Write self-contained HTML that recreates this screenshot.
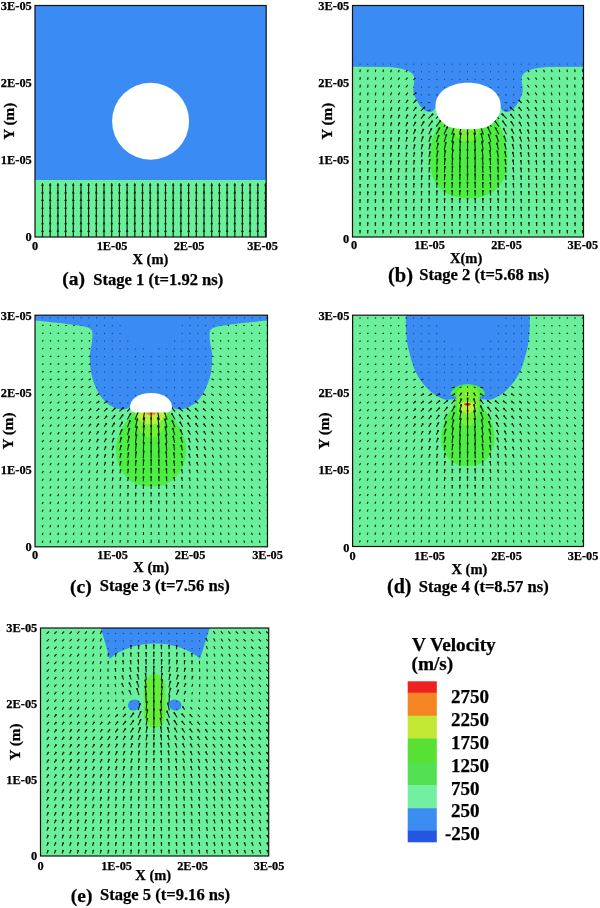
<!DOCTYPE html><html><head><meta charset="utf-8"><style>html,body{margin:0;padding:0;background:#fff}svg{display:block}</style></head><body><svg width="600" height="908" viewBox="0 0 600 908">
<rect width="600" height="908" fill="#fff"/>
<clipPath id="c1"><rect x="35" y="5.5" width="231.2" height="231.5"/></clipPath>
<g clip-path="url(#c1)">
<rect x="35" y="5.5" width="231.2" height="231.5" fill="#3a8cf4"/>
<rect x="35" y="180" width="231.2" height="60" fill="#6af09b"/>
<circle cx="150.6" cy="121.2" r="38.5" fill="#fff"/>
<path d="M42.5 183.5V237.0M50.2 183.5V237.0M57.9 183.5V237.0M65.6 183.5V237.0M73.3 183.5V237.0M81.0 183.5V237.0M88.6 183.5V237.0M96.3 183.5V237.0M104.0 183.5V237.0M111.7 183.5V237.0M119.4 183.5V237.0M127.1 183.5V237.0M134.8 183.5V237.0M142.5 183.5V237.0M150.2 183.5V237.0M157.9 183.5V237.0M165.5 183.5V237.0M173.2 183.5V237.0M180.9 183.5V237.0M188.6 183.5V237.0M196.3 183.5V237.0M204.0 183.5V237.0M211.7 183.5V237.0M219.4 183.5V237.0M227.1 183.5V237.0M234.8 183.5V237.0M242.4 183.5V237.0M250.1 183.5V237.0M257.8 183.5V237.0M265.5 183.5V237.0" stroke="#0c1c12" stroke-width="1.15" fill="none"/>
<path d="M41.1 185.7L42.5 182.9L43.9 185.7ZM41.1 193.4L42.5 190.6L43.9 193.4ZM41.1 201.1L42.5 198.3L43.9 201.1ZM41.1 208.8L42.5 206.0L43.9 208.8ZM41.1 216.5L42.5 213.7L43.9 216.5ZM41.1 224.2L42.5 221.4L43.9 224.2ZM41.1 231.9L42.5 229.1L43.9 231.9ZM41.1 239.6L42.5 236.8L43.9 239.6ZM48.8 185.7L50.2 182.9L51.6 185.7ZM48.8 193.4L50.2 190.6L51.6 193.4ZM48.8 201.1L50.2 198.3L51.6 201.1ZM48.8 208.8L50.2 206.0L51.6 208.8ZM48.8 216.5L50.2 213.7L51.6 216.5ZM48.8 224.2L50.2 221.4L51.6 224.2ZM48.8 231.9L50.2 229.1L51.6 231.9ZM48.8 239.6L50.2 236.8L51.6 239.6ZM56.5 185.7L57.9 182.9L59.3 185.7ZM56.5 193.4L57.9 190.6L59.3 193.4ZM56.5 201.1L57.9 198.3L59.3 201.1ZM56.5 208.8L57.9 206.0L59.3 208.8ZM56.5 216.5L57.9 213.7L59.3 216.5ZM56.5 224.2L57.9 221.4L59.3 224.2ZM56.5 231.9L57.9 229.1L59.3 231.9ZM56.5 239.6L57.9 236.8L59.3 239.6ZM64.2 185.7L65.6 182.9L67.0 185.7ZM64.2 193.4L65.6 190.6L67.0 193.4ZM64.2 201.1L65.6 198.3L67.0 201.1ZM64.2 208.8L65.6 206.0L67.0 208.8ZM64.2 216.5L65.6 213.7L67.0 216.5ZM64.2 224.2L65.6 221.4L67.0 224.2ZM64.2 231.9L65.6 229.1L67.0 231.9ZM64.2 239.6L65.6 236.8L67.0 239.6ZM71.9 185.7L73.3 182.9L74.7 185.7ZM71.9 193.4L73.3 190.6L74.7 193.4ZM71.9 201.1L73.3 198.3L74.7 201.1ZM71.9 208.8L73.3 206.0L74.7 208.8ZM71.9 216.5L73.3 213.7L74.7 216.5ZM71.9 224.2L73.3 221.4L74.7 224.2ZM71.9 231.9L73.3 229.1L74.7 231.9ZM71.9 239.6L73.3 236.8L74.7 239.6ZM79.5 185.7L81.0 182.9L82.4 185.7ZM79.5 193.4L81.0 190.6L82.4 193.4ZM79.5 201.1L81.0 198.3L82.4 201.1ZM79.5 208.8L81.0 206.0L82.4 208.8ZM79.5 216.5L81.0 213.7L82.4 216.5ZM79.5 224.2L81.0 221.4L82.4 224.2ZM79.5 231.9L81.0 229.1L82.4 231.9ZM79.5 239.6L81.0 236.8L82.4 239.6ZM87.2 185.7L88.6 182.9L90.0 185.7ZM87.2 193.4L88.6 190.6L90.0 193.4ZM87.2 201.1L88.6 198.3L90.0 201.1ZM87.2 208.8L88.6 206.0L90.0 208.8ZM87.2 216.5L88.6 213.7L90.0 216.5ZM87.2 224.2L88.6 221.4L90.0 224.2ZM87.2 231.9L88.6 229.1L90.0 231.9ZM87.2 239.6L88.6 236.8L90.0 239.6ZM94.9 185.7L96.3 182.9L97.7 185.7ZM94.9 193.4L96.3 190.6L97.7 193.4ZM94.9 201.1L96.3 198.3L97.7 201.1ZM94.9 208.8L96.3 206.0L97.7 208.8ZM94.9 216.5L96.3 213.7L97.7 216.5ZM94.9 224.2L96.3 221.4L97.7 224.2ZM94.9 231.9L96.3 229.1L97.7 231.9ZM94.9 239.6L96.3 236.8L97.7 239.6ZM102.6 185.7L104.0 182.9L105.4 185.7ZM102.6 193.4L104.0 190.6L105.4 193.4ZM102.6 201.1L104.0 198.3L105.4 201.1ZM102.6 208.8L104.0 206.0L105.4 208.8ZM102.6 216.5L104.0 213.7L105.4 216.5ZM102.6 224.2L104.0 221.4L105.4 224.2ZM102.6 231.9L104.0 229.1L105.4 231.9ZM102.6 239.6L104.0 236.8L105.4 239.6ZM110.3 185.7L111.7 182.9L113.1 185.7ZM110.3 193.4L111.7 190.6L113.1 193.4ZM110.3 201.1L111.7 198.3L113.1 201.1ZM110.3 208.8L111.7 206.0L113.1 208.8ZM110.3 216.5L111.7 213.7L113.1 216.5ZM110.3 224.2L111.7 221.4L113.1 224.2ZM110.3 231.9L111.7 229.1L113.1 231.9ZM110.3 239.6L111.7 236.8L113.1 239.6ZM118.0 185.7L119.4 182.9L120.8 185.7ZM118.0 193.4L119.4 190.6L120.8 193.4ZM118.0 201.1L119.4 198.3L120.8 201.1ZM118.0 208.8L119.4 206.0L120.8 208.8ZM118.0 216.5L119.4 213.7L120.8 216.5ZM118.0 224.2L119.4 221.4L120.8 224.2ZM118.0 231.9L119.4 229.1L120.8 231.9ZM118.0 239.6L119.4 236.8L120.8 239.6ZM125.7 185.7L127.1 182.9L128.5 185.7ZM125.7 193.4L127.1 190.6L128.5 193.4ZM125.7 201.1L127.1 198.3L128.5 201.1ZM125.7 208.8L127.1 206.0L128.5 208.8ZM125.7 216.5L127.1 213.7L128.5 216.5ZM125.7 224.2L127.1 221.4L128.5 224.2ZM125.7 231.9L127.1 229.1L128.5 231.9ZM125.7 239.6L127.1 236.8L128.5 239.6ZM133.4 185.7L134.8 182.9L136.2 185.7ZM133.4 193.4L134.8 190.6L136.2 193.4ZM133.4 201.1L134.8 198.3L136.2 201.1ZM133.4 208.8L134.8 206.0L136.2 208.8ZM133.4 216.5L134.8 213.7L136.2 216.5ZM133.4 224.2L134.8 221.4L136.2 224.2ZM133.4 231.9L134.8 229.1L136.2 231.9ZM133.4 239.6L134.8 236.8L136.2 239.6ZM141.1 185.7L142.5 182.9L143.9 185.7ZM141.1 193.4L142.5 190.6L143.9 193.4ZM141.1 201.1L142.5 198.3L143.9 201.1ZM141.1 208.8L142.5 206.0L143.9 208.8ZM141.1 216.5L142.5 213.7L143.9 216.5ZM141.1 224.2L142.5 221.4L143.9 224.2ZM141.1 231.9L142.5 229.1L143.9 231.9ZM141.1 239.6L142.5 236.8L143.9 239.6ZM148.8 185.7L150.2 182.9L151.6 185.7ZM148.8 193.4L150.2 190.6L151.6 193.4ZM148.8 201.1L150.2 198.3L151.6 201.1ZM148.8 208.8L150.2 206.0L151.6 208.8ZM148.8 216.5L150.2 213.7L151.6 216.5ZM148.8 224.2L150.2 221.4L151.6 224.2ZM148.8 231.9L150.2 229.1L151.6 231.9ZM148.8 239.6L150.2 236.8L151.6 239.6ZM156.5 185.7L157.9 182.9L159.3 185.7ZM156.5 193.4L157.9 190.6L159.3 193.4ZM156.5 201.1L157.9 198.3L159.3 201.1ZM156.5 208.8L157.9 206.0L159.3 208.8ZM156.5 216.5L157.9 213.7L159.3 216.5ZM156.5 224.2L157.9 221.4L159.3 224.2ZM156.5 231.9L157.9 229.1L159.3 231.9ZM156.5 239.6L157.9 236.8L159.3 239.6ZM164.1 185.7L165.5 182.9L166.9 185.7ZM164.1 193.4L165.5 190.6L166.9 193.4ZM164.1 201.1L165.5 198.3L166.9 201.1ZM164.1 208.8L165.5 206.0L166.9 208.8ZM164.1 216.5L165.5 213.7L166.9 216.5ZM164.1 224.2L165.5 221.4L166.9 224.2ZM164.1 231.9L165.5 229.1L166.9 231.9ZM164.1 239.6L165.5 236.8L166.9 239.6ZM171.8 185.7L173.2 182.9L174.6 185.7ZM171.8 193.4L173.2 190.6L174.6 193.4ZM171.8 201.1L173.2 198.3L174.6 201.1ZM171.8 208.8L173.2 206.0L174.6 208.8ZM171.8 216.5L173.2 213.7L174.6 216.5ZM171.8 224.2L173.2 221.4L174.6 224.2ZM171.8 231.9L173.2 229.1L174.6 231.9ZM171.8 239.6L173.2 236.8L174.6 239.6ZM179.5 185.7L180.9 182.9L182.3 185.7ZM179.5 193.4L180.9 190.6L182.3 193.4ZM179.5 201.1L180.9 198.3L182.3 201.1ZM179.5 208.8L180.9 206.0L182.3 208.8ZM179.5 216.5L180.9 213.7L182.3 216.5ZM179.5 224.2L180.9 221.4L182.3 224.2ZM179.5 231.9L180.9 229.1L182.3 231.9ZM179.5 239.6L180.9 236.8L182.3 239.6ZM187.2 185.7L188.6 182.9L190.0 185.7ZM187.2 193.4L188.6 190.6L190.0 193.4ZM187.2 201.1L188.6 198.3L190.0 201.1ZM187.2 208.8L188.6 206.0L190.0 208.8ZM187.2 216.5L188.6 213.7L190.0 216.5ZM187.2 224.2L188.6 221.4L190.0 224.2ZM187.2 231.9L188.6 229.1L190.0 231.9ZM187.2 239.6L188.6 236.8L190.0 239.6ZM194.9 185.7L196.3 182.9L197.7 185.7ZM194.9 193.4L196.3 190.6L197.7 193.4ZM194.9 201.1L196.3 198.3L197.7 201.1ZM194.9 208.8L196.3 206.0L197.7 208.8ZM194.9 216.5L196.3 213.7L197.7 216.5ZM194.9 224.2L196.3 221.4L197.7 224.2ZM194.9 231.9L196.3 229.1L197.7 231.9ZM194.9 239.6L196.3 236.8L197.7 239.6ZM202.6 185.7L204.0 182.9L205.4 185.7ZM202.6 193.4L204.0 190.6L205.4 193.4ZM202.6 201.1L204.0 198.3L205.4 201.1ZM202.6 208.8L204.0 206.0L205.4 208.8ZM202.6 216.5L204.0 213.7L205.4 216.5ZM202.6 224.2L204.0 221.4L205.4 224.2ZM202.6 231.9L204.0 229.1L205.4 231.9ZM202.6 239.6L204.0 236.8L205.4 239.6ZM210.3 185.7L211.7 182.9L213.1 185.7ZM210.3 193.4L211.7 190.6L213.1 193.4ZM210.3 201.1L211.7 198.3L213.1 201.1ZM210.3 208.8L211.7 206.0L213.1 208.8ZM210.3 216.5L211.7 213.7L213.1 216.5ZM210.3 224.2L211.7 221.4L213.1 224.2ZM210.3 231.9L211.7 229.1L213.1 231.9ZM210.3 239.6L211.7 236.8L213.1 239.6ZM218.0 185.7L219.4 182.9L220.8 185.7ZM218.0 193.4L219.4 190.6L220.8 193.4ZM218.0 201.1L219.4 198.3L220.8 201.1ZM218.0 208.8L219.4 206.0L220.8 208.8ZM218.0 216.5L219.4 213.7L220.8 216.5ZM218.0 224.2L219.4 221.4L220.8 224.2ZM218.0 231.9L219.4 229.1L220.8 231.9ZM218.0 239.6L219.4 236.8L220.8 239.6ZM225.7 185.7L227.1 182.9L228.5 185.7ZM225.7 193.4L227.1 190.6L228.5 193.4ZM225.7 201.1L227.1 198.3L228.5 201.1ZM225.7 208.8L227.1 206.0L228.5 208.8ZM225.7 216.5L227.1 213.7L228.5 216.5ZM225.7 224.2L227.1 221.4L228.5 224.2ZM225.7 231.9L227.1 229.1L228.5 231.9ZM225.7 239.6L227.1 236.8L228.5 239.6ZM233.3 185.7L234.8 182.9L236.2 185.7ZM233.3 193.4L234.8 190.6L236.2 193.4ZM233.3 201.1L234.8 198.3L236.2 201.1ZM233.3 208.8L234.8 206.0L236.2 208.8ZM233.3 216.5L234.8 213.7L236.2 216.5ZM233.3 224.2L234.8 221.4L236.2 224.2ZM233.3 231.9L234.8 229.1L236.2 231.9ZM233.3 239.6L234.8 236.8L236.2 239.6ZM241.0 185.7L242.4 182.9L243.8 185.7ZM241.0 193.4L242.4 190.6L243.8 193.4ZM241.0 201.1L242.4 198.3L243.8 201.1ZM241.0 208.8L242.4 206.0L243.8 208.8ZM241.0 216.5L242.4 213.7L243.8 216.5ZM241.0 224.2L242.4 221.4L243.8 224.2ZM241.0 231.9L242.4 229.1L243.8 231.9ZM241.0 239.6L242.4 236.8L243.8 239.6ZM248.7 185.7L250.1 182.9L251.5 185.7ZM248.7 193.4L250.1 190.6L251.5 193.4ZM248.7 201.1L250.1 198.3L251.5 201.1ZM248.7 208.8L250.1 206.0L251.5 208.8ZM248.7 216.5L250.1 213.7L251.5 216.5ZM248.7 224.2L250.1 221.4L251.5 224.2ZM248.7 231.9L250.1 229.1L251.5 231.9ZM248.7 239.6L250.1 236.8L251.5 239.6ZM256.4 185.7L257.8 182.9L259.2 185.7ZM256.4 193.4L257.8 190.6L259.2 193.4ZM256.4 201.1L257.8 198.3L259.2 201.1ZM256.4 208.8L257.8 206.0L259.2 208.8ZM256.4 216.5L257.8 213.7L259.2 216.5ZM256.4 224.2L257.8 221.4L259.2 224.2ZM256.4 231.9L257.8 229.1L259.2 231.9ZM256.4 239.6L257.8 236.8L259.2 239.6ZM264.1 185.7L265.5 182.9L266.9 185.7ZM264.1 193.4L265.5 190.6L266.9 193.4ZM264.1 201.1L265.5 198.3L266.9 201.1ZM264.1 208.8L265.5 206.0L266.9 208.8ZM264.1 216.5L265.5 213.7L266.9 216.5ZM264.1 224.2L265.5 221.4L266.9 224.2ZM264.1 231.9L265.5 229.1L266.9 231.9ZM264.1 239.6L265.5 236.8L266.9 239.6Z" fill="#0c1c12"/>
</g>
<rect x="35" y="5.5" width="231.2" height="231.5" fill="none" stroke="#111" stroke-width="1.2"/>
<text x="31.8" y="241.3" font-size="12.4" text-anchor="end" font-family="Liberation Serif, serif" font-weight="bold" stroke="#000" stroke-width="0.25">0</text>
<text x="31.8" y="164.1" font-size="12.4" text-anchor="end" font-family="Liberation Serif, serif" font-weight="bold" stroke="#000" stroke-width="0.25">1E-05</text>
<text x="31.8" y="87.0" font-size="12.4" text-anchor="end" font-family="Liberation Serif, serif" font-weight="bold" stroke="#000" stroke-width="0.25">2E-05</text>
<text x="31.8" y="9.8" font-size="12.4" text-anchor="end" font-family="Liberation Serif, serif" font-weight="bold" stroke="#000" stroke-width="0.25">3E-05</text>
<text x="35.0" y="249.5" font-size="12.3" text-anchor="middle" font-family="Liberation Serif, serif" font-weight="bold" stroke="#000" stroke-width="0.25">0</text>
<text x="112.1" y="249.5" font-size="12.3" text-anchor="middle" font-family="Liberation Serif, serif" font-weight="bold" stroke="#000" stroke-width="0.25">1E-05</text>
<text x="189.1" y="249.5" font-size="12.3" text-anchor="middle" font-family="Liberation Serif, serif" font-weight="bold" stroke="#000" stroke-width="0.25">2E-05</text>
<text x="262.5" y="249.5" font-size="12.3" text-anchor="middle" font-family="Liberation Serif, serif" font-weight="bold" stroke="#000" stroke-width="0.25">3E-05</text>
<text x="132.5" y="264.0" font-size="14.5" font-family="Liberation Serif, serif" font-weight="bold" stroke="#000" stroke-width="0.25">X (m)</text>
<text transform="translate(14.4,121.2) rotate(-90)" font-size="15.2" text-anchor="middle" textLength="37" lengthAdjust="spacingAndGlyphs" font-family="Liberation Serif, serif" font-weight="bold" stroke="#000" stroke-width="0.25">Y (m)</text>
<text x="62.3" y="285.3" font-size="19.5" font-family="Liberation Serif, serif" font-weight="bold" stroke="#000" stroke-width="0.25">(a)</text>
<text x="93.3" y="284.7" font-size="16.5" textLength="130" lengthAdjust="spacingAndGlyphs" font-family="Liberation Serif, serif" font-weight="bold" stroke="#000" stroke-width="0.25">Stage 1 (t=1.92 ns)</text>
<clipPath id="c2"><rect x="352.5" y="5.5" width="231" height="231.5"/></clipPath>
<g clip-path="url(#c2)">
<rect x="352.5" y="5.5" width="231" height="231.5" fill="#6af09b"/>
<path d="M352.5 0L352.5 66.7L388 66.9C389.7 67.1 394.8 67.4 398.0 68.0C401.2 68.6 404.5 69.4 407.0 70.5C409.5 71.6 411.8 72.9 413.0 74.5C414.2 76.1 414.2 77.4 414.3 80.0C414.4 82.6 413.2 87.2 413.3 90.0C413.4 92.8 414.1 94.8 415.0 97.0C415.9 99.2 417.2 101.5 418.5 103.5C419.8 105.5 421.3 107.6 423.0 109.0C424.7 110.4 426.8 111.7 428.5 112.0C430.2 112.3 431.8 111.6 433.0 110.8C434.2 110.0 435.5 107.6 436.0 107.0L500.0 107.0C500.5 107.6 501.8 110.0 503.0 110.8C504.2 111.6 505.8 112.3 507.5 112.0C509.2 111.7 511.3 110.4 513.0 109.0C514.7 107.6 516.2 105.5 517.5 103.5C518.8 101.5 520.1 99.2 521.0 97.0C521.9 94.8 522.6 92.8 522.7 90.0C522.8 87.2 521.7 82.6 521.7 80.0C521.8 77.4 521.8 76.1 523.0 74.5C524.2 72.9 526.5 71.6 529.0 70.5C531.5 69.4 534.8 68.6 538.0 68.0C541.2 67.4 546.3 67.1 548.0 66.9L584 66.7L584 0Z" fill="#3a8cf4"/>
<path d="M439.0 118.0C438.8 119.0 438.8 121.2 438.0 124.0C437.2 126.8 435.1 131.8 434.0 135.0C432.9 138.2 432.2 138.8 431.5 143.0C430.8 147.2 429.8 154.4 430.0 160.0C430.2 165.6 430.6 171.7 432.5 176.7C434.4 181.7 437.9 186.7 441.7 190.0C445.4 193.3 450.5 195.1 455.0 196.5C459.5 197.9 464.1 198.3 468.7 198.3C473.3 198.3 477.9 197.9 482.4 196.5C486.9 195.1 491.9 193.3 495.7 190.0C499.4 186.7 502.9 181.7 504.9 176.7C506.8 171.7 507.2 165.6 507.4 160.0C507.6 154.4 506.6 147.2 505.9 143.0C505.2 138.8 504.5 138.2 503.4 135.0C502.3 131.8 500.2 126.8 499.4 124.0C498.6 121.2 498.6 119.0 498.4 118.0Z" fill="#4cee42"/>
<path d="M453 125C453 136 459 141.7 466.5 141.7C474 141.7 480 136 480 125Z" fill="#72f232"/>
<path d="M360.0 233.6L360.1 230.2M360.0 225.9L360.1 222.5M360.0 218.3L360.1 214.8M360.0 210.6L360.1 207.1M360.0 202.9L360.1 199.4M360.0 195.2L360.1 191.7M360.0 187.6L360.2 184.0M360.0 179.9L360.2 176.3M360.0 172.2L360.2 168.7M360.0 164.5L360.2 161.0M360.0 156.8L360.3 153.3M360.0 149.1L360.3 145.7M359.9 141.5L360.3 138.0M359.9 133.8L360.3 130.4M359.9 126.1L360.4 122.8M359.9 118.4L360.4 115.1M359.9 110.7L360.4 107.5M359.9 103.0L360.4 99.9M359.9 95.3L360.4 92.3M359.9 87.6L360.4 84.7M359.9 79.9L360.3 77.1M359.9 72.2L360.3 69.4M367.7 233.6L367.7 230.1M367.7 225.9L367.8 222.4M367.7 218.3L367.8 214.7M367.7 210.6L367.8 207.0M367.7 202.9L367.8 199.3M367.7 195.2L367.8 191.6M367.7 187.6L367.8 184.0M367.6 179.9L367.9 176.3M367.6 172.2L367.9 168.6M367.6 164.5L367.9 160.9M367.6 156.8L368.0 153.3M367.6 149.2L368.0 145.6M367.6 141.5L368.0 138.0M367.6 133.8L368.1 130.3M367.6 126.1L368.1 122.7M367.6 118.4L368.1 115.1M367.6 110.7L368.1 107.5M367.6 103.0L368.2 99.9M367.6 95.3L368.1 92.3M367.6 87.6L368.1 84.7M367.6 79.9L368.1 77.1M367.6 72.2L368.1 69.5M375.3 233.6L375.4 230.1M375.3 226.0L375.4 222.4M375.3 218.3L375.5 214.7M375.3 210.6L375.5 207.0M375.3 202.9L375.5 199.3M375.3 195.2L375.5 191.6M375.3 187.6L375.5 183.9M375.3 179.9L375.6 176.2M375.3 172.2L375.6 168.5M375.3 164.5L375.7 160.8M375.3 156.9L375.7 153.2M375.3 149.2L375.8 145.5M375.3 141.5L375.8 137.9M375.3 133.8L375.9 130.3M375.3 126.1L375.9 122.7M375.3 118.4L375.9 115.1M375.3 110.7L376.0 107.5M375.3 103.0L376.0 99.9M375.3 95.3L375.9 92.4M375.3 87.6L375.9 84.8M375.3 79.9L375.9 77.2M375.3 72.2L375.8 69.6M383.0 233.6L383.1 230.1M383.0 226.0L383.1 222.4M383.0 218.3L383.1 214.6M383.0 210.6L383.2 206.9M383.0 202.9L383.2 199.2M383.0 195.3L383.2 191.5M383.0 187.6L383.2 183.8M383.0 179.9L383.3 176.1M383.0 172.2L383.3 168.4M383.0 164.6L383.4 160.7M383.0 156.9L383.5 153.1M383.0 149.2L383.5 145.4M382.9 141.5L383.6 137.8M382.9 133.8L383.7 130.2M382.9 126.1L383.7 122.6M382.9 118.4L383.8 115.0M382.9 110.7L383.8 107.5M382.9 103.0L383.8 99.9M382.9 95.3L383.8 92.4M382.9 87.6L383.7 84.8M382.9 79.9L383.7 77.3M382.9 72.2L383.6 69.7M390.7 233.6L390.8 230.0M390.7 226.0L390.8 222.3M390.7 218.3L390.8 214.6M390.7 210.6L390.8 206.9M390.7 202.9L390.9 199.2M390.7 195.3L390.9 191.5M390.7 187.6L390.9 183.7M390.7 179.9L391.0 176.0M390.7 172.2L391.1 168.3M390.6 164.6L391.1 160.6M390.6 156.9L391.2 152.9M390.6 149.2L391.3 145.3M390.6 141.5L391.4 137.7M390.6 133.8L391.5 130.1M390.6 126.1L391.6 122.5M390.6 118.4L391.7 115.0M390.5 110.7L391.7 107.4M390.5 103.0L391.7 99.9M390.5 95.3L391.7 92.4M390.6 87.6L391.6 84.9M390.6 79.9L391.6 77.4M390.6 72.2L391.5 69.8M398.4 233.6L398.5 230.0M398.4 226.0L398.5 222.3M398.4 218.3L398.5 214.6M398.4 210.6L398.5 206.8M398.4 203.0L398.6 199.1M398.4 195.3L398.6 191.4M398.4 187.6L398.6 183.6M398.3 179.9L398.7 175.9M398.3 172.3L398.8 168.2M398.3 164.6L398.9 160.5M398.3 156.9L399.0 152.8M398.3 149.2L399.1 145.1M398.3 141.5L399.2 137.5M398.2 133.9L399.4 129.9M398.2 126.1L399.5 122.4M398.2 118.4L399.6 114.9M398.2 110.7L399.7 107.4M398.2 103.0L399.7 100.0M398.2 95.3L399.7 92.5M398.2 87.6L399.6 85.0M398.2 79.9L399.5 77.5M398.2 72.2L399.3 69.9M406.1 233.7L406.2 230.0M406.1 226.0L406.2 222.2M406.1 218.3L406.2 214.5M406.1 210.6L406.2 206.8M406.1 203.0L406.2 199.0M406.0 195.3L406.3 191.3M406.0 187.6L406.3 183.5M406.0 180.0L406.4 175.8M406.0 172.3L406.5 168.0M406.0 164.6L406.6 160.3M406.0 157.0L406.8 152.6M405.9 149.3L406.9 144.9M405.9 141.6L407.1 137.2M405.9 133.9L407.4 129.7M405.8 126.2L407.6 122.2M405.8 118.5L407.8 114.7M405.8 110.7L407.9 107.3M405.8 103.0L407.9 100.0M405.8 95.3L407.8 92.6M405.8 87.5L407.7 85.2M405.8 79.8L407.5 77.7M405.9 72.1L407.3 70.2M413.7 233.7L413.8 229.9M413.7 226.0L413.8 222.2M413.7 218.3L413.9 214.4M413.7 210.7L413.9 206.7M413.7 203.0L413.9 198.9M413.7 195.3L414.0 191.1M413.7 187.7L414.0 183.3M413.7 180.0L414.1 175.6M413.7 172.3L414.2 167.8M413.7 164.7L414.4 160.0M413.6 157.0L414.5 152.3M413.6 149.3L414.8 144.5M413.5 141.7L415.1 136.9M413.5 134.0L415.4 129.3M413.4 126.2L415.7 121.9M413.4 118.5L416.0 114.5M413.3 110.8L416.2 107.2M413.3 103.0L416.3 100.0M413.3 95.2L416.2 92.7M413.4 79.8L415.6 77.9M421.4 233.7L421.5 229.9M421.4 226.0L421.5 222.1M421.4 218.3L421.5 214.4M421.4 210.7L421.6 206.6M421.4 203.0L421.6 198.8M421.4 195.4L421.6 191.0M421.4 187.7L421.7 183.1M421.4 180.1L421.8 175.3M421.4 172.4L421.9 167.5M421.3 164.7L422.1 159.7M421.3 157.1L422.3 151.9M421.2 149.4L422.6 144.1M421.2 141.7L423.0 136.4M421.1 134.0L423.5 128.9M421.0 126.3L424.1 121.4M420.9 118.6L424.5 114.2M420.8 110.8L424.9 107.0M429.1 233.7L429.2 229.8M429.1 226.0L429.2 222.1M429.1 218.4L429.2 214.3M429.1 210.7L429.2 206.5M429.1 203.0L429.3 198.6M429.1 195.4L429.3 190.8M429.1 187.7L429.4 182.9M429.1 180.1L429.5 175.0M429.0 172.5L429.6 167.1M429.0 164.8L429.8 159.2M428.9 157.2L430.1 151.3M428.9 149.5L430.5 143.5M428.8 141.8L431.0 135.8M428.7 134.2L431.7 128.2M428.5 126.4L432.5 120.8M428.4 118.6L433.2 113.7M436.8 233.7L436.8 229.8M436.8 226.0L436.9 222.0M436.8 218.4L436.9 214.2M436.8 210.7L436.9 206.3M436.8 203.1L436.9 198.4M436.8 195.4L437.0 190.5M436.8 187.8L437.0 182.6M436.7 180.2L437.1 174.6M436.7 172.5L437.3 166.7M436.7 164.9L437.5 158.7M436.6 157.3L437.8 150.7M436.5 149.6L438.3 142.8M436.4 142.0L438.9 135.0M436.3 134.3L439.8 127.4M436.1 126.6L440.8 120.1M435.9 118.7L441.7 113.1M444.5 233.7L444.5 229.7M444.5 226.0L444.5 221.9M444.5 218.4L444.5 214.1M444.5 210.7L444.6 206.2M444.5 203.1L444.6 198.3M444.5 195.5L444.6 190.3M444.4 187.9L444.7 182.3M444.4 180.2L444.8 174.3M444.4 172.6L444.9 166.2M444.4 165.0L445.1 158.1M444.3 157.4L445.4 150.1M444.2 149.8L445.9 142.1M444.1 142.1L446.6 134.2M443.9 134.5L447.6 126.5M443.8 126.7L448.6 119.2M452.2 233.7L452.2 229.7M452.2 226.0L452.2 221.9M452.2 218.4L452.2 214.0M452.1 210.8L452.2 206.1M452.1 203.1L452.2 198.1M452.1 195.5L452.3 190.1M452.1 187.9L452.3 182.0M452.1 180.3L452.4 173.9M452.1 172.7L452.5 165.8M452.1 165.1L452.6 157.6M452.0 157.5L452.9 149.5M452.0 149.9L453.3 141.4M451.8 142.3L454.0 133.4M451.7 134.6L454.8 125.6M459.8 233.7L459.9 229.7M459.8 226.1L459.9 221.8M459.8 218.4L459.9 213.9M459.8 210.8L459.9 206.0M459.8 203.2L459.9 198.0M459.8 195.5L459.9 189.9M459.8 187.9L459.9 181.8M459.8 180.3L460.0 173.7M459.8 172.8L460.0 165.5M459.8 165.2L460.1 157.3M459.8 157.6L460.3 149.1M459.7 150.0L460.5 140.9M459.7 142.4L460.9 132.8M459.6 134.7L461.4 125.0M467.5 233.7L467.5 229.7M467.5 226.1L467.5 221.8M467.5 218.4L467.5 213.9M467.5 210.8L467.5 206.0M467.5 203.2L467.5 197.9M467.5 195.6L467.5 189.9M467.5 188.0L467.5 181.7M467.5 180.4L467.5 173.6M467.5 172.8L467.5 165.4M467.5 165.2L467.5 157.1M467.5 157.6L467.5 148.9M467.5 150.0L467.6 140.7M467.5 142.4L467.6 132.5M467.5 134.8L467.6 124.7M475.2 233.7L475.2 229.7M475.2 226.1L475.2 221.8M475.2 218.4L475.2 213.9M475.2 210.8L475.2 206.0M475.2 203.2L475.2 198.0M475.2 195.5L475.1 189.9M475.2 187.9L475.1 181.8M475.2 180.3L475.1 173.6M475.2 172.8L475.0 165.5M475.2 165.2L475.0 157.3M475.3 157.6L474.8 149.0M475.3 150.0L474.6 140.8M475.4 142.4L474.3 132.7M475.4 134.7L473.8 124.9M482.9 233.7L482.9 229.7M482.9 226.0L482.8 221.9M482.9 218.4L482.8 214.0M482.9 210.8L482.8 206.1M482.9 203.1L482.8 198.1M482.9 195.5L482.8 190.1M482.9 187.9L482.7 182.0M482.9 180.3L482.7 173.9M482.9 172.7L482.6 165.7M483.0 165.1L482.4 157.6M483.0 157.5L482.2 149.4M483.1 149.9L481.8 141.3M483.2 142.3L481.2 133.3M483.3 134.6L480.4 125.5M490.6 233.7L490.5 229.7M490.6 226.0L490.5 221.9M490.6 218.4L490.5 214.1M490.6 210.7L490.5 206.2M490.6 203.1L490.5 198.2M490.6 195.5L490.4 190.3M490.6 187.9L490.4 182.3M490.6 180.2L490.3 174.2M490.6 172.6L490.2 166.2M490.7 165.0L490.0 158.1M490.7 157.4L489.6 150.0M490.8 149.8L489.2 142.0M490.9 142.2L488.4 134.1M491.1 134.5L487.5 126.4M491.3 126.7L486.5 119.1M498.2 233.7L498.2 229.8M498.3 226.0L498.2 222.0M498.3 218.4L498.2 214.2M498.3 210.7L498.1 206.3M498.3 203.1L498.1 198.4M498.3 195.4L498.1 190.5M498.3 187.8L498.0 182.6M498.3 180.2L497.9 174.6M498.3 172.6L497.8 166.6M498.4 164.9L497.6 158.6M498.4 157.3L497.2 150.7M498.5 149.7L496.8 142.7M498.6 142.0L496.1 134.9M498.8 134.3L495.2 127.3M499.0 126.6L494.2 120.0M499.1 118.8L493.3 113.0M505.9 233.7L505.9 229.8M505.9 226.0L505.8 222.0M505.9 218.4L505.8 214.3M505.9 210.7L505.8 206.4M505.9 203.0L505.8 198.6M506.0 195.4L505.7 190.7M506.0 187.8L505.7 182.9M506.0 180.1L505.6 175.0M506.0 172.5L505.4 167.1M506.0 164.8L505.2 159.2M506.1 157.2L504.9 151.3M506.2 149.5L504.5 143.4M506.3 141.9L504.0 135.7M506.4 134.2L503.3 128.1M506.5 126.4L502.5 120.7M506.7 118.7L501.7 113.6M513.6 233.7L513.5 229.9M513.6 226.0L513.5 222.1M513.6 218.3L513.5 214.3M513.6 210.7L513.5 206.6M513.6 203.0L513.4 198.8M513.6 195.4L513.4 190.9M513.6 187.7L513.3 183.1M513.7 180.1L513.2 175.3M513.7 172.4L513.1 167.4M513.7 164.8L512.9 159.6M513.8 157.1L512.7 151.8M513.8 149.4L512.4 144.0M513.9 141.8L512.0 136.3M514.0 134.1L511.4 128.8M514.1 126.3L510.9 121.4M514.2 118.6L510.4 114.1M514.2 110.8L510.0 107.0M521.3 233.7L521.2 229.9M521.3 226.0L521.2 222.2M521.3 218.3L521.2 214.4M521.3 210.7L521.1 206.7M521.3 203.0L521.1 198.9M521.3 195.3L521.1 191.1M521.3 187.7L521.0 183.3M521.3 180.0L520.9 175.5M521.4 172.4L520.8 167.7M521.4 164.7L520.7 160.0M521.4 157.0L520.5 152.2M521.5 149.3L520.2 144.5M521.5 141.7L519.9 136.8M521.6 134.0L519.6 129.3M521.6 126.2L519.2 121.8M521.7 118.5L518.9 114.5M521.7 110.8L518.7 107.2M521.7 103.0L518.7 100.0M529.0 233.7L528.9 229.9M529.0 226.0L528.9 222.2M529.0 218.3L528.9 214.5M529.0 210.6L528.8 206.7M529.0 203.0L528.8 199.0M529.0 195.3L528.8 191.2M529.0 187.6L528.7 183.5M529.0 180.0L528.6 175.7M529.0 172.3L528.5 168.0M529.1 164.6L528.4 160.2M529.1 157.0L528.3 152.5M529.1 149.3L528.1 144.8M529.2 141.6L527.9 137.2M529.2 133.9L527.6 129.6M529.2 126.2L527.4 122.1M529.3 118.5L527.2 114.7M529.3 110.7L527.1 107.3M529.3 103.0L527.1 100.0M529.3 95.3L527.1 92.6M529.3 87.5L527.3 85.2M529.2 79.8L527.5 77.7M529.2 72.1L527.8 70.2M536.7 233.6L536.6 230.0M536.7 226.0L536.6 222.3M536.7 218.3L536.5 214.5M536.7 210.6L536.5 206.8M536.7 203.0L536.5 199.1M536.7 195.3L536.4 191.4M536.7 187.6L536.4 183.6M536.7 179.9L536.3 175.9M536.7 172.3L536.3 168.2M536.7 164.6L536.2 160.4M536.7 156.9L536.1 152.8M536.8 149.2L535.9 145.1M536.8 141.6L535.8 137.5M536.8 133.9L535.6 129.9M536.8 126.2L535.5 122.3M536.9 118.4L535.3 114.8M536.9 110.7L535.3 107.4M536.9 103.0L535.3 100.0M536.9 95.3L535.3 92.5M536.9 87.6L535.4 85.0M536.8 79.8L535.5 77.5M536.8 72.1L535.7 70.0M544.3 233.6L544.2 230.0M544.3 226.0L544.2 222.3M544.3 218.3L544.2 214.6M544.3 210.6L544.2 206.9M544.3 202.9L544.2 199.2M544.4 195.3L544.1 191.4M544.4 187.6L544.1 183.7M544.4 179.9L544.0 176.0M544.4 172.3L544.0 168.3M544.4 164.6L543.9 160.6M544.4 156.9L543.8 152.9M544.4 149.2L543.7 145.3M544.4 141.5L543.6 137.6M544.5 133.8L543.5 130.0M544.5 126.1L543.4 122.5M544.5 118.4L543.3 115.0M544.5 110.7L543.3 107.4M544.5 103.0L543.3 99.9M544.5 95.3L543.3 92.4M544.5 87.6L543.4 84.9M544.5 79.9L543.5 77.4M544.5 72.2L543.6 69.8M552.0 233.6L551.9 230.1M552.0 226.0L551.9 222.4M552.0 218.3L551.9 214.6M552.0 210.6L551.9 206.9M552.0 202.9L551.9 199.2M552.0 195.3L551.8 191.5M552.0 187.6L551.8 183.8M552.0 179.9L551.7 176.1M552.1 172.2L551.7 168.4M552.1 164.6L551.6 160.7M552.1 156.9L551.6 153.1M552.1 149.2L551.5 145.4M552.1 141.5L551.4 137.8M552.1 133.8L551.4 130.2M552.1 126.1L551.3 122.6M552.1 118.4L551.2 115.0M552.1 110.7L551.2 107.5M552.1 103.0L551.2 99.9M552.1 95.3L551.2 92.4M552.1 87.6L551.3 84.8M552.1 79.9L551.3 77.3M552.1 72.2L551.4 69.7M559.7 233.6L559.6 230.1M559.7 226.0L559.6 222.4M559.7 218.3L559.6 214.7M559.7 210.6L559.6 207.0M559.7 202.9L559.5 199.3M559.7 195.3L559.5 191.6M559.7 187.6L559.5 183.9M559.7 179.9L559.5 176.2M559.7 172.2L559.4 168.5M559.7 164.5L559.4 160.8M559.7 156.9L559.3 153.2M559.8 149.2L559.3 145.5M559.8 141.5L559.2 137.9M559.8 133.8L559.2 130.3M559.8 126.1L559.1 122.7M559.8 118.4L559.1 115.1M559.8 110.7L559.1 107.5M559.8 103.0L559.1 99.9M559.8 95.3L559.1 92.4M559.8 87.6L559.1 84.8M559.8 79.9L559.1 77.2M559.8 72.2L559.2 69.6M567.4 233.6L567.3 230.1M567.4 225.9L567.3 222.4M567.4 218.3L567.3 214.7M567.4 210.6L567.3 207.0M567.4 202.9L567.2 199.3M567.4 195.2L567.2 191.6M567.4 187.6L567.2 184.0M567.4 179.9L567.2 176.3M567.4 172.2L567.1 168.6M567.4 164.5L567.1 160.9M567.4 156.8L567.1 153.3M567.4 149.2L567.0 145.6M567.4 141.5L567.0 138.0M567.4 133.8L566.9 130.3M567.4 126.1L566.9 122.7M567.4 118.4L566.9 115.1M567.4 110.7L566.9 107.5M567.4 103.0L566.9 99.9M567.4 95.3L566.9 92.3M567.4 87.6L566.9 84.7M567.4 79.9L566.9 77.1M567.4 72.2L567.0 69.5M575.1 233.6L575.0 230.1M575.1 225.9L575.0 222.5M575.1 218.3L575.0 214.8M575.1 210.6L574.9 207.1M575.1 202.9L574.9 199.4M575.1 195.2L574.9 191.7M575.1 187.6L574.9 184.0M575.1 179.9L574.9 176.3M575.1 172.2L574.8 168.6M575.1 164.5L574.8 161.0M575.1 156.8L574.8 153.3M575.1 149.1L574.8 145.7M575.1 141.5L574.7 138.0M575.1 133.8L574.7 130.4M575.1 126.1L574.7 122.8M575.1 118.4L574.7 115.1M575.1 110.7L574.7 107.5M575.1 103.0L574.6 99.9M575.1 95.3L574.7 92.3M575.1 87.6L574.7 84.7M575.1 79.9L574.7 77.1M575.1 72.2L574.7 69.4M582.7 233.6L582.7 230.2M582.7 225.9L582.6 222.5M582.7 218.3L582.6 214.8M582.7 210.6L582.6 207.1M582.7 202.9L582.6 199.4M582.7 195.2L582.6 191.7M582.7 187.5L582.6 184.1M582.7 179.9L582.6 176.4M582.8 172.2L582.5 168.7M582.8 164.5L582.5 161.0M582.8 156.8L582.5 153.4M582.8 149.1L582.5 145.7M582.8 141.4L582.5 138.1M582.8 133.8L582.4 130.4M582.8 126.1L582.4 122.8M582.8 118.4L582.4 115.2M582.8 110.7L582.4 107.5M582.8 103.0L582.4 99.9M582.8 95.3L582.4 92.3M582.8 87.6L582.4 84.7M582.8 79.9L582.4 77.0M582.8 72.2L582.4 69.4" stroke="#0c1c12" stroke-width="1.1" fill="none"/>
<path d="M360.0 231.4L360.1 230.2M360.0 223.7L360.1 222.5M360.1 216.0L360.1 214.8M360.1 208.3L360.1 207.1M360.1 200.6L360.1 199.4M360.1 192.9L360.1 191.7M360.1 185.2L360.2 184.0M360.1 177.6L360.2 176.3M360.1 169.9L360.2 168.7M360.1 162.2L360.2 161.0M360.1 154.5L360.3 153.3M360.2 146.9L360.3 145.7M360.2 139.2L360.3 138.0M367.7 231.3L367.7 230.1M367.7 223.7L367.8 222.4M367.7 216.0L367.8 214.7M367.7 208.3L367.8 207.0M367.8 200.6L367.8 199.3M367.8 192.9L367.8 191.6M367.8 185.2L367.8 184.0M367.8 177.5L367.9 176.3M367.8 169.9L367.9 168.6M367.8 162.2L367.9 160.9M367.9 154.5L368.0 153.3M367.9 146.8L368.0 145.6M367.9 139.2L368.0 138.0M367.9 131.5L368.1 130.3M375.4 231.3L375.4 230.1M375.4 223.6L375.4 222.4M375.4 215.9L375.5 214.7M375.4 208.3L375.5 207.0M375.4 200.6L375.5 199.3M375.5 192.9L375.5 191.6M375.5 185.2L375.5 183.9M375.5 177.5L375.6 176.2M375.5 169.8L375.6 168.5M375.5 162.1L375.7 160.8M375.6 154.5L375.7 153.2M375.6 146.8L375.8 145.5M375.6 139.1L375.8 137.9M375.7 131.5L375.9 130.3M375.7 123.9L375.9 122.7M383.1 231.3L383.1 230.1M383.1 223.6L383.1 222.4M383.1 215.9L383.1 214.6M383.1 208.2L383.2 206.9M383.1 200.5L383.2 199.2M383.1 192.8L383.2 191.5M383.2 185.1L383.2 183.8M383.2 177.4L383.3 176.1M383.2 169.8L383.3 168.4M383.2 162.1L383.4 160.7M383.3 154.4L383.5 153.1M383.3 146.7L383.5 145.4M383.4 139.1L383.6 137.8M383.4 131.5L383.7 130.2M383.4 123.8L383.7 122.6M383.5 116.2L383.8 115.0M390.8 231.3L390.8 230.0M390.8 223.6L390.8 222.3M390.8 215.9L390.8 214.6M390.8 208.2L390.8 206.9M390.8 200.5L390.9 199.2M390.8 192.8L390.9 191.5M390.9 185.1L390.9 183.7M390.9 177.4L391.0 176.0M390.9 169.7L391.1 168.3M391.0 162.0L391.1 160.6M391.0 154.3L391.2 152.9M391.1 146.7L391.3 145.3M391.1 139.0L391.4 137.7M391.2 131.4L391.5 130.1M391.2 123.8L391.6 122.5M391.3 116.2L391.7 115.0M391.3 108.6L391.7 107.4M398.4 231.3L398.5 230.0M398.5 223.6L398.5 222.3M398.5 215.9L398.5 214.6M398.5 208.2L398.5 206.8M398.5 200.4L398.6 199.1M398.5 192.7L398.6 191.4M398.5 185.0L398.6 183.6M398.6 177.3L398.7 175.9M398.6 169.6L398.8 168.2M398.7 161.9L398.9 160.5M398.7 154.2L399.0 152.8M398.8 146.6L399.1 145.1M398.9 138.9L399.2 137.5M399.0 131.3L399.4 129.9M399.1 123.7L399.5 122.4M399.1 116.1L399.6 114.9M399.2 108.6L399.7 107.4M399.2 101.0L399.7 100.0M406.1 231.2L406.2 230.0M406.1 223.5L406.2 222.2M406.1 215.8L406.2 214.5M406.2 208.1L406.2 206.8M406.2 200.4L406.2 199.0M406.2 192.7L406.3 191.3M406.2 185.0L406.3 183.5M406.3 177.2L406.4 175.8M406.3 169.5L406.5 168.0M406.4 161.8L406.6 160.3M406.5 154.1L406.8 152.6M406.6 146.4L406.9 144.9M406.7 138.8L407.1 137.2M406.8 131.1L407.4 129.7M407.0 123.6L407.6 122.2M407.1 116.0L407.8 114.7M407.1 108.5L407.9 107.3M407.2 101.0L407.9 100.0M413.8 231.2L413.8 229.9M413.8 223.5L413.8 222.2M413.8 215.8L413.9 214.4M413.8 208.1L413.9 206.7M413.9 200.3L413.9 198.9M413.9 192.6L414.0 191.1M413.9 184.9L414.0 183.3M414.0 177.1L414.1 175.6M414.0 169.4L414.2 167.8M414.1 161.6L414.4 160.0M414.2 153.9L414.5 152.3M414.4 146.2L414.8 144.5M414.5 138.6L415.1 136.9M414.7 130.9L415.4 129.3M414.9 123.4L415.7 121.9M415.1 115.9L416.0 114.5M415.2 108.5L416.2 107.2M415.2 101.0L416.3 100.0M415.2 93.6L416.2 92.7M421.5 231.2L421.5 229.9M421.5 223.5L421.5 222.1M421.5 215.7L421.5 214.4M421.5 208.0L421.6 206.6M421.5 200.3L421.6 198.8M421.6 192.5L421.6 191.0M421.6 184.7L421.7 183.1M421.7 177.0L421.8 175.3M421.7 169.2L421.9 167.5M421.8 161.4L422.1 159.7M422.0 153.7L422.3 151.9M422.1 146.0L422.6 144.1M422.4 138.3L423.0 136.4M422.7 130.7L423.5 128.9M423.0 123.1L424.1 121.4M423.3 115.7L424.5 114.2M423.4 108.4L424.9 107.0M429.2 231.2L429.2 229.8M429.2 223.4L429.2 222.1M429.2 215.7L429.2 214.3M429.2 207.9L429.2 206.5M429.2 200.2L429.3 198.6M429.2 192.4L429.3 190.8M429.3 184.6L429.4 182.9M429.3 176.8L429.5 175.0M429.4 169.0L429.6 167.1M429.5 161.2L429.8 159.2M429.7 153.3L430.1 151.3M430.0 145.5L430.5 143.5M430.3 137.7L431.0 135.8M430.8 130.0L431.7 128.2M431.3 122.5L432.5 120.8M431.8 115.1L433.2 113.7M436.8 231.1L436.8 229.8M436.8 223.4L436.9 222.0M436.8 215.6L436.9 214.2M436.9 207.9L436.9 206.3M436.9 200.1L436.9 198.4M436.9 192.3L437.0 190.5M436.9 184.4L437.0 182.6M437.0 176.6L437.1 174.6M437.1 168.7L437.3 166.7M437.2 160.7L437.5 158.7M437.4 152.7L437.8 150.7M437.8 144.8L438.3 142.8M438.3 136.9L438.9 135.0M438.9 129.2L439.8 127.4M439.6 121.7L440.8 120.1M440.3 114.5L441.7 113.1M444.5 231.1L444.5 229.7M444.5 223.4L444.5 221.9M444.5 215.6L444.5 214.1M444.5 207.8L444.6 206.2M444.5 200.0L444.6 198.3M444.6 192.1L444.6 190.3M444.6 184.2L444.7 182.3M444.7 176.3L444.8 174.3M444.7 168.2L444.9 166.2M444.9 160.1L445.1 158.1M445.1 152.1L445.4 150.1M445.5 144.0L445.9 142.1M446.0 136.1L446.6 134.2M446.7 128.3L447.6 126.5M447.5 120.9L448.6 119.2M452.2 231.1L452.2 229.7M452.2 223.3L452.2 221.9M452.2 215.5L452.2 214.0M452.2 207.7L452.2 206.1M452.2 199.9L452.2 198.1M452.2 192.0L452.3 190.1M452.2 184.0L452.3 182.0M452.3 175.9L452.4 173.9M452.4 167.8L452.5 165.8M452.5 159.6L452.6 157.6M452.7 151.5L452.9 149.5M453.0 143.4L453.3 141.4M453.5 135.3L454.0 133.4M454.1 127.5L454.8 125.6M459.8 231.1L459.9 229.7M459.9 223.3L459.9 221.8M459.9 215.5L459.9 213.9M459.9 207.7L459.9 206.0M459.9 199.8L459.9 198.0M459.9 191.9L459.9 189.9M459.9 183.8L459.9 181.8M459.9 175.7L460.0 173.7M460.0 167.5L460.0 165.5M460.0 159.3L460.1 157.3M460.1 151.1L460.3 149.1M460.3 142.9L460.5 140.9M460.6 134.8L460.9 132.8M461.0 126.9L461.4 125.0M467.5 231.1L467.5 229.7M467.5 223.3L467.5 221.8M467.5 215.5L467.5 213.9M467.5 207.6L467.5 206.0M467.5 199.8L467.5 197.9M467.5 191.9L467.5 189.9M467.5 183.7L467.5 181.7M467.5 175.6L467.5 173.6M467.5 167.4L467.5 165.4M467.5 159.1L467.5 157.1M467.5 150.9L467.5 148.9M467.6 142.7L467.6 140.7M467.6 134.5L467.6 132.5M467.6 126.7L467.6 124.7M475.2 231.1L475.2 229.7M475.2 223.3L475.2 221.8M475.2 215.5L475.2 213.9M475.2 207.7L475.2 206.0M475.2 199.8L475.2 198.0M475.2 191.9L475.1 189.9M475.2 183.8L475.1 181.8M475.1 175.6L475.1 173.6M475.1 167.5L475.0 165.5M475.0 159.3L475.0 157.3M474.9 151.0L474.8 149.0M474.8 142.8L474.6 140.8M474.5 134.7L474.3 132.7M474.2 126.9L473.8 124.9M482.9 231.1L482.9 229.7M482.9 223.3L482.8 221.9M482.9 215.5L482.8 214.0M482.8 207.7L482.8 206.1M482.8 199.9L482.8 198.1M482.8 192.0L482.8 190.1M482.8 184.0L482.7 182.0M482.8 175.9L482.7 173.9M482.7 167.7L482.6 165.7M482.6 159.6L482.4 157.6M482.4 151.4L482.2 149.4M482.1 143.3L481.8 141.3M481.6 135.2L481.2 133.3M481.0 127.4L480.4 125.5M490.5 231.1L490.5 229.7M490.5 223.4L490.5 221.9M490.5 215.6L490.5 214.1M490.5 207.8L490.5 206.2M490.5 199.9L490.5 198.2M490.5 192.1L490.4 190.3M490.4 184.2L490.4 182.3M490.4 176.2L490.3 174.2M490.3 168.1L490.2 166.2M490.2 160.1L490.0 158.1M489.9 152.0L489.6 150.0M489.6 143.9L489.2 142.0M489.0 136.0L488.4 134.1M488.3 128.2L487.5 126.4M487.5 120.8L486.5 119.1M498.2 231.1L498.2 229.8M498.2 223.4L498.2 222.0M498.2 215.6L498.2 214.2M498.2 207.9L498.1 206.3M498.2 200.1L498.1 198.4M498.1 192.2L498.1 190.5M498.1 184.4L498.0 182.6M498.0 176.5L497.9 174.6M498.0 168.6L497.8 166.6M497.8 160.6L497.6 158.6M497.6 152.6L497.2 150.7M497.3 144.7L496.8 142.7M496.8 136.8L496.1 134.9M496.1 129.1L495.2 127.3M495.4 121.6L494.2 120.0M494.7 114.4L493.3 113.0M505.9 231.2L505.9 229.8M505.9 223.4L505.8 222.0M505.9 215.7L505.8 214.3M505.9 207.9L505.8 206.4M505.8 200.2L505.8 198.6M505.8 192.4L505.7 190.7M505.8 184.6L505.7 182.9M505.7 176.8L505.6 175.0M505.6 168.9L505.4 167.1M505.5 161.1L505.2 159.2M505.3 153.2L504.9 151.3M505.1 145.4L504.5 143.4M504.7 137.6L504.0 135.7M504.2 129.9L503.3 128.1M503.6 122.4L502.5 120.7M503.1 115.1L501.7 113.6M513.6 231.2L513.5 229.9M513.6 223.5L513.5 222.1M513.5 215.7L513.5 214.3M513.5 208.0L513.5 206.6M513.5 200.3L513.4 198.8M513.5 192.5L513.4 190.9M513.4 184.7L513.3 183.1M513.4 176.9L513.2 175.3M513.3 169.2L513.1 167.4M513.2 161.4L512.9 159.6M513.1 153.6L512.7 151.8M512.9 145.9L512.4 144.0M512.6 138.2L512.0 136.3M512.3 130.6L511.4 128.8M512.0 123.0L510.9 121.4M511.7 115.6L510.4 114.1M511.5 108.3L510.0 107.0M521.2 231.2L521.2 229.9M521.2 223.5L521.2 222.2M521.2 215.8L521.2 214.4M521.2 208.1L521.1 206.7M521.2 200.3L521.1 198.9M521.2 192.6L521.1 191.1M521.1 184.8L521.0 183.3M521.1 177.1L520.9 175.5M521.0 169.4L520.8 167.7M520.9 161.6L520.7 160.0M520.8 153.9L520.5 152.2M520.7 146.2L520.2 144.5M520.5 138.5L519.9 136.8M520.3 130.9L519.6 129.3M520.1 123.4L519.2 121.8M519.9 115.9L518.9 114.5M519.8 108.4L518.7 107.2M519.7 101.0L518.7 100.0M528.9 231.2L528.9 229.9M528.9 223.5L528.9 222.2M528.9 215.8L528.9 214.5M528.9 208.1L528.8 206.7M528.9 200.4L528.8 199.0M528.8 192.7L528.8 191.2M528.8 184.9L528.7 183.5M528.8 177.2L528.6 175.7M528.7 169.5L528.5 168.0M528.6 161.8L528.4 160.2M528.6 154.1L528.3 152.5M528.4 146.4L528.1 144.8M528.3 138.7L527.9 137.2M528.2 131.1L527.6 129.6M528.1 123.5L527.4 122.1M527.9 116.0L527.2 114.7M527.9 108.5L527.1 107.3M527.8 101.0L527.1 100.0M527.9 93.5L527.1 92.6M536.6 231.3L536.6 230.0M536.6 223.6L536.6 222.3M536.6 215.9L536.5 214.5M536.6 208.2L536.5 206.8M536.5 200.4L536.5 199.1M536.5 192.7L536.4 191.4M536.5 185.0L536.4 183.6M536.5 177.3L536.3 175.9M536.4 169.6L536.3 168.2M536.4 161.9L536.2 160.4M536.3 154.2L536.1 152.8M536.2 146.5L535.9 145.1M536.1 138.9L535.8 137.5M536.0 131.3L535.6 129.9M536.0 123.7L535.5 122.3M535.9 116.1L535.3 114.8M535.8 108.6L535.3 107.4M535.8 101.0L535.3 100.0M544.3 231.3L544.2 230.0M544.3 223.6L544.2 222.3M544.3 215.9L544.2 214.6M544.2 208.2L544.2 206.9M544.2 200.5L544.2 199.2M544.2 192.8L544.1 191.4M544.2 185.1L544.1 183.7M544.2 177.4L544.0 176.0M544.1 169.7L544.0 168.3M544.1 162.0L543.9 160.6M544.0 154.3L543.8 152.9M544.0 146.7L543.7 145.3M543.9 139.0L543.6 137.6M543.8 131.4L543.5 130.0M543.8 123.8L543.4 122.5M543.7 116.2L543.3 115.0M543.7 108.6L543.3 107.4M552.0 231.3L551.9 230.1M551.9 223.6L551.9 222.4M551.9 215.9L551.9 214.6M551.9 208.2L551.9 206.9M551.9 200.5L551.9 199.2M551.9 192.8L551.8 191.5M551.9 185.1L551.8 183.8M551.9 177.4L551.7 176.1M551.8 169.8L551.7 168.4M551.8 162.1L551.6 160.7M551.8 154.4L551.6 153.1M551.7 146.7L551.5 145.4M551.7 139.1L551.4 137.8M551.6 131.4L551.4 130.2M551.6 123.8L551.3 122.6M551.6 116.2L551.2 115.0M559.6 231.3L559.6 230.1M559.6 223.6L559.6 222.4M559.6 215.9L559.6 214.7M559.6 208.3L559.6 207.0M559.6 200.6L559.5 199.3M559.6 192.9L559.5 191.6M559.6 185.2L559.5 183.9M559.5 177.5L559.5 176.2M559.5 169.8L559.4 168.5M559.5 162.1L559.4 160.8M559.5 154.5L559.3 153.2M559.4 146.8L559.3 145.5M559.4 139.1L559.2 137.9M559.4 131.5L559.2 130.3M559.4 123.9L559.1 122.7M567.3 231.3L567.3 230.1M567.3 223.7L567.3 222.4M567.3 216.0L567.3 214.7M567.3 208.3L567.3 207.0M567.3 200.6L567.2 199.3M567.3 192.9L567.2 191.6M567.3 185.2L567.2 184.0M567.2 177.5L567.2 176.3M567.2 169.9L567.1 168.6M567.2 162.2L567.1 160.9M567.2 154.5L567.1 153.3M567.2 146.8L567.0 145.6M567.1 139.2L567.0 138.0M567.1 131.5L566.9 130.3M567.1 123.9L566.9 122.7M575.0 231.4L575.0 230.1M575.0 223.7L575.0 222.5M575.0 216.0L575.0 214.8M575.0 208.3L574.9 207.1M575.0 200.6L574.9 199.4M575.0 192.9L574.9 191.7M574.9 185.2L574.9 184.0M574.9 177.6L574.9 176.3M574.9 169.9L574.8 168.6M574.9 162.2L574.8 161.0M574.9 154.5L574.8 153.3M574.9 146.9L574.8 145.7M574.9 139.2L574.7 138.0M574.8 131.6L574.7 130.4M582.7 231.4L582.7 230.2M582.7 223.7L582.6 222.5M582.7 216.0L582.6 214.8M582.7 208.3L582.6 207.1M582.7 200.6L582.6 199.4M582.6 193.0L582.6 191.7M582.6 185.3L582.6 184.1M582.6 177.6L582.6 176.4M582.6 169.9L582.5 168.7M582.6 162.2L582.5 161.0M582.6 154.6L582.5 153.4M582.6 146.9L582.5 145.7" stroke="#0c1c12" stroke-width="1.55" fill="none"/>
<path d="M359.8 64.6L360.2 63.7M367.5 64.6L367.9 63.7M375.1 64.6L375.6 63.7M382.8 64.6L383.3 63.7M390.5 64.6L390.9 63.7M398.2 64.6L398.6 63.7M405.9 64.6L406.3 63.7M413.3 87.4L414.2 87.0M413.4 72.2L414.1 71.4M413.5 64.6L414.0 63.7M420.5 102.7L422.3 102.4M420.8 95.0L422.0 94.7M421.0 87.3L421.9 87.1M421.0 79.7L421.9 79.3M421.0 72.1L421.9 71.5M421.2 64.6L421.7 63.7M427.6 110.4L430.7 110.0M427.9 102.7L430.3 102.4M428.3 95.0L429.9 94.8M428.6 87.2L429.6 87.1M428.6 79.6L429.6 79.4M428.6 72.0L429.6 71.7M428.9 64.6L429.3 63.7M435.8 94.9L437.8 94.8M436.3 87.2L437.3 87.1M436.3 79.5L437.3 79.5M436.3 71.8L437.3 71.8M436.6 64.6L437.0 63.7M443.9 87.2L445.0 87.2M444.0 79.4L445.0 79.6M444.0 71.7L445.0 72.0M444.3 64.6L444.7 63.7M451.7 79.3L452.6 79.7M451.8 71.5L452.6 72.1M451.9 64.6L452.4 63.7M459.5 79.2L460.2 79.8M459.6 71.4L460.1 72.3M459.6 64.6L460.1 63.7M467.5 79.0L467.6 80.0M467.5 71.3L467.5 72.3M467.3 64.6L467.7 63.7M475.6 79.2L474.8 79.8M475.4 71.4L475.0 72.3M475.0 64.6L475.4 63.7M483.3 79.3L482.4 79.7M483.3 71.5L482.5 72.1M482.7 64.6L483.1 63.7M491.1 87.2L490.0 87.2M491.1 79.4L490.1 79.6M491.0 71.6L490.1 72.0M490.3 64.6L490.8 63.7M499.2 94.9L497.3 94.8M498.8 87.2L497.7 87.2M498.7 79.5L497.7 79.5M498.7 71.8L497.7 71.9M498.0 64.6L498.5 63.7M507.5 110.4L504.3 110.0M507.2 102.7L504.7 102.4M506.7 95.0L505.1 94.8M506.4 87.2L505.4 87.1M506.4 79.6L505.4 79.4M506.4 71.9L505.4 71.7M505.7 64.6L506.1 63.7M514.5 102.7L512.7 102.4M514.2 95.0L513.0 94.7M514.1 87.3L513.1 87.1M514.1 79.7L513.1 79.3M514.0 72.1L513.2 71.6M513.4 64.6L513.8 63.7M521.8 95.0L520.8 94.7M521.7 87.4L520.8 87.0M521.7 79.8L520.9 79.2M521.6 72.2L520.9 71.5M521.1 64.6L521.5 63.7M528.7 64.6L529.2 63.7M536.4 64.6L536.9 63.7M544.1 64.6L544.5 63.7M551.8 64.6L552.2 63.7M559.5 64.6L559.9 63.7M567.1 64.6L567.6 63.7M574.8 64.6L575.3 63.7M582.5 64.6L582.9 63.7" stroke="#0a1840" stroke-width="1.05" stroke-opacity="0.72" fill="none"/>
<path d="M435.5 106C435.5 91 451 82.7 468 82.7C485 82.7 500.7 91 500.7 106C500.7 116 494 123 488 126.5C482 129 474 129.3 468 129.3C462 129.3 454 129 448 126.5C442 123 435.5 116 435.5 106Z" fill="#fff"/>
</g>
<rect x="352.5" y="5.5" width="231" height="231.5" fill="none" stroke="#111" stroke-width="1.2"/>
<text x="349.3" y="243.3" font-size="12.4" text-anchor="end" font-family="Liberation Serif, serif" font-weight="bold" stroke="#000" stroke-width="0.25">0</text>
<text x="349.3" y="164.1" font-size="12.4" text-anchor="end" font-family="Liberation Serif, serif" font-weight="bold" stroke="#000" stroke-width="0.25">1E-05</text>
<text x="349.3" y="87.0" font-size="12.4" text-anchor="end" font-family="Liberation Serif, serif" font-weight="bold" stroke="#000" stroke-width="0.25">2E-05</text>
<text x="349.3" y="9.8" font-size="12.4" text-anchor="end" font-family="Liberation Serif, serif" font-weight="bold" stroke="#000" stroke-width="0.25">3E-05</text>
<text x="354.0" y="248.5" font-size="12.3" text-anchor="middle" font-family="Liberation Serif, serif" font-weight="bold" stroke="#000" stroke-width="0.25">0</text>
<text x="429.5" y="248.5" font-size="12.3" text-anchor="middle" font-family="Liberation Serif, serif" font-weight="bold" stroke="#000" stroke-width="0.25">1E-05</text>
<text x="506.5" y="248.5" font-size="12.3" text-anchor="middle" font-family="Liberation Serif, serif" font-weight="bold" stroke="#000" stroke-width="0.25">2E-05</text>
<text x="582.8" y="248.5" font-size="12.3" text-anchor="middle" font-family="Liberation Serif, serif" font-weight="bold" stroke="#000" stroke-width="0.25">3E-05</text>
<text x="450.0" y="262.5" font-size="14.5" font-family="Liberation Serif, serif" font-weight="bold" stroke="#000" stroke-width="0.25">X(m)</text>
<text transform="translate(331.7,121.2) rotate(-90)" font-size="15.2" text-anchor="middle" textLength="37" lengthAdjust="spacingAndGlyphs" font-family="Liberation Serif, serif" font-weight="bold" stroke="#000" stroke-width="0.25">Y (m)</text>
<text x="388" y="282" font-size="20.5" font-family="Liberation Serif, serif" font-weight="bold" stroke="#000" stroke-width="0.25">(b)</text>
<text x="419.2" y="280" font-size="16.5" textLength="130" lengthAdjust="spacingAndGlyphs" font-family="Liberation Serif, serif" font-weight="bold" stroke="#000" stroke-width="0.25">Stage 2 (t=5.68 ns)</text>
<clipPath id="c3"><rect x="35" y="315.2" width="232.5" height="231.6"/></clipPath>
<g clip-path="url(#c3)">
<rect x="35" y="315.2" width="232.5" height="231.6" fill="#6af09b"/>
<path d="M35 300L35 320.6C40.1 321.1 57.1 322.8 65.3 323.8C73.5 324.8 79.7 325.6 84.0 326.5C88.3 327.4 89.6 328.1 91.0 329.5C92.4 330.9 92.3 332.4 92.4 335.0C92.5 337.6 91.9 341.5 91.5 345.0C91.1 348.5 89.8 351.2 89.8 356.0C89.8 360.8 90.1 368.0 91.3 373.7C92.5 379.4 94.7 385.3 97.0 390.0C99.3 394.7 102.2 398.8 105.4 401.8C108.6 404.9 112.8 407.1 116.2 408.3C119.6 409.5 123.6 409.4 126.0 409.0C128.3 408.6 129.6 406.5 130.3 406.0L171.7 406.0C172.4 406.5 173.7 408.6 176.0 409.0C178.3 409.4 182.4 409.5 185.8 408.3C189.2 407.1 193.4 404.9 196.6 401.8C199.8 398.8 202.7 394.7 205.0 390.0C207.3 385.3 209.5 379.4 210.7 373.7C211.9 368.0 212.2 360.8 212.2 356.0C212.2 351.2 210.9 348.5 210.5 345.0C210.1 341.5 209.5 337.6 209.6 335.0C209.7 332.4 209.6 330.9 211.0 329.5C212.4 328.1 213.7 327.4 218.0 326.5C222.3 325.6 228.5 324.8 236.7 323.8C244.9 322.8 261.9 321.1 267.0 320.6L267 300Z" fill="#3a8cf4"/>
<path d="M134.0 408.0C133.5 409.3 132.7 413.2 131.0 416.0C129.3 418.8 126.2 421.5 124.0 425.0C121.8 428.5 119.3 432.7 118.0 437.0C116.7 441.3 115.8 446.2 116.0 451.0C116.2 455.8 117.0 461.3 119.0 466.0C121.0 470.7 124.7 475.8 128.0 479.0C131.3 482.2 135.2 483.8 139.0 485.0C142.8 486.2 147.0 486.5 151.0 486.5C155.0 486.5 159.2 486.2 163.0 485.0C166.8 483.8 170.7 482.2 174.0 479.0C177.3 475.8 181.0 470.7 183.0 466.0C185.0 461.3 185.8 455.8 186.0 451.0C186.2 446.2 185.3 441.3 184.0 437.0C182.7 432.7 180.2 428.5 178.0 425.0C175.8 421.5 172.7 418.8 171.0 416.0C169.3 413.2 168.5 409.3 168.0 408.0Z" fill="#4cee42"/>
<path d="M134.5 410C134.5 424 141 438 151 438C161 438 167.5 424 167.5 410Z" fill="#72f232"/>
<path d="M136 411C136.5 419 143 424.5 151 424.5C159 424.5 165.5 419 166 411Z" fill="#bdf03a"/>
<path d="M144.5 411C146 414.5 149 415.3 151 415.3C153 415.3 156 414.5 157.5 411Z" fill="#f58a20"/>
<path d="M147.5 411.5C149 413.3 153 413.3 154.5 411.5Z" fill="#ee2a1a"/>
<path d="M42.2 542.7L43.0 540.6M42.2 535.0L43.1 532.9M42.2 527.2L43.1 525.1M42.2 519.5L43.1 517.4M42.2 511.8L43.1 509.6M42.1 504.0L43.2 501.9M42.1 496.3L43.2 494.1M42.1 488.5L43.3 486.4M42.1 480.8L43.3 478.7M42.1 473.1L43.4 471.0M42.1 465.3L43.4 463.2M42.1 457.6L43.5 455.5M42.1 449.8L43.5 447.8M42.1 442.1L43.6 440.1M42.1 434.3L43.6 432.4M42.1 426.6L43.7 424.7M42.0 418.8L43.7 417.0M42.0 411.1L43.8 409.3M42.0 403.3L43.8 401.7M42.0 395.6L43.8 394.1M42.0 387.8L43.7 386.5M42.1 380.0L43.7 378.8M42.1 372.3L43.7 371.2M42.1 364.5L43.6 363.6M42.1 356.8L43.5 356.0M42.1 349.0L43.5 348.3M42.1 341.3L43.4 340.6M42.1 333.5L43.5 332.9M42.1 325.8L43.5 325.1M50.0 542.7L50.8 540.5M49.9 535.0L50.8 532.8M49.9 527.3L50.8 525.0M49.9 519.5L50.9 517.3M49.9 511.8L50.9 509.6M49.9 504.0L50.9 501.8M49.9 496.3L51.0 494.1M49.9 488.6L51.0 486.3M49.9 480.8L51.1 478.6M49.9 473.1L51.1 470.9M49.9 465.3L51.2 463.1M49.9 457.6L51.2 455.4M49.9 449.8L51.3 447.7M49.8 442.1L51.4 440.0M49.8 434.4L51.4 432.3M49.8 426.6L51.5 424.6M49.8 418.9L51.6 416.9M49.8 411.1L51.6 409.2M49.8 403.3L51.6 401.6M49.8 395.6L51.6 394.0M49.8 387.8L51.6 386.4M49.8 380.0L51.5 378.8M49.8 372.3L51.5 371.2M49.8 364.5L51.4 363.6M49.8 356.8L51.4 356.0M49.9 349.0L51.3 348.3M49.9 341.3L51.2 340.6M49.9 333.5L51.2 332.9M49.9 325.8L51.2 325.1M57.7 542.7L58.5 540.5M57.7 535.0L58.5 532.7M57.7 527.3L58.6 525.0M57.7 519.5L58.6 517.2M57.7 511.8L58.6 509.5M57.7 504.0L58.7 501.7M57.7 496.3L58.7 494.0M57.7 488.6L58.8 486.2M57.7 480.8L58.8 478.5M57.7 473.1L58.9 470.8M57.7 465.3L59.0 463.0M57.6 457.6L59.0 455.3M57.6 449.9L59.1 447.6M57.6 442.1L59.2 439.9M57.6 434.4L59.3 432.2M57.6 426.6L59.3 424.5M57.6 418.9L59.4 416.8M57.6 411.1L59.4 409.1M57.6 403.3L59.4 401.6M57.6 395.6L59.4 394.0M57.6 387.8L59.4 386.4M57.6 380.0L59.4 378.8M57.6 372.3L59.3 371.2M57.6 364.5L59.2 363.6M57.6 356.8L59.2 355.9M57.6 349.0L59.1 348.3M57.6 341.3L59.0 340.6M57.6 333.5L59.0 332.9M57.6 325.8L59.0 325.2M65.5 542.8L66.3 540.4M65.5 535.0L66.3 532.7M65.5 527.3L66.3 524.9M65.5 519.5L66.4 517.2M65.5 511.8L66.4 509.4M65.5 504.1L66.4 501.7M65.5 496.3L66.5 493.9M65.5 488.6L66.5 486.2M65.5 480.8L66.6 478.4M65.4 473.1L66.7 470.7M65.4 465.4L66.7 462.9M65.4 457.6L66.8 455.2M65.4 449.9L66.9 447.5M65.4 442.1L67.0 439.8M65.4 434.4L67.1 432.1M65.4 426.6L67.2 424.4M65.3 418.9L67.2 416.7M65.3 411.1L67.3 409.1M65.3 403.4L67.3 401.5M65.3 395.6L67.3 393.9M65.3 387.8L67.3 386.3M65.3 380.1L67.2 378.8M65.4 372.3L67.1 371.2M65.4 364.5L67.1 363.6M65.4 356.8L67.0 356.0M65.4 349.0L66.9 348.3M65.4 341.3L66.8 340.6M65.4 333.5L66.8 332.9M65.4 325.8L66.8 325.2M73.3 542.8L74.0 540.3M73.3 535.0L74.0 532.6M73.3 527.3L74.1 524.8M73.3 519.6L74.1 517.1M73.3 511.8L74.1 509.3M73.3 504.1L74.2 501.6M73.3 496.3L74.2 493.8M73.2 488.6L74.3 486.1M73.2 480.9L74.3 478.3M73.2 473.1L74.4 470.6M73.2 465.4L74.5 462.8M73.2 457.6L74.6 455.1M73.2 449.9L74.7 447.3M73.2 442.2L74.8 439.6M73.1 434.4L74.9 431.9M73.1 426.7L75.0 424.3M73.1 418.9L75.1 416.6M73.1 411.1L75.2 409.0M73.1 403.4L75.2 401.4M73.1 395.6L75.2 393.9M73.1 387.8L75.1 386.3M73.1 380.1L75.1 378.8M73.1 372.3L75.0 371.2M73.1 364.5L74.9 363.6M73.2 356.8L74.8 356.0M73.2 349.0L74.7 348.3M73.2 341.3L74.6 340.6M73.2 333.5L74.6 332.9M73.2 325.8L74.6 325.2M81.1 542.8L81.7 540.3M81.1 535.0L81.8 532.5M81.1 527.3L81.8 524.8M81.1 519.6L81.8 517.0M81.1 511.8L81.9 509.2M81.0 504.1L81.9 501.5M81.0 496.4L82.0 493.7M81.0 488.6L82.0 486.0M81.0 480.9L82.1 478.2M81.0 473.1L82.2 470.4M81.0 465.4L82.3 462.7M81.0 457.7L82.4 454.9M80.9 449.9L82.5 447.2M80.9 442.2L82.6 439.5M80.9 434.4L82.7 431.8M80.9 426.7L82.9 424.1M80.9 418.9L83.0 416.5M80.8 411.2L83.1 408.9M80.8 403.4L83.1 401.3M80.8 395.6L83.1 393.8M80.8 387.8L83.1 386.3M80.9 380.1L83.0 378.8M80.9 372.3L82.9 371.2M80.9 364.5L82.8 363.6M80.9 356.8L82.6 356.0M80.9 349.0L82.5 348.3M81.0 341.3L82.4 340.6M81.0 333.5L82.3 332.9M88.9 542.8L89.5 540.2M88.9 535.0L89.5 532.5M88.9 527.3L89.5 524.7M88.8 519.6L89.6 516.9M88.8 511.8L89.6 509.2M88.8 504.1L89.6 501.4M88.8 496.4L89.7 493.6M88.8 488.6L89.7 485.9M88.8 480.9L89.8 478.1M88.8 473.2L89.9 470.3M88.8 465.4L90.0 462.5M88.7 457.7L90.1 454.8M88.7 450.0L90.3 447.0M88.7 442.2L90.4 439.3M88.7 434.5L90.6 431.6M88.6 426.7L90.8 423.9M88.6 419.0L90.9 416.3M88.6 411.2L91.1 408.7M88.6 403.4L91.1 401.3M88.6 395.6L91.1 393.8M88.6 387.8L91.0 386.3M88.6 380.0L90.9 378.8M88.6 372.3L90.8 371.3M88.7 364.5L90.6 363.7M88.7 356.8L90.5 356.0M88.7 349.0L90.3 348.3M88.7 341.3L90.2 340.6M88.7 333.5L90.1 332.9M96.6 542.8L97.2 540.2M96.6 535.1L97.2 532.4M96.6 527.3L97.2 524.6M96.6 519.6L97.3 516.9M96.6 511.9L97.3 509.1M96.6 504.1L97.4 501.3M96.6 496.4L97.4 493.5M96.6 488.7L97.5 485.7M96.6 480.9L97.5 477.9M96.6 473.2L97.6 470.1M96.5 465.5L97.8 462.3M96.5 457.7L97.9 454.5M96.5 450.0L98.1 446.8M96.5 442.3L98.3 439.0M96.4 434.5L98.5 431.3M96.4 426.8L98.7 423.7M96.3 419.0L98.9 416.1M96.3 411.2L99.1 408.6M96.3 403.4L99.2 401.2M96.3 395.6L99.2 393.8M104.4 542.8L104.9 540.1M104.4 535.1L104.9 532.3M104.4 527.3L105.0 524.6M104.4 519.6L105.0 516.8M104.4 511.9L105.0 509.0M104.4 504.1L105.1 501.2M104.4 496.4L105.1 493.4M104.4 488.7L105.2 485.6M104.4 481.0L105.3 477.8M104.3 473.2L105.4 469.9M104.3 465.5L105.5 462.1M104.3 457.8L105.6 454.2M104.3 450.1L105.8 446.4M104.2 442.3L106.1 438.6M104.2 434.6L106.3 430.9M104.1 426.8L106.6 423.3M104.1 419.0L107.0 415.8M104.0 411.3L107.2 408.3M104.0 403.4L107.3 401.1M112.2 542.8L112.6 540.0M112.2 535.1L112.6 532.3M112.2 527.3L112.7 524.5M112.2 519.6L112.7 516.7M112.2 511.9L112.7 508.9M112.2 504.2L112.8 501.1M112.2 496.4L112.8 493.3M112.2 488.7L112.9 485.4M112.2 481.0L112.9 477.6M112.1 473.3L113.0 469.7M112.1 465.6L113.2 461.7M112.1 457.9L113.3 453.8M112.0 450.2L113.6 445.8M112.0 442.5L113.8 438.0M111.9 434.7L114.2 430.3M111.9 426.9L114.6 422.8M111.8 419.1L115.0 415.3M111.7 411.3L115.4 408.0M120.0 542.8L120.3 540.0M120.0 535.1L120.4 532.2M120.0 527.4L120.4 524.4M120.0 519.6L120.4 516.6M120.0 511.9L120.4 508.8M120.0 504.2L120.5 501.0M120.0 496.5L120.5 493.1M120.0 488.7L120.6 485.2M119.9 481.0L120.6 477.3M119.9 473.3L120.7 469.3M119.9 465.7L120.8 461.2M119.9 458.0L121.0 453.2M119.8 450.3L121.2 445.1M119.8 442.6L121.6 437.0M119.7 434.9L122.0 429.3M119.6 427.1L122.5 421.8M119.5 419.3L123.1 414.5M119.4 411.4L123.6 407.5M127.8 542.8L128.0 539.9M127.8 535.1L128.1 532.2M127.8 527.4L128.1 524.4M127.8 519.6L128.1 516.6M127.8 511.9L128.1 508.7M127.8 504.2L128.1 500.9M127.8 496.5L128.2 493.0M127.8 488.8L128.2 485.0M127.7 481.1L128.3 477.0M127.7 473.4L128.4 468.8M127.7 465.8L128.5 460.6M127.7 458.1L128.6 452.3M127.6 450.5L128.8 444.1M127.6 442.8L129.2 435.8M127.5 435.1L129.6 428.0M127.4 427.3L130.2 420.4M127.3 419.5L130.8 413.3M127.2 411.6L131.4 406.6M135.6 542.8L135.7 539.9M135.6 535.1L135.8 532.1M135.6 527.4L135.8 524.3M135.6 519.7L135.8 516.5M135.6 511.9L135.8 508.7M135.6 504.2L135.8 500.8M135.6 496.5L135.8 492.8M135.6 488.8L135.9 484.8M135.5 481.2L135.9 476.6M135.5 473.5L136.0 468.3M135.5 465.9L136.1 460.0M135.5 458.3L136.2 451.5M135.5 450.7L136.4 443.0M135.4 443.1L136.6 434.5M135.4 435.4L137.0 426.4M135.3 427.7L137.5 418.6M135.1 419.8L138.2 411.5M143.4 542.9L143.5 539.8M143.4 535.1L143.5 532.1M143.4 527.4L143.5 524.3M143.4 519.7L143.5 516.4M143.4 511.9L143.5 508.6M143.4 504.2L143.5 500.7M143.4 496.5L143.5 492.7M143.3 488.9L143.5 484.6M143.3 481.2L143.5 476.3M143.3 473.6L143.6 468.0M143.3 466.0L143.6 459.4M143.3 458.4L143.7 450.8M143.3 450.8L143.8 442.1M143.3 443.2L143.9 433.5M143.2 435.6L144.2 425.2M143.2 427.9L144.5 417.4M143.1 420.1L144.9 409.8M151.1 542.9L151.2 539.8M151.1 535.1L151.2 532.0M151.1 527.4L151.2 524.2M151.1 519.7L151.2 516.4M151.1 512.0L151.2 508.5M151.1 504.2L151.2 500.6M151.1 496.6L151.2 492.6M151.1 488.9L151.2 484.5M151.1 481.2L151.2 476.2M151.1 473.6L151.2 467.8M151.1 466.0L151.2 459.2M151.1 458.5L151.2 450.5M151.1 450.9L151.2 441.7M151.1 443.3L151.2 433.0M151.1 435.6L151.2 425.1M151.1 427.9L151.2 417.4M151.1 420.1L151.2 409.6M158.9 542.9L158.9 539.8M158.9 535.1L158.8 532.1M158.9 527.4L158.8 524.3M158.9 519.7L158.8 516.4M158.9 511.9L158.8 508.6M158.9 504.2L158.8 500.7M158.9 496.5L158.8 492.7M158.9 488.9L158.8 484.6M159.0 481.2L158.8 476.3M159.0 473.6L158.7 467.9M159.0 466.0L158.7 459.4M159.0 458.4L158.6 450.8M159.0 450.8L158.5 442.1M159.0 443.3L158.4 433.4M159.1 435.6L158.2 425.1M159.1 427.9L157.9 417.4M159.2 420.1L157.5 409.8M166.7 542.8L166.6 539.9M166.7 535.1L166.5 532.1M166.7 527.4L166.5 524.3M166.7 519.7L166.5 516.5M166.7 511.9L166.5 508.7M166.7 504.2L166.5 500.8M166.7 496.5L166.5 492.8M166.7 488.8L166.4 484.8M166.8 481.2L166.4 476.6M166.8 473.5L166.3 468.3M166.8 465.9L166.2 459.9M166.8 458.3L166.1 451.5M166.8 450.7L165.9 442.9M166.9 443.1L165.7 434.5M166.9 435.4L165.3 426.3M167.0 427.7L164.8 418.6M167.1 419.8L164.2 411.4M174.5 542.8L174.3 539.9M174.5 535.1L174.2 532.2M174.5 527.4L174.2 524.4M174.5 519.6L174.2 516.6M174.5 511.9L174.2 508.7M174.5 504.2L174.2 500.9M174.5 496.5L174.1 493.0M174.5 488.8L174.1 485.0M174.6 481.1L174.0 477.0M174.6 473.4L173.9 468.8M174.6 465.8L173.8 460.6M174.6 458.1L173.7 452.3M174.7 450.5L173.5 444.0M174.7 442.8L173.1 435.8M174.8 435.1L172.7 427.9M174.9 427.3L172.1 420.4M175.0 419.5L171.5 413.2M175.1 411.6L170.9 406.5M182.3 542.8L182.0 540.0M182.3 535.1L181.9 532.2M182.3 527.4L181.9 524.4M182.3 519.6L181.9 516.6M182.3 511.9L181.9 508.8M182.3 504.2L181.8 501.0M182.3 496.5L181.8 493.1M182.3 488.7L181.7 485.2M182.4 481.0L181.7 477.3M182.4 473.4L181.6 469.3M182.4 465.7L181.5 461.2M182.4 458.0L181.3 453.1M182.5 450.3L181.1 445.0M182.5 442.6L180.8 437.0M182.6 434.9L180.3 429.3M182.7 427.1L179.8 421.8M182.8 419.3L179.2 414.5M182.9 411.4L178.7 407.5M190.1 542.8L189.7 540.0M190.1 535.1L189.7 532.3M190.1 527.3L189.6 524.5M190.1 519.6L189.6 516.7M190.1 511.9L189.6 508.9M190.1 504.2L189.5 501.1M190.1 496.4L189.5 493.3M190.1 488.7L189.4 485.4M190.1 481.0L189.4 477.6M190.2 473.3L189.3 469.7M190.2 465.6L189.1 461.7M190.2 457.9L189.0 453.8M190.3 450.2L188.7 445.8M190.3 442.5L188.5 437.9M190.4 434.7L188.1 430.3M190.4 426.9L187.7 422.7M190.5 419.1L187.3 415.3M190.6 411.3L186.9 408.0M197.9 542.8L197.4 540.1M197.9 535.1L197.4 532.3M197.9 527.3L197.3 524.6M197.9 519.6L197.3 516.8M197.9 511.9L197.3 509.0M197.9 504.1L197.2 501.2M197.9 496.4L197.2 493.4M197.9 488.7L197.1 485.6M197.9 481.0L197.0 477.8M198.0 473.2L196.9 469.9M198.0 465.5L196.8 462.1M198.0 457.8L196.7 454.2M198.0 450.1L196.5 446.4M198.1 442.3L196.2 438.6M198.1 434.6L196.0 430.9M198.2 426.8L195.6 423.3M198.2 419.1L195.3 415.8M198.3 411.3L195.1 408.3M198.3 403.4L195.0 401.0M205.7 542.8L205.1 540.2M205.7 535.1L205.1 532.4M205.7 527.3L205.1 524.6M205.7 519.6L205.0 516.9M205.7 511.9L205.0 509.1M205.7 504.1L204.9 501.3M205.7 496.4L204.9 493.5M205.7 488.7L204.8 485.7M205.7 480.9L204.8 477.9M205.7 473.2L204.7 470.1M205.8 465.5L204.5 462.3M205.8 457.7L204.4 454.5M205.8 450.0L204.2 446.7M205.8 442.3L204.0 439.0M205.9 434.5L203.8 431.3M205.9 426.8L203.6 423.7M206.0 419.0L203.4 416.1M206.0 411.2L203.2 408.6M206.0 403.4L203.1 401.2M206.0 395.6L203.1 393.8M213.4 542.8L212.8 540.2M213.4 535.0L212.8 532.5M213.4 527.3L212.8 524.7M213.5 519.6L212.8 516.9M213.5 511.8L212.7 509.2M213.5 504.1L212.7 501.4M213.5 496.4L212.6 493.6M213.5 488.6L212.6 485.9M213.5 480.9L212.5 478.1M213.5 473.2L212.4 470.3M213.5 465.4L212.3 462.5M213.6 457.7L212.2 454.8M213.6 450.0L212.0 447.0M213.6 442.2L211.9 439.3M213.6 434.5L211.7 431.6M213.7 426.7L211.5 423.9M213.7 419.0L211.4 416.3M213.7 411.2L211.2 408.7M213.7 403.4L211.2 401.3M213.7 395.6L211.2 393.8M213.7 387.8L211.3 386.3M213.7 380.0L211.4 378.8M213.7 372.3L211.5 371.3M213.6 364.5L211.7 363.7M213.6 356.8L211.8 356.0M213.6 349.0L212.0 348.3M213.6 341.3L212.1 340.6M213.6 333.5L212.2 332.9M221.2 542.8L220.6 540.3M221.2 535.0L220.5 532.5M221.2 527.3L220.5 524.8M221.2 519.6L220.5 517.0M221.2 511.8L220.4 509.2M221.3 504.1L220.4 501.5M221.3 496.4L220.3 493.7M221.3 488.6L220.3 486.0M221.3 480.9L220.2 478.2M221.3 473.1L220.1 470.4M221.3 465.4L220.0 462.7M221.3 457.7L219.9 454.9M221.4 449.9L219.8 447.2M221.4 442.2L219.7 439.5M221.4 434.4L219.6 431.8M221.4 426.7L219.4 424.1M221.4 418.9L219.3 416.5M221.5 411.2L219.2 408.9M221.5 403.4L219.2 401.3M221.5 395.6L219.2 393.8M221.5 387.8L219.2 386.3M221.4 380.1L219.3 378.8M221.4 372.3L219.4 371.2M221.4 364.5L219.5 363.6M221.4 356.8L219.7 356.0M221.4 349.0L219.8 348.3M221.3 341.3L219.9 340.6M221.3 333.5L220.0 332.9M229.0 542.8L228.3 540.3M229.0 535.0L228.3 532.6M229.0 527.3L228.2 524.8M229.0 519.6L228.2 517.1M229.0 511.8L228.2 509.3M229.0 504.1L228.1 501.6M229.0 496.3L228.1 493.8M229.1 488.6L228.0 486.1M229.1 480.9L228.0 478.3M229.1 473.1L227.9 470.6M229.1 465.4L227.8 462.8M229.1 457.6L227.7 455.1M229.1 449.9L227.6 447.3M229.1 442.2L227.5 439.6M229.2 434.4L227.4 431.9M229.2 426.7L227.3 424.3M229.2 418.9L227.2 416.6M229.2 411.1L227.1 409.0M229.2 403.4L227.1 401.4M229.2 395.6L227.1 393.9M229.2 387.8L227.2 386.3M229.2 380.1L227.2 378.8M229.2 372.3L227.3 371.2M229.2 364.5L227.4 363.6M229.1 356.8L227.5 356.0M229.1 349.0L227.6 348.3M229.1 341.3L227.7 340.6M229.1 333.5L227.7 332.9M229.1 325.8L227.7 325.2M236.8 542.8L236.0 540.4M236.8 535.0L236.0 532.7M236.8 527.3L236.0 524.9M236.8 519.5L235.9 517.2M236.8 511.8L235.9 509.4M236.8 504.1L235.9 501.7M236.8 496.3L235.8 493.9M236.8 488.6L235.8 486.2M236.8 480.8L235.7 478.4M236.9 473.1L235.6 470.7M236.9 465.4L235.6 462.9M236.9 457.6L235.5 455.2M236.9 449.9L235.4 447.5M236.9 442.1L235.3 439.8M236.9 434.4L235.2 432.1M236.9 426.6L235.1 424.4M237.0 418.9L235.1 416.7M237.0 411.1L235.0 409.1M237.0 403.4L235.0 401.5M237.0 395.6L235.0 393.9M237.0 387.8L235.0 386.3M237.0 380.1L235.1 378.8M236.9 372.3L235.2 371.2M236.9 364.5L235.2 363.6M236.9 356.8L235.3 356.0M236.9 349.0L235.4 348.3M236.9 341.3L235.5 340.6M236.9 333.5L235.5 332.9M236.9 325.8L235.5 325.2M244.6 542.7L243.8 540.5M244.6 535.0L243.8 532.7M244.6 527.3L243.7 525.0M244.6 519.5L243.7 517.2M244.6 511.8L243.7 509.5M244.6 504.0L243.6 501.7M244.6 496.3L243.6 494.0M244.6 488.6L243.5 486.2M244.6 480.8L243.5 478.5M244.6 473.1L243.4 470.8M244.6 465.3L243.3 463.0M244.7 457.6L243.3 455.3M244.7 449.9L243.2 447.6M244.7 442.1L243.1 439.9M244.7 434.4L243.0 432.2M244.7 426.6L243.0 424.5M244.7 418.9L242.9 416.8M244.7 411.1L242.9 409.1M244.7 403.3L242.9 401.6M244.7 395.6L242.9 394.0M244.7 387.8L242.9 386.4M244.7 380.0L242.9 378.8M244.7 372.3L243.0 371.2M244.7 364.5L243.1 363.6M244.7 356.8L243.1 355.9M244.7 349.0L243.2 348.3M244.7 341.3L243.3 340.6M244.7 333.5L243.3 332.9M244.7 325.8L243.3 325.2M252.3 542.7L251.5 540.5M252.4 535.0L251.5 532.8M252.4 527.3L251.5 525.0M252.4 519.5L251.4 517.3M252.4 511.8L251.4 509.6M252.4 504.0L251.4 501.8M252.4 496.3L251.3 494.1M252.4 488.6L251.3 486.3M252.4 480.8L251.2 478.6M252.4 473.1L251.2 470.9M252.4 465.3L251.1 463.1M252.4 457.6L251.0 455.4M252.4 449.8L251.0 447.7M252.5 442.1L250.9 440.0M252.5 434.4L250.9 432.3M252.5 426.6L250.8 424.6M252.5 418.9L250.7 416.9M252.5 411.1L250.7 409.2M252.5 403.3L250.7 401.6M252.5 395.6L250.7 394.0M252.5 387.8L250.7 386.4M252.5 380.0L250.8 378.8M252.5 372.3L250.8 371.2M252.5 364.5L250.9 363.6M252.5 356.8L250.9 356.0M252.4 349.0L251.0 348.3M252.4 341.3L251.1 340.6M252.4 333.5L251.1 332.9M252.4 325.8L251.1 325.1M260.1 542.7L259.3 540.6M260.1 535.0L259.3 532.8M260.1 527.2L259.2 525.1M260.1 519.5L259.2 517.4M260.1 511.8L259.2 509.6M260.2 504.0L259.1 501.9M260.2 496.3L259.1 494.1M260.2 488.5L259.0 486.4M260.2 480.8L259.0 478.7M260.2 473.1L258.9 470.9M260.2 465.3L258.9 463.2M260.2 457.6L258.8 455.5M260.2 449.8L258.8 447.8M260.2 442.1L258.7 440.1M260.2 434.3L258.7 432.4M260.2 426.6L258.6 424.7M260.3 418.8L258.6 417.0M260.3 411.1L258.5 409.3M260.3 403.3L258.5 401.7M260.3 395.6L258.5 394.1M260.3 387.8L258.6 386.5M260.2 380.0L258.6 378.8M260.2 372.3L258.6 371.2M260.2 364.5L258.7 363.6M260.2 356.8L258.8 356.0M260.2 349.0L258.8 348.3M260.2 341.3L258.9 340.6M260.2 333.5L258.8 332.9M260.2 325.8L258.8 325.1M267.9 542.7L267.0 540.7M267.9 535.0L267.0 532.9M267.9 527.2L267.0 525.2M267.9 519.5L266.9 517.4M267.9 511.7L266.9 509.7M267.9 504.0L266.9 502.0M267.9 496.3L266.8 494.2M267.9 488.5L266.8 486.5M268.0 480.8L266.8 478.8M268.0 473.0L266.7 471.0M268.0 465.3L266.7 463.3M268.0 457.6L266.6 455.6M268.0 449.8L266.6 447.9M268.0 442.1L266.5 440.2M268.0 434.3L266.5 432.5M268.0 426.6L266.4 424.8M268.0 418.8L266.4 417.1M268.0 411.1L266.3 409.4M268.0 403.3L266.3 401.8M268.0 395.6L266.4 394.1M268.0 387.8L266.4 386.5M268.0 380.0L266.4 378.9M268.0 372.3L266.5 371.3M268.0 364.5L266.5 363.6M268.0 356.8L266.6 356.0M268.0 349.0L266.7 348.3M268.0 341.3L266.6 340.6M268.0 333.5L266.6 332.9M268.0 325.8L266.6 325.1M268.0 318.0L266.6 317.4" stroke="#0c1c12" stroke-width="1.1" fill="none"/>
<path d="M89.8 440.3L90.4 439.3M89.9 432.6L90.6 431.6M90.0 424.9L90.8 423.9M90.1 417.2L90.9 416.3M90.2 409.6L91.1 408.7M97.4 455.7L97.9 454.5M97.5 447.9L98.1 446.8M97.6 440.1L98.3 439.0M97.8 432.4L98.5 431.3M97.9 424.8L98.7 423.7M98.0 417.1L98.9 416.1M98.1 409.5L99.1 408.6M98.2 402.0L99.2 401.2M98.2 394.4L99.2 393.8M105.0 471.1L105.4 469.9M105.1 463.3L105.5 462.1M105.2 455.5L105.6 454.2M105.3 447.7L105.8 446.4M105.4 439.9L106.1 438.6M105.6 432.2L106.3 430.9M105.8 424.5L106.6 423.3M105.9 416.9L107.0 415.8M106.1 409.4L107.2 408.3M106.2 401.9L107.3 401.1M112.7 478.8L112.9 477.6M112.7 470.9L113.0 469.7M112.8 463.1L113.2 461.7M112.9 455.2L113.3 453.8M113.0 447.4L113.6 445.8M113.2 439.5L113.8 438.0M113.4 431.8L114.2 430.3M113.6 424.2L114.6 422.8M113.9 416.7L115.0 415.3M114.1 409.2L115.4 408.0M120.3 486.5L120.6 485.2M120.4 478.6L120.6 477.3M120.4 470.7L120.7 469.3M120.5 462.8L120.8 461.2M120.6 454.8L121.0 453.2M120.7 446.9L121.2 445.1M120.9 438.9L121.6 437.0M121.2 431.2L122.0 429.3M121.5 423.6L122.5 421.8M121.9 416.1L123.1 414.5M122.1 408.9L123.6 407.5M128.0 494.2L128.2 493.0M128.1 486.3L128.2 485.0M128.1 478.4L128.3 477.0M128.1 470.4L128.4 468.8M128.2 462.4L128.5 460.6M128.3 454.3L128.6 452.3M128.5 446.0L128.8 444.1M128.7 437.8L129.2 435.8M129.0 429.9L129.6 428.0M129.4 422.3L130.2 420.4M129.9 415.0L130.8 413.3M130.1 408.1L131.4 406.6M135.7 502.0L135.8 500.8M135.7 494.1L135.8 492.8M135.8 486.2L135.9 484.8M135.8 478.2L135.9 476.6M135.8 470.2L136.0 468.3M135.9 461.9L136.1 460.0M136.0 453.5L136.2 451.5M136.1 445.0L136.4 443.0M136.3 436.5L136.6 434.5M136.7 428.3L137.0 426.4M137.1 420.6L137.5 418.6M137.5 413.4L138.2 411.5M143.4 501.9L143.5 500.7M143.4 494.0L143.5 492.7M143.5 486.1L143.5 484.6M143.5 478.0L143.5 476.3M143.5 469.9L143.6 468.0M143.5 461.4L143.6 459.4M143.6 452.8L143.7 450.8M143.7 444.1L143.8 442.1M143.8 435.5L143.9 433.5M144.0 427.1L144.2 425.2M144.2 419.4L144.5 417.4M144.5 411.8L144.9 409.8M151.2 509.7L151.2 508.5M151.2 501.9L151.2 500.6M151.2 494.0L151.2 492.6M151.2 486.0L151.2 484.5M151.2 478.0L151.2 476.2M151.2 469.8L151.2 467.8M151.2 461.2L151.2 459.2M151.2 452.5L151.2 450.5M151.2 443.7L151.2 441.7M151.2 435.0L151.2 433.0M151.2 427.1L151.2 425.1M151.2 419.4L151.2 417.4M151.2 411.6L151.2 409.6M158.9 501.9L158.8 500.7M158.9 494.0L158.8 492.7M158.8 486.1L158.8 484.6M158.8 478.0L158.8 476.3M158.8 469.9L158.7 467.9M158.8 461.4L158.7 459.4M158.7 452.8L158.6 450.8M158.6 444.1L158.5 442.1M158.5 435.4L158.4 433.4M158.3 427.1L158.2 425.1M158.1 419.4L157.9 417.4M157.8 411.7L157.5 409.8M166.6 502.0L166.5 500.8M166.6 494.1L166.5 492.8M166.5 486.2L166.4 484.8M166.5 478.2L166.4 476.6M166.5 470.1L166.3 468.3M166.4 461.9L166.2 459.9M166.3 453.5L166.1 451.5M166.2 444.9L165.9 442.9M166.0 436.5L165.7 434.5M165.7 428.3L165.3 426.3M165.3 420.5L164.8 418.6M164.8 413.3L164.2 411.4M174.3 494.2L174.1 493.0M174.2 486.3L174.1 485.0M174.2 478.4L174.0 477.0M174.2 470.4L173.9 468.8M174.1 462.4L173.8 460.6M174.0 454.3L173.7 452.3M173.8 446.0L173.5 444.0M173.6 437.7L173.1 435.8M173.3 429.9L172.7 427.9M172.9 422.2L172.1 420.4M172.4 415.0L171.5 413.2M172.2 408.1L170.9 406.5M182.0 486.5L181.7 485.2M181.9 478.6L181.7 477.3M181.9 470.7L181.6 469.3M181.8 462.8L181.5 461.2M181.7 454.8L181.3 453.1M181.6 446.9L181.1 445.0M181.3 438.9L180.8 437.0M181.1 431.2L180.3 429.3M180.8 423.6L179.8 421.8M180.4 416.1L179.2 414.5M180.2 408.9L178.7 407.5M189.6 478.8L189.4 477.6M189.6 470.9L189.3 469.7M189.5 463.1L189.1 461.7M189.4 455.2L189.0 453.8M189.3 447.3L188.7 445.8M189.1 439.5L188.5 437.9M188.9 431.8L188.1 430.3M188.7 424.2L187.7 422.7M188.4 416.6L187.3 415.3M188.2 409.2L186.9 408.0M197.3 471.1L196.9 469.9M197.2 463.3L196.8 462.1M197.1 455.5L196.7 454.2M197.0 447.7L196.5 446.4M196.9 439.9L196.2 438.6M196.7 432.2L196.0 430.9M196.5 424.5L195.6 423.3M196.4 416.9L195.3 415.8M196.2 409.4L195.1 408.3M196.1 401.9L195.0 401.0M204.9 455.7L204.4 454.5M204.8 447.9L204.2 446.7M204.7 440.1L204.0 439.0M204.5 432.4L203.8 431.3M204.4 424.8L203.6 423.7M204.3 417.1L203.4 416.1M204.2 409.5L203.2 408.6M204.1 401.9L203.1 401.2M204.1 394.4L203.1 393.8M212.5 440.3L211.9 439.3M212.4 432.6L211.7 431.6M212.3 424.9L211.5 423.9M212.2 417.2L211.4 416.3M212.1 409.6L211.2 408.7" stroke="#0c1c12" stroke-width="1.55" fill="none"/>
<path d="M41.9 318.2L42.7 317.7M49.6 318.2L50.5 317.7M57.4 318.1L58.3 317.7M65.2 318.1L66.1 317.8M72.9 318.1L73.9 317.8M80.7 325.8L81.6 325.5M80.7 318.1L81.7 317.8M88.5 325.8L89.4 325.5M88.5 318.1L89.4 317.8M96.3 387.8L97.2 387.4M96.3 380.1L97.2 379.6M96.3 372.3L97.2 371.9M96.3 364.6L97.2 364.2M96.3 356.8L97.2 356.5M96.3 349.1L97.2 348.7M96.3 341.3L97.2 341.0M96.3 333.6L97.2 333.3M96.2 325.8L97.2 325.5M96.2 318.1L97.2 317.8M104.0 395.5L105.0 395.2M104.0 387.7L105.0 387.5M104.0 380.0L105.0 379.7M104.0 372.3L105.0 372.0M104.0 364.5L105.0 364.2M104.0 356.8L105.0 356.5M104.0 349.0L105.0 348.8M104.0 341.3L105.0 341.0M104.0 333.6L105.0 333.3M104.0 325.8L105.0 325.5M104.0 318.1L105.0 317.8M111.7 403.2L112.9 403.0M111.8 395.4L112.8 395.2M111.8 387.7L112.8 387.5M111.8 380.0L112.8 379.8M111.8 372.2L112.8 372.0M111.8 364.4L112.8 364.3M111.8 356.7L112.8 356.6M111.8 349.0L112.8 348.8M111.8 341.2L112.8 341.1M111.8 333.5L112.8 333.3M111.8 325.8L112.8 325.6M111.8 318.1L112.8 317.8M119.3 403.2L120.8 403.0M119.6 395.4L120.5 395.3M119.6 387.7L120.5 387.5M119.6 379.9L120.5 379.8M119.6 372.1L120.5 372.2M119.6 364.3L120.5 364.5M119.6 356.6L120.5 356.7M119.6 348.9L120.5 348.9M119.6 341.2L120.5 341.1M119.6 333.5L120.5 333.4M119.6 325.8L120.5 325.6M127.1 403.2L128.6 402.9M127.3 395.4L128.3 395.3M127.3 387.6L128.3 387.6M127.3 379.8L128.3 379.9M127.4 371.9L128.3 372.3M127.4 364.2L128.3 364.6M127.4 356.4L128.3 356.8M127.3 348.7L128.3 349.1M127.3 341.1L128.3 341.2M135.1 395.4L136.1 395.2M135.1 387.6L136.1 387.6M135.1 379.7L136.1 380.0M135.2 371.8L136.0 372.4M135.2 364.0L136.0 364.7M135.2 356.3L136.0 357.0M135.2 348.6L136.0 349.2M142.9 387.7L143.9 387.5M143.0 379.6L143.8 380.1M143.1 371.7L143.6 372.5M143.1 363.9L143.6 364.8M143.1 356.2L143.6 357.1M143.1 348.5L143.6 349.3M151.1 388.1L151.2 387.1M151.1 379.4L151.2 380.4M151.1 371.6L151.2 372.6M151.1 363.9L151.2 364.9M151.1 356.1L151.2 357.1M159.4 387.7L158.4 387.5M159.3 379.6L158.5 380.1M159.2 371.7L158.7 372.5M159.2 363.9L158.7 364.8M159.2 356.2L158.7 357.1M159.2 348.5L158.7 349.3M167.2 395.5L166.2 395.2M167.2 387.6L166.2 387.6M167.2 379.7L166.2 380.0M167.1 371.8L166.3 372.4M167.1 364.0L166.3 364.7M167.1 356.3L166.3 357.0M167.1 348.6L166.3 349.2M175.2 403.2L173.7 402.9M175.0 395.4L174.0 395.3M175.0 387.6L174.0 387.6M175.0 379.8L174.0 379.9M174.9 371.9L174.0 372.3M174.9 364.2L174.0 364.6M174.9 356.4L174.0 356.8M174.9 348.7L174.0 349.1M175.0 341.1L174.0 341.2M183.0 403.2L181.5 403.0M182.7 395.4L181.8 395.3M182.7 387.7L181.8 387.5M182.7 379.9L181.8 379.8M182.7 372.1L181.8 372.2M182.7 364.3L181.8 364.5M182.7 356.6L181.8 356.7M182.7 348.9L181.8 348.9M182.7 341.2L181.8 341.2M182.7 333.5L181.8 333.4M182.7 325.8L181.8 325.6M190.6 403.2L189.4 403.0M190.5 395.4L189.5 395.2M190.5 387.7L189.5 387.5M190.5 380.0L189.5 379.8M190.5 372.2L189.5 372.1M190.5 364.4L189.5 364.3M190.5 356.7L189.5 356.6M190.5 349.0L189.5 348.8M190.5 341.2L189.5 341.1M190.5 333.5L189.5 333.3M190.5 325.8L189.5 325.6M190.5 318.1L189.5 317.8M198.3 395.4L197.3 395.2M198.3 387.7L197.3 387.5M198.3 380.0L197.3 379.7M198.3 372.3L197.3 372.0M198.3 364.5L197.3 364.2M198.3 356.8L197.3 356.5M198.3 349.0L197.3 348.8M198.3 341.3L197.3 341.0M198.3 333.6L197.3 333.3M198.3 325.8L197.3 325.5M198.3 318.1L197.3 317.8M206.0 387.8L205.1 387.4M206.0 380.1L205.1 379.6M206.0 372.3L205.1 371.9M206.0 364.6L205.1 364.2M206.0 356.8L205.1 356.5M206.0 349.1L205.1 348.7M206.0 341.3L205.1 341.0M206.0 333.6L205.1 333.3M206.1 325.8L205.1 325.5M206.1 318.1L205.1 317.8M213.8 325.8L212.9 325.5M213.8 318.1L212.9 317.8M221.6 325.8L220.7 325.5M221.6 318.1L220.6 317.8M229.4 318.1L228.4 317.8M237.1 318.1L236.2 317.8M244.9 318.1L244.0 317.7M252.7 318.2L251.8 317.7M260.4 318.2L259.6 317.7" stroke="#0a1840" stroke-width="1.05" stroke-opacity="0.72" fill="none"/>
<path d="M130 407C130 399 139 393 151 393C163 393 172 399 172 407C172 410 170 412.5 166 412.5L136 412.5C132 412.5 130 410 130 407Z" fill="#fff"/>
</g>
<rect x="35" y="315.2" width="232.5" height="231.6" fill="none" stroke="#111" stroke-width="1.2"/>
<text x="31.8" y="551.1" font-size="12.4" text-anchor="end" font-family="Liberation Serif, serif" font-weight="bold" stroke="#000" stroke-width="0.25">0</text>
<text x="31.8" y="473.9" font-size="12.4" text-anchor="end" font-family="Liberation Serif, serif" font-weight="bold" stroke="#000" stroke-width="0.25">1E-05</text>
<text x="31.8" y="396.7" font-size="12.4" text-anchor="end" font-family="Liberation Serif, serif" font-weight="bold" stroke="#000" stroke-width="0.25">2E-05</text>
<text x="31.8" y="319.5" font-size="12.4" text-anchor="end" font-family="Liberation Serif, serif" font-weight="bold" stroke="#000" stroke-width="0.25">3E-05</text>
<text x="35.0" y="559.3" font-size="12.3" text-anchor="middle" font-family="Liberation Serif, serif" font-weight="bold" stroke="#000" stroke-width="0.25">0</text>
<text x="112.5" y="559.3" font-size="12.3" text-anchor="middle" font-family="Liberation Serif, serif" font-weight="bold" stroke="#000" stroke-width="0.25">1E-05</text>
<text x="190.0" y="559.3" font-size="12.3" text-anchor="middle" font-family="Liberation Serif, serif" font-weight="bold" stroke="#000" stroke-width="0.25">2E-05</text>
<text x="267.5" y="559.3" font-size="12.3" text-anchor="middle" font-family="Liberation Serif, serif" font-weight="bold" stroke="#000" stroke-width="0.25">3E-05</text>
<text x="133.3" y="572.0" font-size="14.5" font-family="Liberation Serif, serif" font-weight="bold" stroke="#000" stroke-width="0.25">X (m)</text>
<text transform="translate(12.6,431.0) rotate(-90)" font-size="15.2" text-anchor="middle" textLength="37" lengthAdjust="spacingAndGlyphs" font-family="Liberation Serif, serif" font-weight="bold" stroke="#000" stroke-width="0.25">Y (m)</text>
<text x="70" y="592.5" font-size="19.5" font-family="Liberation Serif, serif" font-weight="bold" stroke="#000" stroke-width="0.25">(c)</text>
<text x="99.7" y="591.3" font-size="16.5" textLength="130" lengthAdjust="spacingAndGlyphs" font-family="Liberation Serif, serif" font-weight="bold" stroke="#000" stroke-width="0.25">Stage 3 (t=7.56 ns)</text>
<clipPath id="c4"><rect x="352.6" y="315.2" width="230.9" height="231.3"/></clipPath>
<g clip-path="url(#c4)">
<rect x="352.6" y="315.2" width="230.9" height="231.3" fill="#6af09b"/>
<path d="M406.0 300.0C406.0 305.0 405.6 321.7 406.0 330.0C406.4 338.3 406.9 342.7 408.7 350.0C410.5 357.3 413.1 367.2 416.7 374.0C420.2 380.8 425.6 386.8 430.0 391.0C434.4 395.2 439.7 397.6 443.0 399.0C446.3 400.4 447.7 399.7 450.0 399.6C452.3 399.5 455.8 398.7 457.0 398.5L478.6 398.5C479.8 398.7 483.3 399.5 485.6 399.6C487.9 399.7 489.3 400.4 492.6 399.0C495.9 397.6 501.2 395.2 505.6 391.0C510.0 386.8 515.4 380.8 518.9 374.0C522.5 367.2 525.1 357.3 526.9 350.0C528.7 342.7 529.2 338.3 529.6 330.0C530.0 321.7 529.6 305.0 529.6 300.0Z" fill="#3a8cf4"/>
<path d="M450.5 394.2C450.9 393.4 451.6 390.9 453.0 389.5C454.4 388.1 456.5 386.5 459.0 385.6C461.5 384.7 466.3 384.3 467.8 384.0C469.3 384.3 474.1 384.7 476.6 385.6C479.1 386.5 481.2 388.1 482.6 389.5C484.0 390.9 484.7 393.4 485.1 394.2L479.3 397.0C479.4 397.7 479.2 399.3 479.8 401.0C480.4 402.7 481.3 404.8 482.6 407.0C483.9 409.2 486.0 411.2 487.6 414.0C489.2 416.8 490.9 420.3 492.1 424.0C493.3 427.7 494.4 432.0 494.6 436.0C494.8 440.0 494.3 444.3 493.1 448.0C491.9 451.7 490.0 455.2 487.6 458.0C485.2 460.8 481.9 463.1 478.6 464.5C475.3 465.9 469.6 466.0 467.8 466.3C466.0 466.0 460.3 465.9 457.0 464.5C453.7 463.1 450.4 460.8 448.0 458.0C445.6 455.2 443.7 451.7 442.5 448.0C441.3 444.3 440.8 440.0 441.0 436.0C441.2 432.0 442.3 427.7 443.5 424.0C444.7 420.3 446.4 416.8 448.0 414.0C449.6 411.2 451.7 409.2 453.0 407.0C454.3 404.8 455.2 402.7 455.8 401.0C456.4 399.3 456.2 397.7 456.3 397.0Z" fill="#4cee42"/>
<path d="M457 400C455 392 460 385.5 467.5 385.5C475 385.5 481 392 479 400C479 412 476 426 468 426C460 426 457 412 457 400Z" fill="#72f232"/>
<path d="M459.6 403.3C459.6 409.5 463 413 467.6 413C472.2 413 475.6 409.5 475.6 403.3C472 401.6 463 401.6 459.6 403.3Z" fill="#bdf03a"/>
<ellipse cx="467.5" cy="393.5" rx="2.5" ry="1.8" fill="#bdf03a"/>
<ellipse cx="467.5" cy="404.3" rx="3.3" ry="1.3" fill="#ee2a1a"/>
<path d="M359.5 542.4L360.3 540.4M359.5 534.7L360.3 532.7M359.5 527.0L360.3 524.9M359.5 519.2L360.4 517.2M359.5 511.5L360.4 509.5M359.5 503.8L360.4 501.8M359.4 496.1L360.5 494.1M359.4 488.4L360.5 486.3M359.4 480.6L360.5 478.6M359.4 472.9L360.6 470.9M359.4 465.2L360.6 463.2M359.4 457.5L360.7 455.5M359.4 449.8L360.7 447.8M359.4 442.0L360.8 440.1M359.4 434.3L360.8 432.4M359.4 426.6L360.9 424.7M359.4 418.8L360.9 417.1M359.4 411.1L361.0 409.4M359.4 403.4L361.0 401.8M359.4 395.6L361.0 394.2M359.4 387.9L360.9 386.6M359.4 380.2L360.9 379.0M359.4 372.4L360.9 371.4M359.4 364.7L360.8 363.8M359.4 356.9L360.8 356.2M359.4 349.2L360.7 348.5M359.4 341.5L360.7 340.8M359.4 333.8L360.7 333.1M359.4 326.0L360.7 325.4M359.4 318.3L360.7 317.7M367.2 542.4L368.0 540.3M367.2 534.7L368.0 532.6M367.2 527.0L368.0 524.9M367.2 519.3L368.1 517.1M367.2 511.5L368.1 509.4M367.2 503.8L368.1 501.7M367.2 496.1L368.2 494.0M367.2 488.4L368.2 486.3M367.1 480.7L368.2 478.5M367.1 472.9L368.3 470.8M367.1 465.2L368.3 463.1M367.1 457.5L368.4 455.4M367.1 449.8L368.5 447.7M367.1 442.0L368.5 440.0M367.1 434.3L368.6 432.3M367.1 426.6L368.6 424.7M367.1 418.9L368.7 417.0M367.1 411.1L368.7 409.3M367.1 403.4L368.7 401.7M367.1 395.6L368.7 394.1M367.1 387.9L368.7 386.5M367.1 380.2L368.7 379.0M367.1 372.4L368.6 371.4M367.1 364.7L368.6 363.7M367.1 356.9L368.5 356.1M367.1 349.2L368.5 348.5M367.1 341.5L368.5 340.8M367.1 333.8L368.5 333.1M367.1 326.0L368.5 325.4M367.1 318.3L368.5 317.7M374.9 542.4L375.7 540.3M374.9 534.7L375.7 532.5M374.9 527.0L375.7 524.8M374.9 519.3L375.7 517.1M374.9 511.5L375.8 509.4M374.9 503.8L375.8 501.6M374.9 496.1L375.8 493.9M374.9 488.4L375.9 486.2M374.9 480.7L375.9 478.5M374.8 473.0L376.0 470.7M374.8 465.2L376.0 463.0M374.8 457.5L376.1 455.3M374.8 449.8L376.2 447.6M374.8 442.1L376.2 439.9M374.8 434.3L376.3 432.2M374.8 426.6L376.4 424.6M374.8 418.9L376.4 416.9M374.8 411.1L376.5 409.2M374.8 403.4L376.5 401.7M374.8 395.7L376.5 394.1M374.8 387.9L376.5 386.5M374.8 380.2L376.4 378.9M374.8 372.4L376.4 371.3M374.8 364.7L376.3 363.7M374.8 356.9L376.3 356.1M374.8 349.2L376.2 348.5M374.8 341.5L376.2 340.8M374.8 333.8L376.2 333.1M374.8 326.0L376.2 325.4M374.8 318.3L376.2 317.7M382.6 542.4L383.3 540.2M382.6 534.7L383.4 532.5M382.6 527.0L383.4 524.7M382.6 519.3L383.4 517.0M382.6 511.6L383.4 509.3M382.6 503.8L383.5 501.6M382.6 496.1L383.5 493.8M382.6 488.4L383.6 486.1M382.6 480.7L383.6 478.4M382.6 473.0L383.7 470.7M382.6 465.2L383.7 462.9M382.5 457.5L383.8 455.2M382.5 449.8L383.9 447.5M382.5 442.1L384.0 439.8M382.5 434.4L384.1 432.1M382.5 426.6L384.1 424.5M382.5 418.9L384.2 416.8M382.5 411.2L384.3 409.2M382.5 403.4L384.3 401.6M382.5 395.7L384.3 394.0M382.5 387.9L384.2 386.5M382.5 380.2L384.2 378.9M382.5 372.4L384.1 371.3M382.5 364.7L384.1 363.7M382.5 356.9L384.0 356.1M382.5 349.2L383.9 348.5M382.5 341.5L383.9 340.8M382.5 333.8L383.9 333.1M382.5 326.0L383.9 325.4M382.5 318.3L383.9 317.7M390.3 542.4L391.0 540.1M390.3 534.7L391.0 532.4M390.3 527.0L391.1 524.7M390.3 519.3L391.1 516.9M390.3 511.6L391.1 509.2M390.3 503.9L391.2 501.5M390.3 496.1L391.2 493.7M390.3 488.4L391.3 486.0M390.3 480.7L391.3 478.3M390.3 473.0L391.4 470.6M390.3 465.3L391.4 462.8M390.2 457.5L391.5 455.1M390.2 449.8L391.6 447.4M390.2 442.1L391.7 439.7M390.2 434.4L391.8 432.0M390.2 426.6L391.9 424.3M390.2 418.9L392.0 416.7M390.2 411.2L392.1 409.1M390.2 403.4L392.1 401.5M390.2 395.7L392.1 394.0M390.2 387.9L392.0 386.4M390.2 380.2L392.0 378.9M390.2 372.4L391.9 371.3M390.2 364.7L391.8 363.7M390.2 356.9L391.8 356.1M390.2 349.2L391.7 348.5M390.2 341.5L391.6 340.8M390.2 333.8L391.6 333.1M390.2 326.0L391.6 325.4M390.2 318.3L391.6 317.7M398.1 542.5L398.7 540.1M398.1 534.7L398.7 532.3M398.0 527.0L398.7 524.6M398.0 519.3L398.8 516.9M398.0 511.6L398.8 509.1M398.0 503.9L398.8 501.4M398.0 496.2L398.9 493.7M398.0 488.4L398.9 485.9M398.0 480.7L399.0 478.2M398.0 473.0L399.1 470.5M398.0 465.3L399.1 462.7M398.0 457.6L399.2 455.0M397.9 449.8L399.3 447.3M397.9 442.1L399.4 439.6M397.9 434.4L399.6 431.9M397.9 426.7L399.7 424.2M397.9 418.9L399.8 416.6M397.8 411.2L399.9 409.0M397.8 403.4L399.9 401.4M397.8 395.7L399.9 393.9M397.8 387.9L399.9 386.4M397.9 380.2L399.8 378.9M397.9 372.4L399.7 371.3M397.9 364.7L399.6 363.8M397.9 356.9L399.5 356.2M397.9 349.2L399.4 348.5M397.9 341.5L399.3 340.8M397.9 333.8L399.3 333.1M397.9 326.0L399.3 325.4M397.9 318.3L399.3 317.7M405.8 542.5L406.3 540.0M405.8 534.7L406.4 532.3M405.8 527.0L406.4 524.6M405.8 519.3L406.4 516.8M405.8 511.6L406.5 509.1M405.7 503.9L406.5 501.3M405.7 496.2L406.5 493.6M405.7 488.5L406.6 485.8M405.7 480.7L406.7 478.1M405.7 473.0L406.7 470.3M405.7 465.3L406.8 462.6M405.7 457.6L406.9 454.8M405.7 449.9L407.0 447.1M405.6 442.2L407.2 439.4M405.6 434.4L407.3 431.7M405.6 426.7L407.5 424.0M405.5 419.0L407.6 416.4M405.5 411.2L407.7 408.8M405.5 403.5L407.8 401.3M405.5 395.7L407.8 393.9M405.5 387.9L407.8 386.4M405.5 380.2L407.7 378.9M405.6 372.4L407.5 371.4M405.6 364.7L407.4 363.8M405.6 356.9L407.3 356.2M405.6 349.2L407.1 348.5M405.7 341.5L407.0 340.8M405.7 333.8L407.0 333.1M405.7 326.0L407.0 325.4M405.7 318.3L407.0 317.7M413.5 542.5L414.0 540.0M413.5 534.8L414.0 532.2M413.5 527.0L414.1 524.5M413.5 519.3L414.1 516.7M413.5 511.6L414.1 509.0M413.5 503.9L414.2 501.2M413.5 496.2L414.2 493.5M413.4 488.5L414.3 485.7M413.4 480.8L414.3 478.0M413.4 473.0L414.4 470.2M413.4 465.3L414.5 462.4M413.4 457.6L414.6 454.7M413.4 449.9L414.7 446.9M413.3 442.2L414.9 439.2M413.3 434.5L415.1 431.5M413.3 426.7L415.3 423.8M413.2 419.0L415.5 416.2M413.2 411.2L415.7 408.7M413.2 403.5L415.8 401.2M413.2 395.7L415.8 393.8M413.2 387.9L415.7 386.4M413.2 380.2L415.6 379.0M413.2 372.4L415.4 371.5M421.2 542.5L421.7 539.9M421.2 534.8L421.7 532.2M421.2 527.1L421.7 524.4M421.2 519.3L421.7 516.7M421.2 511.6L421.8 508.9M421.2 503.9L421.8 501.2M421.2 496.2L421.8 493.4M421.2 488.5L421.9 485.6M421.2 480.8L422.0 477.9M421.1 473.1L422.0 470.1M421.1 465.4L422.2 462.3M421.1 457.7L422.3 454.5M421.1 449.9L422.4 446.7M421.0 442.2L422.6 438.9M421.0 434.5L422.9 431.2M421.0 426.8L423.1 423.5M420.9 419.0L423.4 416.0M420.9 411.3L423.7 408.5M420.8 403.5L423.8 401.1M420.8 395.7L423.8 393.8M420.9 387.9L423.7 386.5M420.9 380.1L423.5 379.1M428.9 542.5L429.3 539.9M428.9 534.8L429.3 532.1M428.9 527.1L429.4 524.4M428.9 519.4L429.4 516.6M428.9 511.6L429.4 508.9M428.9 503.9L429.4 501.1M428.9 496.2L429.5 493.3M428.9 488.5L429.5 485.5M428.9 480.8L429.6 477.7M428.9 473.1L429.7 469.9M428.8 465.4L429.8 462.1M428.8 457.7L429.9 454.2M428.8 450.0L430.1 446.3M428.8 442.3L430.3 438.5M428.7 434.6L430.6 430.8M428.6 426.9L431.0 423.1M428.6 419.1L431.3 415.6M428.5 411.3L431.7 408.2M428.5 403.5L431.9 401.0M428.5 395.7L431.9 393.8M436.7 542.5L437.0 539.8M436.6 534.8L437.0 532.1M436.6 527.1L437.0 524.3M436.6 519.4L437.0 516.6M436.6 511.6L437.0 508.8M436.6 503.9L437.1 501.0M436.6 496.2L437.1 493.2M436.6 488.5L437.2 485.4M436.6 480.8L437.2 477.5M436.6 473.1L437.3 469.7M436.6 465.5L437.4 461.7M436.6 457.8L437.5 453.8M436.5 450.1L437.7 445.8M436.5 442.4L438.0 437.8M436.4 434.7L438.3 430.1M436.3 427.0L438.7 422.5M436.3 419.2L439.2 415.0M436.2 411.4L439.7 407.7M436.1 403.6L440.0 400.7M436.1 395.7L440.1 393.8M444.4 542.5L444.6 539.8M444.4 534.8L444.6 532.0M444.4 527.1L444.6 524.3M444.4 519.4L444.7 516.5M444.4 511.7L444.7 508.7M444.4 504.0L444.7 500.9M444.4 496.3L444.7 493.1M444.3 488.6L444.8 485.2M444.3 480.9L444.8 477.3M444.3 473.2L444.9 469.3M444.3 465.5L445.0 461.2M444.3 457.9L445.1 453.1M444.3 450.3L445.3 445.0M444.2 442.6L445.5 436.8M444.1 434.9L445.9 428.9M444.1 427.2L446.4 421.3M444.0 419.4L446.9 414.0M443.9 411.5L447.5 407.0M443.8 403.6L447.9 400.4M452.1 542.5L452.3 539.7M452.1 534.8L452.3 532.0M452.1 527.1L452.3 524.2M452.1 519.4L452.3 516.4M452.1 511.7L452.3 508.6M452.1 504.0L452.3 500.8M452.1 496.3L452.3 493.0M452.1 488.6L452.4 485.0M452.1 480.9L452.4 477.0M452.1 473.3L452.5 468.9M452.0 465.6L452.5 460.7M452.0 458.0L452.6 452.3M452.0 450.4L452.8 443.9M452.0 442.8L453.0 435.6M451.9 435.2L453.3 427.5M451.8 427.5L453.7 419.7M451.7 419.7L454.3 412.4M451.7 411.8L454.8 405.8M451.6 403.7L455.1 399.7M451.6 395.7L455.1 393.7M451.6 387.8L454.9 387.4M459.8 542.5L459.9 539.7M459.8 534.8L459.9 531.9M459.8 527.1L459.9 524.2M459.8 519.4L459.9 516.4M459.8 511.7L459.9 508.6M459.8 504.0L459.9 500.8M459.8 496.3L459.9 492.9M459.8 488.6L460.0 484.9M459.8 481.0L460.0 476.8M459.8 473.3L460.0 468.5M459.8 465.7L460.0 460.1M459.8 458.2L460.1 451.6M459.8 450.6L460.2 443.0M459.7 443.0L460.3 434.4M459.7 435.4L460.5 426.1M459.7 427.8L460.8 418.1M459.6 420.0L461.1 410.7M459.6 412.0L461.4 404.3M459.5 403.9L461.5 398.6M459.5 395.9L461.6 392.9M459.5 387.8L461.5 387.1M467.5 542.5L467.5 539.6M467.5 534.8L467.5 531.9M467.5 527.1L467.5 524.1M467.5 519.4L467.5 516.3M467.5 511.7L467.5 508.5M467.5 504.0L467.5 500.7M467.5 496.3L467.5 492.8M467.5 488.6L467.5 484.8M467.5 481.0L467.5 476.6M467.5 473.4L467.6 468.3M467.5 465.8L467.6 459.8M467.5 458.2L467.6 451.2M467.5 450.7L467.6 442.5M467.5 443.1L467.6 433.9M467.5 435.5L467.6 425.4M467.5 427.9L467.6 417.4M467.5 420.1L467.6 409.8M467.5 412.2L467.6 403.4M467.5 404.1L467.6 397.8M467.5 396.0L467.6 392.3M467.5 387.9L467.7 386.4M475.3 542.5L475.2 539.7M475.3 534.8L475.2 531.9M475.3 527.1L475.2 524.1M475.3 519.4L475.2 516.4M475.3 511.7L475.2 508.6M475.3 504.0L475.2 500.7M475.3 496.3L475.1 492.8M475.3 488.6L475.1 484.9M475.3 481.0L475.1 476.7M475.3 473.4L475.1 468.5M475.3 465.8L475.1 460.1M475.3 458.2L475.0 451.5M475.3 450.6L474.9 442.9M475.3 443.1L474.8 434.3M475.4 435.4L474.6 425.9M475.4 427.8L474.4 417.9M475.5 420.0L474.1 410.5M475.5 412.1L473.8 404.1M475.5 404.0L473.7 398.4M475.5 395.9L473.7 392.8M475.5 387.8L473.8 387.0M483.0 542.5L482.8 539.7M483.0 534.8L482.8 532.0M483.0 527.1L482.8 524.2M483.0 519.4L482.8 516.4M483.0 511.7L482.8 508.6M483.0 504.0L482.8 500.8M483.0 496.3L482.7 493.0M483.0 488.6L482.7 485.0M483.0 480.9L482.7 477.0M483.0 473.3L482.6 468.8M483.0 465.7L482.6 460.6M483.0 458.1L482.5 452.2M483.1 450.5L482.3 443.8M483.1 442.9L482.1 435.4M483.2 435.2L481.8 427.3M483.2 427.5L481.4 419.5M483.3 419.7L480.9 412.2M483.4 411.8L480.4 405.6M483.5 403.8L480.1 399.6M483.5 395.7L480.1 393.6M483.4 387.8L480.3 387.3M490.7 542.5L490.5 539.7M490.7 534.8L490.5 532.0M490.7 527.1L490.4 524.2M490.7 519.4L490.4 516.5M490.7 511.7L490.4 508.7M490.7 504.0L490.4 500.9M490.7 496.3L490.4 493.1M490.7 488.6L490.3 485.2M490.7 480.9L490.3 477.3M490.8 473.2L490.2 469.3M490.8 465.6L490.1 461.2M490.8 457.9L490.0 453.0M490.8 450.3L489.8 444.8M490.9 442.6L489.6 436.7M490.9 434.9L489.2 428.8M491.0 427.2L488.7 421.1M491.1 419.4L488.2 413.8M491.2 411.6L487.6 406.9M491.3 403.6L487.2 400.3M498.4 542.5L498.1 539.8M498.4 534.8L498.1 532.1M498.4 527.1L498.1 524.3M498.4 519.4L498.1 516.5M498.4 511.7L498.0 508.8M498.4 503.9L498.0 501.0M498.5 496.2L498.0 493.2M498.5 488.5L497.9 485.4M498.5 480.8L497.9 477.5M498.5 473.2L497.8 469.6M498.5 465.5L497.7 461.7M498.5 457.8L497.6 453.7M498.6 450.1L497.4 445.7M498.6 442.4L497.1 437.7M498.7 434.7L496.8 429.9M498.7 427.0L496.3 422.3M498.8 419.2L495.8 414.9M498.9 411.4L495.3 407.7M499.0 403.6L495.0 400.7M506.1 542.5L505.8 539.8M506.1 534.8L505.8 532.1M506.2 527.1L505.7 524.4M506.2 519.4L505.7 516.6M506.2 511.6L505.7 508.8M506.2 503.9L505.6 501.1M506.2 496.2L505.6 493.3M506.2 488.5L505.6 485.5M506.2 480.8L505.5 477.7M506.2 473.1L505.4 469.9M506.2 465.4L505.3 462.0M506.3 457.7L505.2 454.2M506.3 450.0L505.0 446.3M506.3 442.3L504.8 438.4M506.4 434.6L504.5 430.7M506.4 426.9L504.1 423.1M506.5 419.1L503.7 415.5M506.6 411.3L503.3 408.1M506.6 403.5L503.1 400.9M506.6 395.7L503.1 393.8M513.9 542.5L513.4 539.9M513.9 534.8L513.4 532.2M513.9 527.1L513.4 524.4M513.9 519.3L513.4 516.7M513.9 511.6L513.3 508.9M513.9 503.9L513.3 501.2M513.9 496.2L513.2 493.4M513.9 488.5L513.2 485.6M513.9 480.8L513.1 477.8M513.9 473.1L513.0 470.1M514.0 465.4L512.9 462.3M514.0 457.7L512.8 454.5M514.0 450.0L512.6 446.7M514.0 442.2L512.4 438.9M514.1 434.5L512.2 431.2M514.1 426.8L511.9 423.5M514.2 419.1L511.6 415.9M514.2 411.3L511.4 408.4M514.3 403.5L511.2 401.1M514.3 395.7L511.2 393.8M514.2 387.9L511.3 386.5M521.6 542.5L521.1 540.0M521.6 534.8L521.1 532.2M521.6 527.0L521.0 524.5M521.6 519.3L521.0 516.7M521.6 511.6L521.0 509.0M521.6 503.9L520.9 501.2M521.6 496.2L520.9 493.5M521.6 488.5L520.8 485.7M521.6 480.8L520.8 478.0M521.7 473.0L520.7 470.2M521.7 465.3L520.6 462.4M521.7 457.6L520.5 454.7M521.7 449.9L520.3 446.9M521.7 442.2L520.2 439.2M521.8 434.5L520.0 431.5M521.8 426.7L519.8 423.8M521.9 419.0L519.6 416.2M521.9 411.3L519.4 408.6M521.9 403.5L519.3 401.2M521.9 395.7L519.3 393.8M521.9 387.9L519.3 386.4M521.9 380.2L519.5 379.0M521.8 372.4L519.7 371.5M529.3 542.5L528.7 540.0M529.3 534.8L528.7 532.3M529.3 527.0L528.7 524.5M529.3 519.3L528.7 516.8M529.3 511.6L528.6 509.1M529.3 503.9L528.6 501.3M529.3 496.2L528.5 493.6M529.3 488.5L528.5 485.8M529.4 480.7L528.4 478.1M529.4 473.0L528.4 470.3M529.4 465.3L528.3 462.6M529.4 457.6L528.2 454.8M529.4 449.9L528.0 447.1M529.5 442.2L527.9 439.4M529.5 434.4L527.7 431.7M529.5 426.7L527.6 424.0M529.5 419.0L527.4 416.4M529.6 411.2L527.3 408.8M529.6 403.5L527.2 401.3M529.6 395.7L527.2 393.9M529.6 387.9L527.3 386.4M529.5 380.2L527.4 378.9M529.5 372.4L527.5 371.4M529.5 364.7L527.7 363.8M529.5 356.9L527.8 356.2M529.4 349.2L527.9 348.5M529.4 341.5L528.1 340.8M529.4 333.8L528.1 333.1M537.0 542.5L536.4 540.1M537.0 534.7L536.4 532.3M537.0 527.0L536.4 524.6M537.0 519.3L536.3 516.9M537.0 511.6L536.3 509.1M537.0 503.9L536.3 501.4M537.1 496.2L536.2 493.7M537.1 488.4L536.2 485.9M537.1 480.7L536.1 478.2M537.1 473.0L536.0 470.4M537.1 465.3L535.9 462.7M537.1 457.6L535.9 455.0M537.1 449.9L535.8 447.2M537.2 442.1L535.6 439.5M537.2 434.4L535.5 431.9M537.2 426.7L535.4 424.2M537.2 418.9L535.3 416.5M537.2 411.2L535.2 408.9M537.2 403.4L535.1 401.4M537.2 395.7L535.1 393.9M537.2 387.9L535.2 386.4M537.2 380.2L535.3 378.9M537.2 372.4L535.3 371.3M537.2 364.7L535.5 363.8M537.2 356.9L535.6 356.2M537.2 349.2L535.7 348.5M537.1 341.5L535.8 340.8M537.1 333.8L535.8 333.1M537.1 326.0L535.8 325.4M537.1 318.3L535.8 317.7M544.7 542.4L544.1 540.1M544.7 534.7L544.1 532.4M544.7 527.0L544.0 524.7M544.8 519.3L544.0 516.9M544.8 511.6L544.0 509.2M544.8 503.9L543.9 501.5M544.8 496.1L543.9 493.7M544.8 488.4L543.8 486.0M544.8 480.7L543.8 478.3M544.8 473.0L543.7 470.5M544.8 465.3L543.6 462.8M544.8 457.5L543.6 455.1M544.8 449.8L543.5 447.4M544.9 442.1L543.4 439.7M544.9 434.4L543.3 432.0M544.9 426.6L543.2 424.3M544.9 418.9L543.1 416.7M544.9 411.2L543.0 409.1M544.9 403.4L543.0 401.5M544.9 395.7L543.0 394.0M544.9 387.9L543.0 386.4M544.9 380.2L543.1 378.9M544.9 372.4L543.1 371.3M544.9 364.7L543.2 363.7M544.9 356.9L543.3 356.1M544.9 349.2L543.4 348.5M544.8 341.5L543.5 340.8M544.8 333.8L543.5 333.1M544.8 326.0L543.5 325.4M544.8 318.3L543.5 317.7M552.5 542.4L551.8 540.2M552.5 534.7L551.7 532.5M552.5 527.0L551.7 524.7M552.5 519.3L551.7 517.0M552.5 511.6L551.6 509.3M552.5 503.8L551.6 501.5M552.5 496.1L551.6 493.8M552.5 488.4L551.5 486.1M552.5 480.7L551.5 478.4M552.5 473.0L551.4 470.6M552.5 465.2L551.3 462.9M552.5 457.5L551.3 455.2M552.6 449.8L551.2 447.5M552.6 442.1L551.1 439.8M552.6 434.4L551.0 432.1M552.6 426.6L550.9 424.4M552.6 418.9L550.9 416.8M552.6 411.2L550.8 409.1M552.6 403.4L550.8 401.6M552.6 395.7L550.8 394.0M552.6 387.9L550.8 386.5M552.6 380.2L550.9 378.9M552.6 372.4L550.9 371.3M552.6 364.7L551.0 363.7M552.6 356.9L551.1 356.1M552.6 349.2L551.1 348.5M552.6 341.5L551.2 340.8M552.6 333.8L551.2 333.1M552.6 326.0L551.2 325.4M552.6 318.3L551.2 317.7M560.2 542.4L559.4 540.3M560.2 534.7L559.4 532.5M560.2 527.0L559.4 524.8M560.2 519.3L559.3 517.1M560.2 511.6L559.3 509.3M560.2 503.8L559.3 501.6M560.2 496.1L559.2 493.9M560.2 488.4L559.2 486.2M560.2 480.7L559.1 478.5M560.2 473.0L559.1 470.7M560.2 465.2L559.0 463.0M560.3 457.5L559.0 455.3M560.3 449.8L558.9 447.6M560.3 442.1L558.8 439.9M560.3 434.3L558.8 432.2M560.3 426.6L558.7 424.6M560.3 418.9L558.6 416.9M560.3 411.1L558.6 409.2M560.3 403.4L558.6 401.7M560.3 395.7L558.6 394.1M560.3 387.9L558.6 386.5M560.3 380.2L558.6 378.9M560.3 372.4L558.7 371.3M560.3 364.7L558.8 363.7M560.3 356.9L558.8 356.1M560.3 349.2L558.9 348.5M560.3 341.5L558.9 340.8M560.3 333.8L558.9 333.1M560.3 326.0L558.9 325.4M560.3 318.3L558.9 317.7M567.9 542.4L567.1 540.3M567.9 534.7L567.1 532.6M567.9 527.0L567.1 524.9M567.9 519.3L567.0 517.1M567.9 511.5L567.0 509.4M567.9 503.8L567.0 501.7M567.9 496.1L566.9 494.0M567.9 488.4L566.9 486.3M567.9 480.7L566.8 478.5M567.9 472.9L566.8 470.8M568.0 465.2L566.7 463.1M568.0 457.5L566.7 455.4M568.0 449.8L566.6 447.7M568.0 442.0L566.6 440.0M568.0 434.3L566.5 432.3M568.0 426.6L566.4 424.6M568.0 418.9L566.4 417.0M568.0 411.1L566.3 409.3M568.0 403.4L566.3 401.7M568.0 395.6L566.4 394.1M568.0 387.9L566.4 386.5M568.0 380.2L566.4 378.9M568.0 372.4L566.5 371.3M568.0 364.7L566.5 363.7M568.0 356.9L566.6 356.1M568.0 349.2L566.6 348.5M568.0 341.5L566.6 340.8M568.0 333.8L566.6 333.1M568.0 326.0L566.6 325.4M568.0 318.3L566.6 317.7M575.6 542.4L574.8 540.4M575.6 534.7L574.8 532.6M575.6 527.0L574.7 524.9M575.6 519.2L574.7 517.2M575.6 511.5L574.7 509.5M575.6 503.8L574.7 501.8M575.6 496.1L574.6 494.0M575.6 488.4L574.6 486.3M575.6 480.6L574.5 478.6M575.7 472.9L574.5 470.9M575.7 465.2L574.4 463.2M575.7 457.5L574.4 455.5M575.7 449.8L574.3 447.8M575.7 442.0L574.3 440.1M575.7 434.3L574.2 432.4M575.7 426.6L574.2 424.7M575.7 418.8L574.1 417.1M575.7 411.1L574.1 409.4M575.7 403.4L574.1 401.8M575.7 395.6L574.1 394.2M575.7 387.9L574.1 386.6M575.7 380.2L574.2 379.0M575.7 372.4L574.2 371.4M575.7 364.7L574.3 363.8M575.7 356.9L574.3 356.2M575.7 349.2L574.4 348.5M575.7 341.5L574.3 340.8M575.7 333.8L574.3 333.1M575.7 326.0L574.3 325.4M575.7 318.3L574.3 317.7M583.3 542.4L582.5 540.4M583.3 534.7L582.5 532.7M583.3 527.0L582.4 525.0M583.3 519.2L582.4 517.3M583.3 511.5L582.4 509.6M583.3 503.8L582.3 501.8M583.3 496.1L582.3 494.1M583.4 488.4L582.3 486.4M583.4 480.6L582.2 478.7M583.4 472.9L582.2 471.0M583.4 465.2L582.1 463.3M583.4 457.5L582.1 455.6M583.4 449.7L582.1 447.9M583.4 442.0L582.0 440.2M583.4 434.3L582.0 432.5M583.4 426.6L581.9 424.8M583.4 418.8L581.9 417.1M583.4 411.1L581.8 409.5M583.4 403.4L581.8 401.9M583.4 395.6L581.9 394.2M583.4 387.9L581.9 386.6M583.4 380.1L581.9 379.0M583.4 372.4L582.0 371.4M583.4 364.7L582.0 363.8M583.4 356.9L582.1 356.2M583.4 349.2L582.1 348.5M583.4 341.5L582.1 340.8M583.4 333.8L582.1 333.1M583.4 326.0L582.0 325.4M583.4 318.3L582.0 317.7" stroke="#0c1c12" stroke-width="1.1" fill="none"/>
<path d="M414.5 432.5L415.1 431.5M414.6 424.8L415.3 423.8M414.7 417.2L415.5 416.2M414.8 409.6L415.7 408.7M414.9 402.0L415.8 401.2M422.0 447.8L422.4 446.7M422.1 440.1L422.6 438.9M422.2 432.4L422.9 431.2M422.4 424.7L423.1 423.5M422.5 417.0L423.4 416.0M422.7 409.4L423.7 408.5M422.8 401.9L423.8 401.1M422.8 394.5L423.8 393.8M429.5 463.2L429.8 462.1M429.5 455.4L429.9 454.2M429.6 447.6L430.1 446.3M429.8 439.8L430.3 438.5M430.0 432.1L430.6 430.8M430.2 424.4L431.0 423.1M430.4 416.8L431.3 415.6M430.6 409.3L431.7 408.2M430.7 401.9L431.9 401.0M430.7 394.5L431.9 393.8M437.1 470.9L437.3 469.7M437.1 463.0L437.4 461.7M437.2 455.2L437.5 453.8M437.3 447.3L437.7 445.8M437.5 439.4L438.0 437.8M437.7 431.7L438.3 430.1M437.9 424.0L438.7 422.5M438.2 416.5L439.2 415.0M438.5 409.0L439.7 407.7M438.6 401.7L440.0 400.7M438.7 394.5L440.1 393.8M444.7 478.6L444.8 477.3M444.7 470.7L444.9 469.3M444.7 462.8L445.0 461.2M444.8 454.8L445.1 453.1M444.9 446.8L445.3 445.0M445.1 438.8L445.5 436.8M445.3 430.9L445.9 428.9M445.6 423.2L446.4 421.3M446.0 415.7L446.9 414.0M446.3 408.6L447.5 407.0M446.4 401.5L447.9 400.4M452.3 486.3L452.4 485.0M452.3 478.4L452.4 477.0M452.3 470.4L452.5 468.9M452.4 462.4L452.5 460.7M452.4 454.3L452.6 452.3M452.5 445.9L452.8 443.9M452.7 437.6L453.0 435.6M452.9 429.4L453.3 427.5M453.3 421.7L453.7 419.7M453.6 414.3L454.3 412.4M453.9 407.6L454.8 405.8M453.9 401.1L455.1 399.7M453.9 394.4L455.1 393.7M459.9 494.1L459.9 492.9M459.9 486.2L460.0 484.9M459.9 478.2L460.0 476.8M459.9 470.2L460.0 468.5M460.0 462.1L460.0 460.1M460.0 453.6L460.1 451.6M460.1 445.0L460.2 443.0M460.2 436.4L460.3 434.4M460.3 428.1L460.5 426.1M460.6 420.1L460.8 418.1M460.8 412.7L461.1 410.7M460.9 406.2L461.4 404.3M460.8 400.4L461.5 398.6M460.8 394.0L461.6 392.9M467.5 494.0L467.5 492.8M467.5 486.1L467.5 484.8M467.5 478.2L467.5 476.6M467.5 470.1L467.6 468.3M467.5 461.8L467.6 459.8M467.6 453.2L467.6 451.2M467.6 444.5L467.6 442.5M467.6 435.9L467.6 433.9M467.6 427.4L467.6 425.4M467.6 419.4L467.6 417.4M467.6 411.8L467.6 409.8M467.6 405.4L467.6 403.4M467.6 399.8L467.6 397.8M467.6 393.6L467.6 392.3M475.2 494.1L475.1 492.8M475.2 486.2L475.1 484.9M475.2 478.2L475.1 476.7M475.2 470.2L475.1 468.5M475.1 462.0L475.1 460.1M475.1 453.5L475.0 451.5M475.0 444.9L474.9 442.9M474.9 436.3L474.8 434.3M474.8 427.9L474.6 425.9M474.6 419.9L474.4 417.9M474.4 412.5L474.1 410.5M474.3 406.0L473.8 404.1M474.3 400.3L473.7 398.4M474.4 393.9L473.7 392.8M482.8 486.3L482.7 485.0M482.8 478.4L482.7 477.0M482.8 470.4L482.6 468.8M482.7 462.4L482.6 460.6M482.7 454.2L482.5 452.2M482.6 445.8L482.3 443.8M482.4 437.4L482.1 435.4M482.2 429.2L481.8 427.3M481.9 421.4L481.4 419.5M481.5 414.1L480.9 412.2M481.3 407.4L480.4 405.6M481.3 401.1L480.1 399.6M481.3 394.3L480.1 393.6M490.4 478.5L490.3 477.3M490.4 470.6L490.2 469.3M490.3 462.7L490.1 461.2M490.3 454.7L490.0 453.0M490.2 446.7L489.8 444.8M490.0 438.6L489.6 436.7M489.7 430.7L489.2 428.8M489.4 423.0L488.7 421.1M489.1 415.6L488.2 413.8M488.8 408.5L487.6 406.9M488.7 401.5L487.2 400.3M498.0 470.9L497.8 469.6M498.0 463.0L497.7 461.7M497.9 455.1L497.6 453.7M497.8 447.2L497.4 445.7M497.6 439.4L497.1 437.7M497.4 431.6L496.8 429.9M497.2 424.0L496.3 422.3M496.9 416.4L495.8 414.9M496.6 409.0L495.3 407.7M496.4 401.7L495.0 400.7M505.6 463.2L505.3 462.0M505.5 455.4L505.2 454.2M505.4 447.6L505.0 446.3M505.3 439.8L504.8 438.4M505.1 432.1L504.5 430.7M504.9 424.4L504.1 423.1M504.7 416.8L503.7 415.5M504.5 409.2L503.3 408.1M504.3 401.8L503.1 400.9M504.3 394.5L503.1 393.8M513.2 455.6L512.8 454.5M513.1 447.8L512.6 446.7M513.0 440.1L512.4 438.9M512.9 432.3L512.2 431.2M512.7 424.7L511.9 423.5M512.5 417.0L511.6 415.9M512.4 409.4L511.4 408.4M512.3 401.9L511.2 401.1M512.3 394.5L511.2 393.8M520.7 440.2L520.2 439.2M520.6 432.5L520.0 431.5M520.5 424.8L519.8 423.8M520.4 417.2L519.6 416.2M520.3 409.6L519.4 408.6M520.2 402.0L519.3 401.2" stroke="#0c1c12" stroke-width="1.55" fill="none"/>
<path d="M413.1 364.8L414.0 364.3M413.1 357.0L414.0 356.6M413.1 349.3L414.0 348.9M413.1 341.6L414.0 341.2M413.1 333.8L414.0 333.5M413.1 326.1L414.0 325.8M413.1 318.4L414.0 318.1M420.8 372.4L421.8 372.1M420.8 364.7L421.7 364.4M420.8 357.0L421.8 356.7M420.8 349.3L421.8 348.9M420.8 341.5L421.8 341.2M420.8 333.8L421.8 333.5M420.8 326.1L421.8 325.8M420.8 318.4L421.8 318.1M428.5 387.8L429.5 387.6M428.5 380.1L429.5 379.9M428.5 372.4L429.5 372.2M428.5 364.6L429.5 364.5M428.5 356.9L429.5 356.7M428.5 349.2L429.5 349.0M428.5 341.5L429.5 341.3M428.5 333.8L429.5 333.5M428.5 326.1L429.5 325.8M428.5 318.4L429.5 318.1M436.2 387.7L437.2 387.7M436.2 380.0L437.2 379.9M436.2 372.3L437.2 372.3M436.2 364.5L437.2 364.6M436.2 356.8L437.2 356.8M436.2 349.1L437.2 349.1M436.2 341.4L437.2 341.3M436.2 333.8L437.2 333.6M436.2 326.1L437.2 325.8M443.7 395.5L445.2 395.3M443.9 387.7L444.9 387.7M443.9 380.0L444.9 380.0M443.9 372.2L444.9 372.4M443.9 364.4L444.9 364.7M443.9 356.7L444.9 357.0M443.9 349.0L444.9 349.2M443.9 341.3L444.9 341.4M451.6 379.9L452.6 380.1M451.7 372.0L452.6 372.5M451.7 364.2L452.5 364.9M451.7 356.5L452.5 357.1M451.7 348.8L452.5 349.4M459.3 379.8L460.3 380.1M459.5 371.9L460.2 372.6M459.6 364.1L460.1 365.0M459.6 356.4L460.1 357.3M459.5 348.7L460.1 349.5M467.4 379.5L467.7 380.5M467.5 371.8L467.6 372.8M467.5 364.0L467.6 365.0M467.5 356.3L467.6 357.3M475.7 379.8L474.8 380.1M475.6 371.9L474.9 372.6M475.5 364.1L475.0 365.0M475.5 356.4L475.0 357.3M483.5 379.9L482.5 380.1M483.4 372.0L482.5 372.5M483.3 364.2L482.6 364.9M483.3 356.5L482.6 357.1M483.4 348.8L482.5 349.4M491.4 395.5L489.9 395.3M491.2 387.7L490.2 387.7M491.2 380.0L490.2 380.0M491.2 372.1L490.2 372.4M491.1 364.3L490.2 364.7M491.1 356.6L490.2 357.0M491.2 349.0L490.2 349.2M491.2 341.3L490.2 341.4M499.1 395.5L497.7 395.3M498.9 387.7L497.9 387.7M498.9 380.0L497.9 380.0M498.9 372.2L497.9 372.3M498.9 364.5L497.9 364.6M498.9 356.8L497.9 356.9M498.9 349.1L497.9 349.1M498.9 341.4L497.9 341.3M498.9 333.8L497.9 333.6M498.9 326.1L497.9 325.8M506.6 387.8L505.6 387.6M506.6 380.1L505.6 379.9M506.6 372.3L505.6 372.2M506.6 364.6L505.6 364.5M506.6 356.9L505.6 356.7M506.6 349.2L505.6 349.0M506.6 341.5L505.6 341.3M506.6 333.8L505.6 333.5M506.6 326.1L505.6 325.8M506.6 318.4L505.6 318.1M514.3 380.1L513.3 379.9M514.3 372.4L513.3 372.1M514.3 364.7L513.3 364.4M514.3 357.0L513.3 356.7M514.3 349.3L513.3 348.9M514.3 341.5L513.3 341.2M514.3 333.8L513.3 333.5M514.3 326.1L513.3 325.8M514.3 318.4L513.3 318.1M522.0 364.8L521.1 364.3M522.0 357.0L521.1 356.6M522.0 349.3L521.1 348.9M522.0 341.6L521.0 341.2M522.0 333.8L521.0 333.5M522.0 326.1L521.0 325.8M522.0 318.4L521.0 318.1M529.7 326.1L528.8 325.8M529.7 318.4L528.7 318.1" stroke="#0a1840" stroke-width="1.05" stroke-opacity="0.72" fill="none"/>
</g>
<rect x="352.6" y="315.2" width="230.9" height="231.3" fill="none" stroke="#111" stroke-width="1.2"/>
<text x="349.4" y="552.3" font-size="12.4" text-anchor="end" font-family="Liberation Serif, serif" font-weight="bold" stroke="#000" stroke-width="0.25">0</text>
<text x="349.4" y="473.7" font-size="12.4" text-anchor="end" font-family="Liberation Serif, serif" font-weight="bold" stroke="#000" stroke-width="0.25">1E-05</text>
<text x="349.4" y="396.6" font-size="12.4" text-anchor="end" font-family="Liberation Serif, serif" font-weight="bold" stroke="#000" stroke-width="0.25">2E-05</text>
<text x="349.4" y="319.5" font-size="12.4" text-anchor="end" font-family="Liberation Serif, serif" font-weight="bold" stroke="#000" stroke-width="0.25">3E-05</text>
<text x="352.6" y="560.1" font-size="12.3" text-anchor="middle" font-family="Liberation Serif, serif" font-weight="bold" stroke="#000" stroke-width="0.25">0</text>
<text x="429.6" y="560.1" font-size="12.3" text-anchor="middle" font-family="Liberation Serif, serif" font-weight="bold" stroke="#000" stroke-width="0.25">1E-05</text>
<text x="506.5" y="560.1" font-size="12.3" text-anchor="middle" font-family="Liberation Serif, serif" font-weight="bold" stroke="#000" stroke-width="0.25">2E-05</text>
<text x="583.0" y="560.1" font-size="12.3" text-anchor="middle" font-family="Liberation Serif, serif" font-weight="bold" stroke="#000" stroke-width="0.25">3E-05</text>
<text x="451.5" y="573.5" font-size="14.5" font-family="Liberation Serif, serif" font-weight="bold" stroke="#000" stroke-width="0.25">X (m)</text>
<text transform="translate(329.1,430.9) rotate(-90)" font-size="15.2" text-anchor="middle" textLength="37" lengthAdjust="spacingAndGlyphs" font-family="Liberation Serif, serif" font-weight="bold" stroke="#000" stroke-width="0.25">Y (m)</text>
<text x="387" y="592.5" font-size="20" font-family="Liberation Serif, serif" font-weight="bold" stroke="#000" stroke-width="0.25">(d)</text>
<text x="418.7" y="591.7" font-size="16.5" textLength="130" lengthAdjust="spacingAndGlyphs" font-family="Liberation Serif, serif" font-weight="bold" stroke="#000" stroke-width="0.25">Stage 4 (t=8.57 ns)</text>
<clipPath id="c5"><rect x="40.5" y="628" width="228.2" height="228"/></clipPath>
<g clip-path="url(#c5)">
<rect x="40.5" y="628" width="228.2" height="228" fill="#6af09b"/>
<path d="M98.5 620L109.7 658.7C122 648 140 643.5 155 643.5C170 643.5 188 648 200 658.7L212.3 620Z" fill="#3a8cf4"/>
<rect x="143.7" y="674" width="22" height="54" rx="11" ry="15" fill="#64ee3a"/>
<ellipse cx="134.3" cy="705" rx="6.4" ry="5.5" fill="#3a8cf4" transform="rotate(-15 134.3 705)"/>
<ellipse cx="175.2" cy="705" rx="6.4" ry="5.5" fill="#3a8cf4" transform="rotate(15 175.2 705)"/>
<path d="M46.8 853.5L48.2 850.1M46.8 845.9L48.2 842.5M46.8 838.4L48.2 835.0M46.8 830.8L48.3 827.4M46.8 823.2L48.3 819.9M46.8 815.6L48.4 812.3M46.8 808.1L48.4 804.8M46.7 800.5L48.5 797.2M46.7 792.9L48.5 789.7M46.7 785.4L48.6 782.1M46.7 777.8L48.6 774.6M46.7 770.2L48.6 767.1M46.7 762.6L48.7 759.6M46.7 755.0L48.7 752.0M46.7 747.5L48.8 744.5M46.7 739.9L48.8 737.0M46.7 732.3L48.8 729.5M46.7 724.7L48.8 722.0M46.7 717.1L48.8 714.5M46.7 709.6L48.8 706.9M46.7 702.0L48.8 699.4M46.7 694.4L48.8 691.9M46.7 686.8L48.9 684.4M46.7 679.3L48.9 676.8M46.7 671.7L48.9 669.3M46.7 664.1L49.0 661.8M46.6 656.5L49.0 654.3M46.6 649.0L49.0 646.7M46.6 641.4L49.0 639.1M46.6 633.8L49.0 631.5M54.4 853.5L55.7 850.1M54.4 845.9L55.8 842.5M54.4 838.4L55.8 834.9M54.4 830.8L55.9 827.4M54.4 823.2L55.9 819.8M54.4 815.7L55.9 812.3M54.4 808.1L56.0 804.7M54.4 800.5L56.0 797.2M54.4 792.9L56.1 789.6M54.4 785.4L56.1 782.1M54.4 777.8L56.2 774.6M54.3 770.2L56.2 767.0M54.3 762.6L56.3 759.5M54.3 755.0L56.3 752.0M54.3 747.5L56.3 744.5M54.3 739.9L56.4 737.0M54.3 732.3L56.4 729.5M54.3 724.7L56.4 722.0M54.3 717.1L56.4 714.4M54.3 709.6L56.4 706.9M54.3 702.0L56.4 699.4M54.3 694.4L56.4 691.9M54.3 686.8L56.4 684.3M54.3 679.3L56.4 676.8M54.3 671.7L56.4 669.2M54.3 664.1L56.5 661.7M54.3 656.5L56.5 654.2M54.3 649.0L56.6 646.7M54.3 641.4L56.6 639.1M54.3 633.8L56.6 631.5M62.1 853.5L63.3 850.0M62.1 846.0L63.3 842.5M62.1 838.4L63.4 834.9M62.1 830.8L63.4 827.4M62.0 823.2L63.5 819.8M62.0 815.7L63.5 812.2M62.0 808.1L63.6 804.7M62.0 800.5L63.6 797.1M62.0 792.9L63.7 789.6M62.0 785.4L63.7 782.1M62.0 777.8L63.8 774.5M62.0 770.2L63.8 767.0M62.0 762.6L63.9 759.5M62.0 755.1L63.9 752.0M62.0 747.5L63.9 744.4M62.0 739.9L64.0 736.9M62.0 732.3L64.0 729.4M62.0 724.7L64.0 721.9M62.0 717.1L63.9 714.4M62.0 709.6L63.9 706.9M62.0 702.0L63.9 699.4M62.0 694.4L63.9 691.8M62.0 686.8L63.9 684.3M62.0 679.3L63.9 676.7M62.0 671.7L63.9 669.2M62.0 664.1L64.0 661.6M61.9 656.5L64.0 654.1M61.9 649.0L64.1 646.6M61.9 641.4L64.2 639.1M61.9 633.8L64.2 631.5M69.7 853.5L70.9 850.0M69.7 846.0L70.9 842.4M69.7 838.4L70.9 834.9M69.7 830.8L71.0 827.3M69.7 823.2L71.0 819.8M69.7 815.7L71.1 812.2M69.7 808.1L71.1 804.6M69.7 800.5L71.2 797.1M69.7 793.0L71.2 789.5M69.6 785.4L71.3 782.0M69.6 777.8L71.3 774.5M69.6 770.2L71.4 766.9M69.6 762.6L71.5 759.4M69.6 755.1L71.5 751.9M69.6 747.5L71.5 744.4M69.6 739.9L71.6 736.9M69.6 732.3L71.6 729.4M69.6 724.7L71.6 721.9M69.6 717.1L71.5 714.4M69.6 709.6L71.5 706.9M69.6 702.0L71.4 699.4M69.6 694.4L71.4 691.8M69.6 686.8L71.3 684.3M69.6 679.3L71.3 676.7M69.6 671.7L71.4 669.1M69.6 664.1L71.4 661.6M69.6 656.6L71.5 654.0M69.6 649.0L71.6 646.5M69.6 641.4L71.7 639.0M69.5 633.8L71.8 631.5M77.4 853.5L78.4 850.0M77.4 846.0L78.5 842.4M77.3 838.4L78.5 834.8M77.3 830.8L78.5 827.3M77.3 823.2L78.6 819.7M77.3 815.7L78.6 812.2M77.3 808.1L78.7 804.6M77.3 800.5L78.7 797.0M77.3 793.0L78.8 789.5M77.3 785.4L78.9 782.0M77.3 777.8L78.9 774.4M77.3 770.2L79.0 766.9M77.2 762.7L79.1 759.4M77.2 755.1L79.1 751.9M77.2 747.5L79.2 744.4M77.2 739.9L79.2 736.9M77.2 732.3L79.2 729.4M77.2 724.7L79.2 721.9M77.2 717.1L79.1 714.4M77.3 709.6L79.0 706.9M77.3 702.0L78.9 699.4M77.3 694.4L78.8 691.8M77.3 686.9L78.8 684.2M77.3 679.3L78.8 676.6M77.3 671.7L78.8 669.1M77.3 664.2L78.9 661.5M77.3 656.6L79.0 653.9M77.2 649.0L79.1 646.4M77.2 641.4L79.2 638.9M77.2 633.8L79.3 631.4M85.0 853.5L86.0 849.9M85.0 846.0L86.0 842.4M85.0 838.4L86.0 834.8M85.0 830.8L86.1 827.2M85.0 823.3L86.1 819.7M85.0 815.7L86.2 812.1M85.0 808.1L86.2 804.6M84.9 800.5L86.3 797.0M84.9 793.0L86.3 789.4M84.9 785.4L86.4 781.9M84.9 777.8L86.5 774.4M84.9 770.2L86.6 766.8M84.9 762.7L86.6 759.3M84.9 755.1L86.7 751.8M84.9 747.5L86.8 744.3M84.9 739.9L86.8 736.8M84.9 732.3L86.8 729.4M84.9 724.7L86.8 721.9M84.9 717.1L86.7 714.4M84.9 709.6L86.6 707.0M84.9 702.0L86.4 699.4M85.0 694.4L86.3 691.8M85.0 686.9L86.2 684.2M85.0 679.3L86.2 676.6M85.0 671.7L86.2 669.0M85.0 664.2L86.3 661.4M84.9 656.6L86.4 653.8M84.9 649.0L86.5 646.2M84.9 641.5L86.7 638.7M84.9 633.9L86.8 631.2M92.6 853.5L93.5 849.9M92.6 846.0L93.6 842.4M92.6 838.4L93.6 834.8M92.6 830.8L93.6 827.2M92.6 823.3L93.7 819.6M92.6 815.7L93.7 812.1M92.6 808.1L93.8 804.5M92.6 800.6L93.8 796.9M92.6 793.0L93.9 789.4M92.6 785.4L94.0 781.8M92.6 777.8L94.1 774.3M92.5 770.3L94.2 766.7M92.5 762.7L94.2 759.2M92.5 755.1L94.3 751.7M92.5 747.5L94.4 744.2M92.5 739.9L94.5 736.8M92.5 732.3L94.5 729.3M92.5 724.7L94.5 721.9M92.5 717.1L94.3 714.5M92.5 709.6L94.1 707.0M92.6 702.0L93.9 699.5M92.6 694.4L93.7 691.9M92.6 686.9L93.5 684.2M92.7 679.3L93.5 676.5M92.6 671.7L93.5 668.9M92.6 664.2L93.6 661.3M92.6 656.6L93.8 653.7M92.6 649.1L93.9 646.1M92.5 641.5L94.1 638.6M92.5 633.9L94.3 631.1M100.3 853.5L101.1 849.9M100.3 846.0L101.1 842.3M100.3 838.4L101.1 834.8M100.3 830.8L101.2 827.2M100.3 823.3L101.2 819.6M100.3 815.7L101.3 812.0M100.3 808.1L101.3 804.5M100.2 800.6L101.4 796.9M100.2 793.0L101.4 789.3M100.2 785.4L101.5 781.8M100.2 777.8L101.6 774.2M100.2 770.3L101.7 766.7M100.2 762.7L101.8 759.1M100.1 755.1L102.0 751.6M100.1 747.5L102.1 744.1M100.1 739.9L102.2 736.7M100.1 732.3L102.2 729.3M100.1 724.7L102.2 721.9M100.1 717.1L102.0 714.5M100.2 709.5L101.7 707.1M100.2 702.0L101.3 699.6M100.3 694.4L101.0 691.9M100.3 686.9L100.8 684.2M100.3 679.3L100.8 676.5M100.3 671.8L100.8 668.8M100.3 664.2L101.0 661.1M100.3 656.7L101.1 653.5M100.2 649.1L101.3 645.9M100.2 641.5L101.5 638.4M100.2 633.9L101.7 630.9M107.9 853.6L108.6 849.9M107.9 846.0L108.6 842.3M107.9 838.4L108.7 834.7M107.9 830.8L108.7 827.1M107.9 823.3L108.7 819.6M107.9 815.7L108.8 812.0M107.9 808.1L108.8 804.4M107.9 800.6L108.9 796.8M107.9 793.0L109.0 789.3M107.9 785.4L109.1 781.7M107.8 777.9L109.2 774.1M107.8 770.3L109.3 766.6M107.8 762.7L109.4 759.0M107.8 755.1L109.6 751.5M107.7 747.6L109.7 744.0M107.7 740.0L109.9 736.5M107.7 732.4L110.0 729.2M107.7 724.7L110.0 721.8M107.7 717.1L109.8 714.5M107.8 709.5L109.4 707.2M107.9 701.9L108.7 699.7M108.0 694.4L108.2 691.9M108.1 686.9L108.0 684.1M108.1 679.3L107.9 676.3M108.0 671.8L108.1 668.6M108.0 664.2L108.3 660.9M108.0 656.7L108.5 653.3M115.6 853.6L116.2 849.9M115.6 846.0L116.2 842.3M115.6 838.4L116.2 834.7M115.6 830.8L116.2 827.1M115.6 823.3L116.3 819.5M115.6 815.7L116.3 812.0M115.5 808.1L116.4 804.4M115.5 800.6L116.4 796.8M115.5 793.0L116.5 789.2M115.5 785.4L116.6 781.6M115.5 777.9L116.7 774.0M115.5 770.3L116.8 766.5M115.4 762.7L117.0 758.9M115.4 755.2L117.1 751.3M115.4 747.6L117.4 743.8M115.3 740.0L117.6 736.3M115.3 732.4L117.9 728.9M115.3 724.8L118.0 721.6M115.3 717.1L117.8 714.4M115.4 709.5L117.1 707.2M115.6 701.9L116.1 699.7M115.7 694.4L115.3 691.8M115.8 686.9L115.0 683.9M115.8 679.4L115.1 676.1M115.7 671.8L115.3 668.3M115.7 664.3L115.6 660.7M115.6 656.7L115.9 653.1M123.2 853.6L123.7 849.8M123.2 846.0L123.7 842.3M123.2 838.4L123.7 834.7M123.2 830.9L123.8 827.1M123.2 823.3L123.8 819.5M123.2 815.7L123.8 811.9M123.2 808.2L123.9 804.3M123.2 800.6L123.9 796.7M123.2 793.0L124.0 789.1M123.2 785.5L124.1 781.5M123.1 777.9L124.2 773.9M123.1 770.3L124.3 766.3M123.1 762.8L124.5 758.7M123.1 755.2L124.7 751.1M123.0 747.6L124.9 743.6M123.0 740.1L125.3 736.0M122.9 732.5L125.6 728.5M122.8 724.9L125.9 721.2M122.8 717.2L125.9 713.9M123.0 709.6L124.9 706.8M123.3 702.0L123.3 699.3M123.5 694.5L122.2 691.4M123.5 687.0L121.9 683.4M123.5 679.5L122.2 675.6M123.4 671.9L122.6 668.0M123.4 664.3L123.0 660.4M123.3 656.8L123.3 652.8M130.9 853.6L131.2 849.8M130.9 846.0L131.2 842.2M130.9 838.4L131.3 834.7M130.9 830.9L131.3 827.1M130.9 823.3L131.3 819.5M130.9 815.7L131.3 811.9M130.9 808.2L131.4 804.3M130.8 800.6L131.4 796.7M130.8 793.0L131.5 789.1M130.8 785.5L131.5 781.5M130.8 777.9L131.6 773.9M130.8 770.3L131.7 766.2M130.8 762.8L131.9 758.6M130.7 755.2L132.1 750.9M130.7 747.7L132.4 743.3M130.6 740.1L132.7 735.6M130.5 732.6L133.2 727.9M130.4 725.0L133.7 720.3M130.4 717.4L133.8 712.8M131.2 694.7L129.2 690.1M131.2 687.2L129.1 682.5M131.2 679.6L129.6 675.0M131.1 672.0L130.1 667.5M131.0 664.4L130.5 660.0M131.0 656.8L130.8 652.6M130.9 649.2L131.1 645.1M138.5 853.6L138.8 849.8M138.5 846.0L138.8 842.2M138.5 838.4L138.8 834.6M138.5 830.9L138.8 827.1M138.5 823.3L138.8 819.5M138.5 815.7L138.8 811.9M138.5 808.2L138.9 804.3M138.5 800.6L138.9 796.7M138.5 793.0L138.9 789.1M138.5 785.5L139.0 781.4M138.5 777.9L139.1 773.8M138.5 770.4L139.1 766.1M138.4 762.8L139.3 758.5M138.4 755.3L139.4 750.7M138.4 747.7L139.7 743.0M138.3 740.2L140.0 735.1M138.2 732.7L140.4 727.2M138.2 725.2L140.9 719.2M138.1 717.7L141.0 711.1M138.3 710.2L140.1 703.1M138.9 695.1L136.9 688.2M138.9 687.4L136.9 681.2M138.8 679.7L137.3 674.1M138.7 672.1L137.8 666.9M138.6 664.5L138.1 659.6M138.6 656.9L138.4 652.3M138.6 649.3L138.6 644.9M146.2 853.6L146.3 849.8M146.2 846.0L146.3 842.2M146.2 838.4L146.3 834.6M146.2 830.9L146.3 827.0M146.2 823.3L146.3 819.5M146.2 815.7L146.3 811.9M146.2 808.2L146.4 804.3M146.2 800.6L146.4 796.6M146.2 793.0L146.4 789.0M146.1 785.5L146.4 781.4M146.1 777.9L146.5 773.7M146.1 770.4L146.5 766.1M146.1 762.8L146.6 758.3M146.1 755.3L146.7 750.6M146.1 747.8L146.8 742.7M146.0 740.3L147.0 734.7M146.0 732.8L147.3 726.4M146.0 725.4L147.5 718.0M145.9 718.0L147.6 709.4M146.0 710.6L147.0 701.0M146.2 703.1L145.9 693.2M146.4 695.4L145.2 686.2M146.4 687.7L145.2 679.6M146.3 679.9L145.4 672.9M146.3 672.2L145.7 666.1M146.2 664.6L145.9 659.2M146.2 656.9L146.1 652.0M146.2 649.3L146.2 644.7M153.8 853.6L153.8 849.8M153.8 846.0L153.8 842.2M153.8 838.4L153.8 834.6M153.8 830.9L153.8 827.0M153.8 823.3L153.8 819.4M153.8 815.7L153.8 811.9M153.8 808.2L153.8 804.2M153.8 800.6L153.8 796.6M153.8 793.0L153.8 789.0M153.8 785.5L153.8 781.4M153.8 777.9L153.8 773.7M153.8 770.4L153.9 766.0M153.8 762.8L153.9 758.3M153.8 755.3L153.9 750.5M153.8 747.8L153.9 742.5M153.8 740.3L153.9 734.4M153.8 732.9L153.9 726.0M153.8 725.5L154.0 717.3M153.8 718.2L154.0 708.5M153.8 710.7L153.9 700.2M153.8 703.2L153.8 692.7M153.8 695.6L153.7 685.2M153.8 687.8L153.7 678.7M153.8 680.1L153.7 672.3M153.8 672.3L153.8 665.7M153.8 664.6L153.8 658.9M153.8 656.9L153.8 651.8M153.8 649.3L153.8 644.6M161.5 853.6L161.4 849.8M161.5 846.0L161.4 842.2M161.5 838.4L161.4 834.6M161.5 830.9L161.3 827.0M161.5 823.3L161.3 819.5M161.5 815.7L161.3 811.9M161.5 808.2L161.3 804.3M161.5 800.6L161.3 796.6M161.5 793.0L161.3 789.0M161.5 785.5L161.3 781.4M161.5 777.9L161.2 773.7M161.5 770.4L161.2 766.1M161.5 762.8L161.1 758.3M161.5 755.3L161.1 750.5M161.5 747.8L160.9 742.6M161.6 740.3L160.8 734.6M161.6 732.9L160.6 726.3M161.6 725.5L160.4 717.8M161.6 718.1L160.3 709.2M161.6 710.7L160.8 700.7M161.4 703.1L161.6 693.0M161.3 695.5L162.2 686.0M161.3 687.7L162.3 679.4M161.3 680.0L162.1 672.8M161.4 672.3L161.8 666.0M161.4 664.6L161.7 659.1M161.4 656.9L161.5 652.0M161.5 649.3L161.4 644.7M169.1 853.6L168.9 849.8M169.1 846.0L168.9 842.2M169.1 838.4L168.9 834.6M169.1 830.9L168.9 827.1M169.1 823.3L168.8 819.5M169.1 815.7L168.8 811.9M169.1 808.2L168.8 804.3M169.1 800.6L168.8 796.7M169.1 793.0L168.7 789.0M169.1 785.5L168.7 781.4M169.2 777.9L168.6 773.8M169.2 770.4L168.6 766.1M169.2 762.8L168.4 758.4M169.2 755.3L168.3 750.7M169.3 747.7L168.1 742.9M169.3 740.2L167.8 735.0M169.4 732.7L167.4 727.1M169.5 725.3L167.0 719.0M169.5 717.8L166.8 710.8M169.3 710.3L167.7 702.6M169.0 702.8L169.5 694.9M168.8 695.1L170.6 687.8M168.8 687.4L170.6 680.9M168.9 679.8L170.2 673.9M168.9 672.1L169.8 666.7M169.0 664.5L169.5 659.5M169.1 656.9L169.2 652.2M169.1 649.3L169.0 644.9M176.8 853.6L176.4 849.8M176.8 846.0L176.4 842.2M176.8 838.4L176.4 834.7M176.8 830.9L176.4 827.1M176.8 823.3L176.4 819.5M176.8 815.7L176.3 811.9M176.8 808.2L176.3 804.3M176.8 800.6L176.3 796.7M176.8 793.0L176.2 789.1M176.8 785.5L176.1 781.5M176.8 777.9L176.1 773.8M176.8 770.4L175.9 766.2M176.9 762.8L175.8 758.6M176.9 755.2L175.6 750.9M177.0 747.7L175.3 743.2M177.0 740.1L175.0 735.5M177.1 732.6L174.5 727.8M177.2 725.1L174.0 720.1M177.2 717.5L173.9 712.4M176.4 694.8L178.5 689.7M176.4 687.2L178.5 682.2M176.5 679.6L178.1 674.8M176.6 672.0L177.6 667.4M176.6 664.4L177.2 659.9M176.7 656.8L176.8 652.5M176.7 649.2L176.6 645.1M184.4 853.6L184.0 849.8M184.4 846.0L183.9 842.3M184.4 838.4L183.9 834.7M184.4 830.9L183.9 827.1M184.4 823.3L183.9 819.5M184.4 815.7L183.8 811.9M184.4 808.2L183.8 804.3M184.4 800.6L183.7 796.7M184.5 793.0L183.7 789.1M184.5 785.5L183.6 781.5M184.5 777.9L183.5 773.9M184.5 770.3L183.4 766.3M184.5 762.8L183.2 758.7M184.6 755.2L183.0 751.1M184.6 747.6L182.7 743.5M184.7 740.1L182.4 735.9M184.8 732.5L182.0 728.4M184.8 724.9L181.7 721.0M184.8 717.3L181.7 713.7M184.6 709.6L182.6 706.5M184.3 702.1L184.4 699.0M184.1 694.5L185.7 691.1M184.1 687.0L185.8 683.2M184.1 679.5L185.5 675.5M184.2 671.9L185.1 667.9M184.3 664.4L184.7 660.3M184.3 656.8L184.4 652.8M192.1 853.6L191.5 849.9M192.1 846.0L191.5 842.3M192.1 838.4L191.5 834.7M192.1 830.9L191.4 827.1M192.1 823.3L191.4 819.5M192.1 815.7L191.3 811.9M192.1 808.1L191.3 804.4M192.1 800.6L191.2 796.8M192.1 793.0L191.2 789.2M192.1 785.4L191.1 781.6M192.1 777.9L191.0 774.0M192.2 770.3L190.9 766.4M192.2 762.7L190.7 758.8M192.2 755.2L190.5 751.3M192.3 747.6L190.3 743.7M192.3 740.0L190.0 736.3M192.4 732.4L189.7 728.8M192.4 724.8L189.6 721.5M192.4 717.2L189.8 714.4M192.2 709.5L190.5 707.1M192.0 701.9L191.7 699.6M191.9 694.4L192.5 691.8M191.8 686.9L192.8 683.8M191.8 679.4L192.7 676.0M191.9 671.9L192.4 668.2M191.9 664.3L192.1 660.6M192.0 656.7L191.8 653.0M199.7 853.6L199.0 849.9M199.7 846.0L199.0 842.3M199.7 838.4L199.0 834.7M199.7 830.8L199.0 827.1M199.7 823.3L198.9 819.6M199.7 815.7L198.9 812.0M199.7 808.1L198.8 804.4M199.7 800.6L198.8 796.8M199.8 793.0L198.7 789.2M199.8 785.4L198.6 781.7M199.8 777.9L198.5 774.1M199.8 770.3L198.4 766.5M199.8 762.7L198.2 759.0M199.9 755.1L198.1 751.5M199.9 747.6L197.9 744.0M199.9 740.0L197.7 736.5M200.0 732.4L197.6 729.1M200.0 724.8L197.5 721.8M199.9 717.1L197.7 714.5M199.8 709.5L198.3 707.2M199.7 701.9L199.0 699.7M199.6 694.4L199.5 691.9M199.6 686.9L199.8 684.1M199.6 679.4L199.8 676.3M199.6 671.8L199.6 668.5M199.6 664.3L199.4 660.9M207.3 853.5L206.6 849.9M207.3 846.0L206.6 842.3M207.4 838.4L206.5 834.7M207.4 830.8L206.5 827.2M207.4 823.3L206.4 819.6M207.4 815.7L206.4 812.0M207.4 808.1L206.3 804.4M207.4 800.6L206.3 796.9M207.4 793.0L206.2 789.3M207.4 785.4L206.1 781.7M207.4 777.8L206.0 774.2M207.5 770.3L205.9 766.6M207.5 762.7L205.8 759.1M207.5 755.1L205.7 751.6M207.5 747.5L205.5 744.1M207.5 739.9L205.4 736.7M207.6 732.3L205.4 729.3M207.6 724.7L205.4 721.9M207.5 717.1L205.6 714.5M207.5 709.5L205.9 707.1M207.4 702.0L206.4 699.6M207.3 694.4L206.7 691.9M207.3 686.9L206.9 684.2M207.3 679.3L207.0 676.4M207.3 671.8L206.9 668.7M207.3 664.2L206.7 661.1M207.4 656.7L206.5 653.5M207.4 649.1L206.3 645.9M207.4 641.5L206.1 638.3M215.0 853.5L214.1 849.9M215.0 846.0L214.1 842.3M215.0 838.4L214.1 834.8M215.0 830.8L214.0 827.2M215.0 823.3L214.0 819.6M215.0 815.7L213.9 812.1M215.0 808.1L213.9 804.5M215.0 800.6L213.8 796.9M215.1 793.0L213.8 789.4M215.1 785.4L213.7 781.8M215.1 777.8L213.6 774.3M215.1 770.3L213.5 766.7M215.1 762.7L213.4 759.2M215.1 755.1L213.3 751.7M215.2 747.5L213.2 744.2M215.2 739.9L213.1 736.8M215.2 732.3L213.1 729.3M215.2 724.7L213.1 721.9M215.1 717.1L213.3 714.5M215.1 709.5L213.5 707.0M215.0 702.0L213.8 699.5M215.0 694.4L214.0 691.9M215.0 686.9L214.2 684.2M215.0 679.3L214.2 676.5M215.0 671.8L214.2 668.9M215.0 664.2L214.1 661.2M215.0 656.6L213.9 653.6M215.1 649.1L213.8 646.1M215.1 641.5L213.6 638.5M215.1 633.9L213.4 631.0M222.6 853.5L221.7 849.9M222.6 846.0L221.6 842.4M222.6 838.4L221.6 834.8M222.7 830.8L221.6 827.2M222.7 823.3L221.5 819.7M222.7 815.7L221.5 812.1M222.7 808.1L221.4 804.5M222.7 800.5L221.4 797.0M222.7 793.0L221.3 789.4M222.7 785.4L221.2 781.9M222.7 777.8L221.2 774.3M222.7 770.2L221.1 766.8M222.8 762.7L221.0 759.3M222.8 755.1L220.9 751.8M222.8 747.5L220.8 744.3M222.8 739.9L220.8 736.8M222.8 732.3L220.8 729.4M222.8 724.7L220.8 721.9M222.8 717.1L220.9 714.5M222.7 709.6L221.1 707.0M222.7 702.0L221.3 699.4M222.7 694.4L221.4 691.8M222.7 686.9L221.5 684.2M222.7 679.3L221.5 676.6M222.7 671.7L221.5 669.0M222.7 664.2L221.4 661.4M222.7 656.6L221.3 653.8M222.7 649.0L221.2 646.2M222.8 641.5L221.0 638.7M222.8 633.9L220.9 631.2M230.3 853.5L229.2 850.0M230.3 846.0L229.2 842.4M230.3 838.4L229.2 834.8M230.3 830.8L229.1 827.3M230.3 823.3L229.1 819.7M230.3 815.7L229.0 812.1M230.3 808.1L229.0 804.6M230.3 800.5L228.9 797.0M230.3 793.0L228.9 789.5M230.4 785.4L228.8 781.9M230.4 777.8L228.7 774.4M230.4 770.2L228.7 766.9M230.4 762.7L228.6 759.4M230.4 755.1L228.5 751.8M230.4 747.5L228.5 744.4M230.4 739.9L228.4 736.9M230.4 732.3L228.4 729.4M230.4 724.7L228.5 721.9M230.4 717.1L228.5 714.4M230.4 709.6L228.6 706.9M230.4 702.0L228.7 699.4M230.3 694.4L228.8 691.8M230.3 686.9L228.9 684.2M230.3 679.3L228.9 676.6M230.3 671.7L228.9 669.0M230.3 664.2L228.8 661.5M230.4 656.6L228.7 653.9M230.4 649.0L228.6 646.3M230.4 641.4L228.5 638.8M230.4 633.8L228.3 631.3M237.9 853.5L236.8 850.0M237.9 846.0L236.8 842.4M237.9 838.4L236.7 834.9M237.9 830.8L236.7 827.3M237.9 823.2L236.6 819.7M238.0 815.7L236.6 812.2M238.0 808.1L236.5 804.6M238.0 800.5L236.5 797.1M238.0 793.0L236.4 789.5M238.0 785.4L236.4 782.0M238.0 777.8L236.3 774.5M238.0 770.2L236.2 766.9M238.0 762.6L236.2 759.4M238.0 755.1L236.1 751.9M238.0 747.5L236.1 744.4M238.0 739.9L236.1 736.9M238.0 732.3L236.1 729.4M238.0 724.7L236.1 721.9M238.0 717.1L236.1 714.4M238.0 709.6L236.2 706.9M238.0 702.0L236.3 699.4M238.0 694.4L236.3 691.8M238.0 686.8L236.3 684.3M238.0 679.3L236.3 676.7M238.0 671.7L236.3 669.1M238.0 664.1L236.3 661.5M238.0 656.6L236.2 654.0M238.0 649.0L236.1 646.5M238.1 641.4L235.9 639.0M238.1 633.8L235.8 631.4M245.6 853.5L244.3 850.0M245.6 846.0L244.3 842.5M245.6 838.4L244.3 834.9M245.6 830.8L244.2 827.3M245.6 823.2L244.2 819.8M245.6 815.7L244.2 812.2M245.6 808.1L244.1 804.7M245.6 800.5L244.1 797.1M245.6 792.9L244.0 789.6M245.6 785.4L243.9 782.0M245.6 777.8L243.9 774.5M245.7 770.2L243.8 767.0M245.7 762.6L243.8 759.5M245.7 755.1L243.7 751.9M245.7 747.5L243.7 744.4M245.7 739.9L243.7 736.9M245.7 732.3L243.7 729.4M245.7 724.7L243.7 721.9M245.7 717.1L243.7 714.4M245.7 709.6L243.7 706.9M245.7 702.0L243.8 699.4M245.7 694.4L243.8 691.8M245.7 686.8L243.8 684.3M245.7 679.3L243.8 676.7M245.7 671.7L243.8 669.2M245.7 664.1L243.7 661.6M245.7 656.5L243.6 654.1M245.7 649.0L243.5 646.6M245.7 641.4L243.4 639.1M245.7 633.8L243.4 631.5M253.2 853.5L251.9 850.1M253.2 845.9L251.9 842.5M253.2 838.4L251.8 834.9M253.2 830.8L251.8 827.4M253.2 823.2L251.8 819.8M253.2 815.7L251.7 812.3M253.2 808.1L251.7 804.7M253.3 800.5L251.6 797.2M253.3 792.9L251.6 789.6M253.3 785.4L251.5 782.1M253.3 777.8L251.5 774.6M253.3 770.2L251.4 767.0M253.3 762.6L251.4 759.5M253.3 755.0L251.3 752.0M253.3 747.5L251.3 744.5M253.3 739.9L251.3 737.0M253.3 732.3L251.3 729.5M253.3 724.7L251.3 722.0M253.3 717.1L251.3 714.4M253.3 709.6L251.3 706.9M253.3 702.0L251.3 699.4M253.3 694.4L251.3 691.9M253.3 686.8L251.3 684.3M253.3 679.3L251.3 676.8M253.3 671.7L251.2 669.2M253.3 664.1L251.2 661.7M253.3 656.5L251.1 654.2M253.4 649.0L251.0 646.7M253.4 641.4L251.0 639.1M253.4 633.8L251.0 631.5M260.8 853.5L259.5 850.1M260.9 845.9L259.4 842.5M260.9 838.4L259.4 835.0M260.9 830.8L259.4 827.4M260.9 823.2L259.3 819.9M260.9 815.7L259.3 812.3M260.9 808.1L259.2 804.8M260.9 800.5L259.2 797.2M260.9 792.9L259.1 789.7M260.9 785.4L259.1 782.1M260.9 777.8L259.1 774.6M260.9 770.2L259.0 767.1M260.9 762.6L259.0 759.6M260.9 755.0L258.9 752.0M260.9 747.5L258.9 744.5M261.0 739.9L258.9 737.0M261.0 732.3L258.9 729.5M261.0 724.7L258.8 722.0M261.0 717.1L258.8 714.5M261.0 709.6L258.8 706.9M261.0 702.0L258.8 699.4M261.0 694.4L258.8 691.9M261.0 686.8L258.8 684.4M261.0 679.3L258.8 676.8M261.0 671.7L258.7 669.3M261.0 664.1L258.7 661.8M261.0 656.5L258.6 654.3M261.0 649.0L258.6 646.7M261.0 641.4L258.6 639.1M261.0 633.8L258.6 631.5M268.5 853.5L267.0 850.1M268.5 845.9L267.0 842.6M268.5 838.4L267.0 835.0M268.5 830.8L266.9 827.5M268.5 823.2L266.9 819.9M268.5 815.6L266.9 812.4M268.5 808.1L266.8 804.8M268.5 800.5L266.8 797.3M268.5 792.9L266.7 789.7M268.6 785.3L266.7 782.2M268.6 777.8L266.6 774.7M268.6 770.2L266.6 767.1M268.6 762.6L266.6 759.6M268.6 755.0L266.5 752.1M268.6 747.5L266.5 744.6M268.6 739.9L266.5 737.0M268.6 732.3L266.4 729.5M268.6 724.7L266.4 722.0M268.6 717.1L266.4 714.5M268.6 709.6L266.4 707.0M268.6 702.0L266.4 699.4M268.6 694.4L266.4 691.9M268.6 686.8L266.3 684.4M268.6 679.2L266.3 676.9M268.6 671.7L266.3 669.4M268.6 664.1L266.2 661.8M268.6 656.5L266.2 654.3M268.6 649.0L266.2 646.7M268.6 641.4L266.2 639.1M268.6 633.8L266.2 631.5" stroke="#0c1c12" stroke-width="1.1" fill="none"/>
<path d="M47.7 851.3L48.2 850.1M47.7 843.7L48.2 842.5M47.7 836.2L48.2 835.0M47.8 828.6L48.3 827.4M47.8 821.0L48.3 819.9M47.8 813.5L48.4 812.3M47.8 805.9L48.4 804.8M47.9 798.4L48.5 797.2M47.9 790.8L48.5 789.7M47.9 783.3L48.6 782.1M47.9 775.7L48.6 774.6M48.0 768.2L48.6 767.1M48.0 760.6L48.7 759.6M48.0 753.1L48.7 752.0M48.0 745.6L48.8 744.5M48.0 738.0L48.8 737.0M48.1 730.5L48.8 729.5M48.1 722.9L48.8 722.0M48.1 715.4L48.8 714.5M55.3 851.3L55.7 850.1M55.3 843.7L55.8 842.5M55.3 836.1L55.8 834.9M55.3 828.6L55.9 827.4M55.4 821.0L55.9 819.8M55.4 813.5L55.9 812.3M55.4 805.9L56.0 804.7M55.5 798.3L56.0 797.2M55.5 790.8L56.1 789.6M55.5 783.2L56.1 782.1M55.5 775.7L56.2 774.6M55.6 768.1L56.2 767.0M55.6 760.6L56.3 759.5M55.6 753.1L56.3 752.0M55.6 745.5L56.3 744.5M55.7 738.0L56.4 737.0M55.7 730.5L56.4 729.5M55.7 722.9L56.4 722.0M55.7 715.4L56.4 714.4M62.9 851.3L63.3 850.0M62.9 843.7L63.3 842.5M62.9 836.1L63.4 834.9M62.9 828.6L63.4 827.4M63.0 821.0L63.5 819.8M63.0 813.4L63.5 812.2M63.0 805.9L63.6 804.7M63.0 798.3L63.6 797.1M63.1 790.8L63.7 789.6M63.1 783.2L63.7 782.1M63.1 775.7L63.8 774.5M63.2 768.1L63.8 767.0M63.2 760.6L63.9 759.5M63.2 753.0L63.9 752.0M63.2 745.5L63.9 744.4M63.3 738.0L64.0 736.9M63.3 730.4L64.0 729.4M63.3 722.9L64.0 721.9M70.5 851.2L70.9 850.0M70.5 843.7L70.9 842.4M70.5 836.1L70.9 834.9M70.5 828.5L71.0 827.3M70.6 821.0L71.0 819.8M70.6 813.4L71.1 812.2M70.6 805.9L71.1 804.6M70.6 798.3L71.2 797.1M70.7 790.7L71.2 789.5M70.7 783.2L71.3 782.0M70.7 775.6L71.3 774.5M70.8 768.1L71.4 766.9M70.8 760.5L71.5 759.4M70.8 753.0L71.5 751.9M70.9 745.5L71.5 744.4M70.9 738.0L71.6 736.9M70.9 730.4L71.6 729.4M70.9 722.9L71.6 721.9M78.1 851.2L78.4 850.0M78.1 843.7L78.5 842.4M78.1 836.1L78.5 834.8M78.1 828.5L78.5 827.3M78.1 821.0L78.6 819.7M78.2 813.4L78.6 812.2M78.2 805.8L78.7 804.6M78.2 798.3L78.7 797.0M78.3 790.7L78.8 789.5M78.3 783.2L78.9 782.0M78.3 775.6L78.9 774.4M78.4 768.1L79.0 766.9M78.4 760.5L79.1 759.4M78.5 753.0L79.1 751.9M78.5 745.5L79.2 744.4M78.5 737.9L79.2 736.9M78.5 730.4L79.2 729.4M78.5 722.9L79.2 721.9M85.6 851.2L86.0 849.9M85.7 843.6L86.0 842.4M85.7 836.1L86.0 834.8M85.7 828.5L86.1 827.2M85.7 820.9L86.1 819.7M85.8 813.4L86.2 812.1M85.8 805.8L86.2 804.6M85.8 798.2L86.3 797.0M85.9 790.7L86.3 789.4M85.9 783.1L86.4 781.9M85.9 775.6L86.5 774.4M86.0 768.0L86.6 766.8M86.0 760.5L86.6 759.3M86.1 752.9L86.7 751.8M86.1 745.4L86.8 744.3M86.1 737.9L86.8 736.8M86.1 730.4L86.8 729.4M86.1 722.9L86.8 721.9M93.2 851.2L93.5 849.9M93.2 843.6L93.6 842.4M93.3 836.0L93.6 834.8M93.3 828.5L93.6 827.2M93.3 820.9L93.7 819.6M93.3 813.3L93.7 812.1M93.4 805.8L93.8 804.5M93.4 798.2L93.8 796.9M93.4 790.6L93.9 789.4M93.5 783.1L94.0 781.8M93.5 775.5L94.1 774.3M93.6 768.0L94.2 766.7M93.6 760.4L94.2 759.2M93.7 752.9L94.3 751.7M93.8 745.4L94.4 744.2M93.8 737.9L94.5 736.8M93.8 730.4L94.5 729.3M93.8 722.9L94.5 721.9M100.8 851.2L101.1 849.9M100.8 843.6L101.1 842.3M100.8 836.0L101.1 834.8M100.9 828.5L101.2 827.2M100.9 820.9L101.2 819.6M100.9 813.3L101.3 812.0M100.9 805.7L101.3 804.5M101.0 798.2L101.4 796.9M101.0 790.6L101.4 789.3M101.1 783.0L101.5 781.8M101.1 775.5L101.6 774.2M101.2 767.9L101.7 766.7M101.3 760.4L101.8 759.1M101.3 752.8L102.0 751.6M101.4 745.3L102.1 744.1M101.5 737.8L102.2 736.7M101.5 730.4L102.2 729.3M101.5 722.9L102.2 721.9M101.2 631.9L101.7 630.9M108.4 851.2L108.6 849.9M108.4 843.6L108.6 842.3M108.4 836.0L108.7 834.7M108.4 828.4L108.7 827.1M108.5 820.9L108.7 819.6M108.5 813.3L108.8 812.0M108.5 805.7L108.8 804.4M108.5 798.1L108.9 796.8M108.6 790.6L109.0 789.3M108.6 783.0L109.1 781.7M108.7 775.4L109.2 774.1M108.8 767.9L109.3 766.6M108.8 760.3L109.4 759.0M108.9 752.8L109.6 751.5M109.0 745.2L109.7 744.0M109.1 737.7L109.9 736.5M109.2 730.3L110.0 729.2M109.2 722.9L110.0 721.8M108.3 654.5L108.5 653.3M116.0 851.1L116.2 849.9M116.0 843.6L116.2 842.3M116.0 836.0L116.2 834.7M116.0 828.4L116.2 827.1M116.0 820.8L116.3 819.5M116.1 813.3L116.3 812.0M116.1 805.7L116.4 804.4M116.1 798.1L116.4 796.8M116.2 790.5L116.5 789.2M116.2 783.0L116.6 781.6M116.3 775.4L116.7 774.0M116.3 767.8L116.8 766.5M116.4 760.2L117.0 758.9M116.5 752.7L117.1 751.3M116.7 745.1L117.4 743.8M116.8 737.6L117.6 736.3M117.0 730.1L117.9 728.9M117.0 722.7L118.0 721.6M116.9 715.4L117.8 714.4M115.3 677.2L115.1 676.1M115.5 669.6L115.3 668.3M115.6 661.9L115.6 660.7M115.8 654.4L115.9 653.1M123.5 851.1L123.7 849.8M123.5 843.6L123.7 842.3M123.6 836.0L123.7 834.7M123.6 828.4L123.8 827.1M123.6 820.8L123.8 819.5M123.6 813.2L123.8 811.9M123.6 805.7L123.9 804.3M123.7 798.1L123.9 796.7M123.7 790.5L124.0 789.1M123.8 782.9L124.1 781.5M123.8 775.3L124.2 773.9M123.9 767.7L124.3 766.3M124.0 760.1L124.5 758.7M124.1 752.6L124.7 751.1M124.3 745.0L124.9 743.6M124.4 737.4L125.3 736.0M124.7 729.9L125.6 728.5M124.8 722.5L125.9 721.2M124.8 715.1L125.9 713.9M124.3 707.8L124.9 706.8M122.6 692.5L122.2 691.4M122.5 684.7L121.9 683.4M122.7 677.0L122.2 675.6M122.9 669.3L122.6 668.0M123.1 661.8L123.0 660.4M123.3 654.2L123.3 652.8M131.1 851.1L131.2 849.8M131.1 843.6L131.2 842.2M131.1 836.0L131.3 834.7M131.1 828.4L131.3 827.1M131.2 820.8L131.3 819.5M131.2 813.2L131.3 811.9M131.2 805.6L131.4 804.3M131.2 798.1L131.4 796.7M131.2 790.5L131.5 789.1M131.3 782.9L131.5 781.5M131.3 775.3L131.6 773.9M131.4 767.7L131.7 766.2M131.5 760.1L131.9 758.6M131.6 752.4L132.1 750.9M131.8 744.8L132.4 743.3M132.0 737.2L132.7 735.6M132.3 729.6L133.2 727.9M132.5 722.0L133.7 720.3M132.6 714.4L133.8 712.8M129.9 691.7L129.2 690.1M129.9 684.1L129.1 682.5M130.1 676.6L129.6 675.0M130.4 669.1L130.1 667.5M130.7 661.6L130.5 660.0M130.9 654.1L130.8 652.6M131.0 646.5L131.1 645.1M138.7 851.1L138.8 849.8M138.7 843.5L138.8 842.2M138.7 836.0L138.8 834.6M138.7 828.4L138.8 827.1M138.7 820.8L138.8 819.5M138.7 813.2L138.8 811.9M138.7 805.6L138.9 804.3M138.8 798.0L138.9 796.7M138.8 790.4L138.9 789.1M138.8 782.8L139.0 781.4M138.9 775.2L139.1 773.8M138.9 767.6L139.1 766.1M139.0 760.0L139.3 758.5M139.1 752.3L139.4 750.7M139.2 744.6L139.7 743.0M139.4 736.9L140.0 735.1M139.7 729.1L140.4 727.2M140.0 721.0L140.9 719.2M140.2 713.0L141.0 711.1M139.6 705.0L140.1 703.1M137.4 690.1L136.9 688.2M137.5 683.1L136.9 681.2M137.8 676.0L137.3 674.1M138.1 668.7L137.8 666.9M138.3 661.3L138.1 659.6M138.5 653.9L138.4 652.3M138.6 646.4L138.6 644.9M146.3 851.1L146.3 849.8M146.3 843.5L146.3 842.2M146.3 836.0L146.3 834.6M146.3 828.4L146.3 827.0M146.3 820.8L146.3 819.5M146.3 813.2L146.3 811.9M146.3 805.6L146.4 804.3M146.3 798.0L146.4 796.6M146.3 790.4L146.4 789.0M146.3 782.8L146.4 781.4M146.3 775.2L146.5 773.7M146.4 767.6L146.5 766.1M146.4 759.9L146.6 758.3M146.5 752.2L146.7 750.6M146.6 744.5L146.8 742.7M146.7 736.6L147.0 734.7M146.9 728.4L147.3 726.4M147.1 720.0L147.5 718.0M147.2 711.4L147.6 709.4M146.8 703.0L147.0 701.0M146.0 695.2L145.9 693.2M145.5 688.2L145.2 686.2M145.5 681.6L145.2 679.6M145.7 674.9L145.4 672.9M145.9 668.1L145.7 666.1M146.0 661.0L145.9 659.2M146.1 653.7L146.1 652.0M146.2 646.3L146.2 644.7M153.8 851.1L153.8 849.8M153.8 843.5L153.8 842.2M153.8 836.0L153.8 834.6M153.8 828.4L153.8 827.0M153.8 820.8L153.8 819.4M153.8 813.2L153.8 811.9M153.8 805.6L153.8 804.2M153.8 798.0L153.8 796.6M153.8 790.4L153.8 789.0M153.8 782.8L153.8 781.4M153.8 775.2L153.8 773.7M153.8 767.6L153.9 766.0M153.8 759.9L153.9 758.3M153.9 752.2L153.9 750.5M153.9 744.4L153.9 742.5M153.9 736.4L153.9 734.4M153.9 728.0L153.9 726.0M153.9 719.3L154.0 717.3M153.9 710.5L154.0 708.5M153.9 702.2L153.9 700.2M153.8 694.7L153.8 692.7M153.7 687.2L153.7 685.2M153.7 680.7L153.7 678.7M153.8 674.3L153.7 672.3M153.8 667.7L153.8 665.7M153.8 660.9L153.8 658.9M153.8 653.6L153.8 651.8M153.8 646.3L153.8 644.6M161.4 851.1L161.4 849.8M161.4 843.5L161.4 842.2M161.4 836.0L161.4 834.6M161.4 828.4L161.3 827.0M161.4 820.8L161.3 819.5M161.4 813.2L161.3 811.9M161.4 805.6L161.3 804.3M161.4 798.0L161.3 796.6M161.4 790.4L161.3 789.0M161.3 782.8L161.3 781.4M161.3 775.2L161.2 773.7M161.3 767.6L161.2 766.1M161.3 759.9L161.1 758.3M161.2 752.2L161.1 750.5M161.2 744.4L160.9 742.6M161.1 736.6L160.8 734.6M160.9 728.3L160.6 726.3M160.7 719.8L160.4 717.8M160.6 711.2L160.3 709.2M160.9 702.7L160.8 700.7M161.6 695.0L161.6 693.0M162.0 688.0L162.2 686.0M162.0 681.4L162.3 679.4M161.9 674.8L162.1 672.8M161.7 668.0L161.8 666.0M161.6 661.0L161.7 659.1M161.5 653.7L161.5 652.0M161.4 646.3L161.4 644.7M169.0 851.1L168.9 849.8M169.0 843.5L168.9 842.2M169.0 836.0L168.9 834.6M169.0 828.4L168.9 827.1M168.9 820.8L168.8 819.5M168.9 813.2L168.8 811.9M168.9 805.6L168.8 804.3M168.9 798.0L168.8 796.7M168.9 790.4L168.7 789.0M168.9 782.8L168.7 781.4M168.8 775.2L168.6 773.8M168.8 767.6L168.6 766.1M168.7 760.0L168.4 758.4M168.6 752.3L168.3 750.7M168.5 744.6L168.1 742.9M168.3 736.9L167.8 735.0M168.1 729.0L167.4 727.1M167.7 720.8L167.0 719.0M167.5 712.6L166.8 710.8M168.1 704.6L167.7 702.6M169.4 696.9L169.5 694.9M170.1 689.8L170.6 687.8M170.1 682.8L170.6 680.9M169.8 675.8L170.2 673.9M169.5 668.6L169.8 666.7M169.3 661.3L169.5 659.5M169.2 653.9L169.2 652.2M169.1 646.4L169.0 644.9M176.5 851.1L176.4 849.8M176.5 843.6L176.4 842.2M176.5 836.0L176.4 834.7M176.5 828.4L176.4 827.1M176.5 820.8L176.4 819.5M176.5 813.2L176.3 811.9M176.5 805.6L176.3 804.3M176.4 798.1L176.3 796.7M176.4 790.5L176.2 789.1M176.4 782.9L176.1 781.5M176.3 775.3L176.1 773.8M176.3 767.7L175.9 766.2M176.2 760.0L175.8 758.6M176.1 752.4L175.6 750.9M175.9 744.8L175.3 743.2M175.7 737.1L175.0 735.5M175.4 729.5L174.5 727.8M175.1 721.8L174.0 720.1M175.0 714.1L173.9 712.4M177.8 691.5L178.5 689.7M177.8 684.0L178.5 682.2M177.5 676.5L178.1 674.8M177.2 669.0L177.6 667.4M177.0 661.5L177.2 659.9M176.8 654.0L176.8 652.5M176.6 646.5L176.6 645.1M184.1 851.1L184.0 849.8M184.1 843.6L183.9 842.3M184.1 836.0L183.9 834.7M184.1 828.4L183.9 827.1M184.1 820.8L183.9 819.5M184.0 813.2L183.8 811.9M184.0 805.7L183.8 804.3M184.0 798.1L183.7 796.7M184.0 790.5L183.7 789.1M183.9 782.9L183.6 781.5M183.9 775.3L183.5 773.9M183.8 767.7L183.4 766.3M183.7 760.1L183.2 758.7M183.6 752.5L183.0 751.1M183.4 744.9L182.7 743.5M183.2 737.4L182.4 735.9M183.0 729.8L182.0 728.4M182.8 722.4L181.7 721.0M182.8 715.0L181.7 713.7M183.3 707.6L182.6 706.5M185.1 692.3L185.7 691.1M185.2 684.6L185.8 683.2M185.0 676.9L185.5 675.5M184.8 669.3L185.1 667.9M184.5 661.7L184.7 660.3M184.3 654.2L184.4 652.8M191.7 851.1L191.5 849.9M191.7 843.6L191.5 842.3M191.7 836.0L191.5 834.7M191.6 828.4L191.4 827.1M191.6 820.8L191.4 819.5M191.6 813.3L191.3 811.9M191.6 805.7L191.3 804.4M191.5 798.1L191.2 796.8M191.5 790.5L191.2 789.2M191.5 782.9L191.1 781.6M191.4 775.4L191.0 774.0M191.3 767.8L190.9 766.4M191.2 760.2L190.7 758.8M191.1 752.6L190.5 751.3M191.0 745.1L190.3 743.7M190.8 737.6L190.0 736.3M190.7 730.1L189.7 728.8M190.6 722.7L189.6 721.5M190.7 715.3L189.8 714.4M192.4 677.2L192.7 676.0M192.2 669.5L192.4 668.2M192.0 661.9L192.1 660.6M191.9 654.3L191.8 653.0M199.3 851.2L199.0 849.9M199.3 843.6L199.0 842.3M199.2 836.0L199.0 834.7M199.2 828.4L199.0 827.1M199.2 820.9L198.9 819.6M199.2 813.3L198.9 812.0M199.1 805.7L198.8 804.4M199.1 798.1L198.8 796.8M199.1 790.6L198.7 789.2M199.0 783.0L198.6 781.7M199.0 775.4L198.5 774.1M198.9 767.9L198.4 766.5M198.8 760.3L198.2 759.0M198.7 752.7L198.1 751.5M198.6 745.2L197.9 744.0M198.5 737.7L197.7 736.5M198.4 730.3L197.6 729.1M198.4 722.8L197.5 721.8M206.8 851.2L206.6 849.9M206.8 843.6L206.6 842.3M206.8 836.0L206.5 834.7M206.8 828.5L206.5 827.2M206.8 820.9L206.4 819.6M206.7 813.3L206.4 812.0M206.7 805.7L206.3 804.4M206.7 798.2L206.3 796.9M206.6 790.6L206.2 789.3M206.6 783.0L206.1 781.7M206.5 775.5L206.0 774.2M206.5 767.9L205.9 766.6M206.4 760.4L205.8 759.1M206.3 752.8L205.7 751.6M206.2 745.3L205.5 744.1M206.2 737.8L205.4 736.7M206.1 730.3L205.4 729.3M206.1 722.9L205.4 721.9M206.6 639.5L206.1 638.3M214.4 851.2L214.1 849.9M214.4 843.6L214.1 842.3M214.4 836.0L214.1 834.8M214.4 828.5L214.0 827.2M214.3 820.9L214.0 819.6M214.3 813.3L213.9 812.1M214.3 805.8L213.9 804.5M214.3 798.2L213.8 796.9M214.2 790.6L213.8 789.4M214.2 783.1L213.7 781.8M214.1 775.5L213.6 774.3M214.1 768.0L213.5 766.7M214.0 760.4L213.4 759.2M213.9 752.9L213.3 751.7M213.9 745.4L213.2 744.2M213.8 737.9L213.1 736.8M213.8 730.4L213.1 729.3M213.9 722.9L213.1 721.9M222.0 851.2L221.7 849.9M222.0 843.6L221.6 842.4M222.0 836.1L221.6 834.8M222.0 828.5L221.6 827.2M221.9 820.9L221.5 819.7M221.9 813.4L221.5 812.1M221.9 805.8L221.4 804.5M221.8 798.2L221.4 797.0M221.8 790.7L221.3 789.4M221.8 783.1L221.2 781.9M221.7 775.6L221.2 774.3M221.7 768.0L221.1 766.8M221.6 760.5L221.0 759.3M221.6 752.9L220.9 751.8M221.5 745.4L220.8 744.3M221.5 737.9L220.8 736.8M221.5 730.4L220.8 729.4M221.5 722.9L220.8 721.9M229.6 851.2L229.2 850.0M229.6 843.6L229.2 842.4M229.6 836.1L229.2 834.8M229.5 828.5L229.1 827.3M229.5 820.9L229.1 819.7M229.5 813.4L229.0 812.1M229.5 805.8L229.0 804.6M229.4 798.3L228.9 797.0M229.4 790.7L228.9 789.5M229.3 783.1L228.8 781.9M229.3 775.6L228.7 774.4M229.3 768.0L228.7 766.9M229.2 760.5L228.6 759.4M229.2 753.0L228.5 751.8M229.2 745.5L228.5 744.4M229.1 737.9L228.4 736.9M229.1 730.4L228.4 729.4M229.2 722.9L228.5 721.9M237.2 851.2L236.8 850.0M237.2 843.7L236.8 842.4M237.1 836.1L236.7 834.9M237.1 828.5L236.7 827.3M237.1 821.0L236.6 819.7M237.1 813.4L236.6 812.2M237.0 805.8L236.5 804.6M237.0 798.3L236.5 797.1M237.0 790.7L236.4 789.5M236.9 783.2L236.4 782.0M236.9 775.6L236.3 774.5M236.9 768.1L236.2 766.9M236.8 760.5L236.2 759.4M236.8 753.0L236.1 751.9M236.8 745.5L236.1 744.4M236.8 738.0L236.1 736.9M236.8 730.4L236.1 729.4M236.8 722.9L236.1 721.9M244.8 851.3L244.3 850.0M244.8 843.7L244.3 842.5M244.7 836.1L244.3 834.9M244.7 828.6L244.2 827.3M244.7 821.0L244.2 819.8M244.7 813.4L244.2 812.2M244.6 805.9L244.1 804.7M244.6 798.3L244.1 797.1M244.6 790.8L244.0 789.6M244.5 783.2L243.9 782.0M244.5 775.7L243.9 774.5M244.5 768.1L243.8 767.0M244.4 760.6L243.8 759.5M244.4 753.0L243.7 751.9M244.4 745.5L243.7 744.4M244.4 738.0L243.7 736.9M244.4 730.4L243.7 729.4M244.4 722.9L243.7 721.9M252.4 851.3L251.9 850.1M252.3 843.7L251.9 842.5M252.3 836.1L251.8 834.9M252.3 828.6L251.8 827.4M252.3 821.0L251.8 819.8M252.2 813.5L251.7 812.3M252.2 805.9L251.7 804.7M252.2 798.3L251.6 797.2M252.2 790.8L251.6 789.6M252.1 783.2L251.5 782.1M252.1 775.7L251.5 774.6M252.1 768.1L251.4 767.0M252.0 760.6L251.4 759.5M252.0 753.1L251.3 752.0M252.0 745.5L251.3 744.5M252.0 738.0L251.3 737.0M252.0 730.5L251.3 729.5M252.0 722.9L251.3 722.0M260.0 851.3L259.5 850.1M259.9 843.7L259.4 842.5M259.9 836.2L259.4 835.0M259.9 828.6L259.4 827.4M259.9 821.0L259.3 819.9M259.8 813.5L259.3 812.3M259.8 805.9L259.2 804.8M259.8 798.4L259.2 797.2M259.8 790.8L259.1 789.7M259.7 783.3L259.1 782.1M259.7 775.7L259.1 774.6M259.7 768.2L259.0 767.1M259.7 760.6L259.0 759.6M259.6 753.1L258.9 752.0M259.6 745.5L258.9 744.5M259.6 738.0L258.9 737.0M259.6 730.5L258.9 729.5M259.6 722.9L258.8 722.0M259.6 715.4L258.8 714.5M267.5 851.3L267.0 850.1M267.5 843.7L267.0 842.6M267.5 836.2L267.0 835.0M267.5 828.6L266.9 827.5M267.5 821.1L266.9 819.9M267.4 813.5L266.9 812.4M267.4 805.9L266.8 804.8M267.4 798.4L266.8 797.3M267.4 790.8L266.7 789.7M267.3 783.3L266.7 782.2M267.3 775.7L266.6 774.7M267.3 768.2L266.6 767.1M267.3 760.7L266.6 759.6M267.2 753.1L266.5 752.1M267.2 745.6L266.5 744.6M267.2 738.0L266.5 737.0M267.2 730.5L266.4 729.5M267.2 723.0L266.4 722.0M267.2 715.4L266.4 714.5M267.2 707.9L266.4 707.0" stroke="#0c1c12" stroke-width="1.55" fill="none"/>
<path d="M107.9 649.1L108.2 648.1M107.9 641.5L108.2 640.5M107.8 634.0L108.2 633.0M115.6 649.2L115.8 648.1M115.5 641.6L115.8 640.5M115.5 634.0L115.8 632.9M123.2 649.2L123.4 648.0M123.2 641.6L123.4 640.5M123.2 634.0L123.4 632.9M130.7 709.6L131.1 708.7M131.0 702.1L130.9 701.1M130.9 641.6L131.0 640.4M130.8 634.1L131.0 632.9M138.6 702.3L138.5 700.9M138.5 641.7L138.6 640.4M138.5 634.1L138.6 632.9M146.2 641.7L146.2 640.4M146.2 634.1L146.2 632.8M153.8 641.7L153.8 640.4M153.8 634.1L153.8 632.8M161.5 641.7L161.4 640.4M161.5 634.1L161.4 632.8M169.1 641.7L169.0 640.4M169.1 634.1L169.0 632.9M176.9 709.7L176.5 708.7M176.7 702.1L176.8 701.1M176.8 641.6L176.7 640.4M176.8 634.1L176.6 632.9M184.4 649.2L184.3 648.0M184.4 641.6L184.3 640.5M184.5 634.0L184.2 632.9M192.0 649.2L191.9 648.1M192.1 641.6L191.9 640.5M192.1 634.0L191.8 632.9M199.7 656.7L199.5 655.7M199.7 649.1L199.5 648.1M199.8 641.5L199.4 640.5M199.8 634.0L199.4 633.0M207.5 633.9L207.0 633.0" stroke="#0a1840" stroke-width="1.05" stroke-opacity="0.72" fill="none"/>
</g>
<rect x="40.5" y="628" width="228.2" height="228" fill="none" stroke="#111" stroke-width="1.2"/>
<text x="37.3" y="860.3" font-size="12.4" text-anchor="end" font-family="Liberation Serif, serif" font-weight="bold" stroke="#000" stroke-width="0.25">0</text>
<text x="37.3" y="784.3" font-size="12.4" text-anchor="end" font-family="Liberation Serif, serif" font-weight="bold" stroke="#000" stroke-width="0.25">1E-05</text>
<text x="37.3" y="708.3" font-size="12.4" text-anchor="end" font-family="Liberation Serif, serif" font-weight="bold" stroke="#000" stroke-width="0.25">2E-05</text>
<text x="37.3" y="632.3" font-size="12.4" text-anchor="end" font-family="Liberation Serif, serif" font-weight="bold" stroke="#000" stroke-width="0.25">3E-05</text>
<text x="40.5" y="870.0" font-size="12.3" text-anchor="middle" font-family="Liberation Serif, serif" font-weight="bold" stroke="#000" stroke-width="0.25">0</text>
<text x="116.6" y="870.0" font-size="12.3" text-anchor="middle" font-family="Liberation Serif, serif" font-weight="bold" stroke="#000" stroke-width="0.25">1E-05</text>
<text x="192.6" y="870.0" font-size="12.3" text-anchor="middle" font-family="Liberation Serif, serif" font-weight="bold" stroke="#000" stroke-width="0.25">2E-05</text>
<text x="269.0" y="870.0" font-size="12.3" text-anchor="middle" font-family="Liberation Serif, serif" font-weight="bold" stroke="#000" stroke-width="0.25">3E-05</text>
<text x="135.3" y="880.0" font-size="14.5" font-family="Liberation Serif, serif" font-weight="bold" stroke="#000" stroke-width="0.25">X (m)</text>
<text transform="translate(20.3,742.0) rotate(-90)" font-size="15.2" text-anchor="middle" textLength="37" lengthAdjust="spacingAndGlyphs" font-family="Liberation Serif, serif" font-weight="bold" stroke="#000" stroke-width="0.25">Y (m)</text>
<text x="70.8" y="901.7" font-size="19.5" font-family="Liberation Serif, serif" font-weight="bold" stroke="#000" stroke-width="0.25">(e)</text>
<text x="100" y="900.3" font-size="16.5" textLength="130" lengthAdjust="spacingAndGlyphs" font-family="Liberation Serif, serif" font-weight="bold" stroke="#000" stroke-width="0.25">Stage 5 (t=9.16 ns)</text>
<rect x="407.7" y="681.3" width="29.1" height="11.7" fill="#ee2020"/>
<rect x="407.7" y="692.7" width="29.1" height="23.3" fill="#f58422"/>
<rect x="407.7" y="715.7" width="29.1" height="23.0" fill="#c2e833"/>
<rect x="407.7" y="738.4" width="29.1" height="24.6" fill="#58e032"/>
<rect x="407.7" y="762.7" width="29.1" height="22.8" fill="#52e052"/>
<rect x="407.7" y="785.2" width="29.1" height="23.3" fill="#72f0a0"/>
<rect x="407.7" y="808.2" width="29.1" height="22.8" fill="#3c8df2"/>
<rect x="407.7" y="830.7" width="29.1" height="11.6" fill="#2456e2"/>
<text x="451" y="702.5" font-size="19" font-family="Liberation Serif, serif" font-weight="bold" stroke="#000" stroke-width="0.25">2750</text>
<text x="451" y="725.8" font-size="19" font-family="Liberation Serif, serif" font-weight="bold" stroke="#000" stroke-width="0.25">2250</text>
<text x="451" y="748.8" font-size="19" font-family="Liberation Serif, serif" font-weight="bold" stroke="#000" stroke-width="0.25">1750</text>
<text x="451" y="771.8" font-size="19" font-family="Liberation Serif, serif" font-weight="bold" stroke="#000" stroke-width="0.25">1250</text>
<text x="451" y="794.8" font-size="19" font-family="Liberation Serif, serif" font-weight="bold" stroke="#000" stroke-width="0.25">750</text>
<text x="451" y="817.4" font-size="19" font-family="Liberation Serif, serif" font-weight="bold" stroke="#000" stroke-width="0.25">250</text>
<text x="445" y="839.8" font-size="19" font-family="Liberation Serif, serif" font-weight="bold" stroke="#000" stroke-width="0.25">-250</text>
<text x="412" y="651.2" font-size="19.3" font-family="Liberation Serif, serif" font-weight="bold" stroke="#000" stroke-width="0.25">V Velocity</text>
<text x="411.5" y="670" font-size="19.3" font-family="Liberation Serif, serif" font-weight="bold" stroke="#000" stroke-width="0.25">(m/s)</text>
</svg></body></html>
